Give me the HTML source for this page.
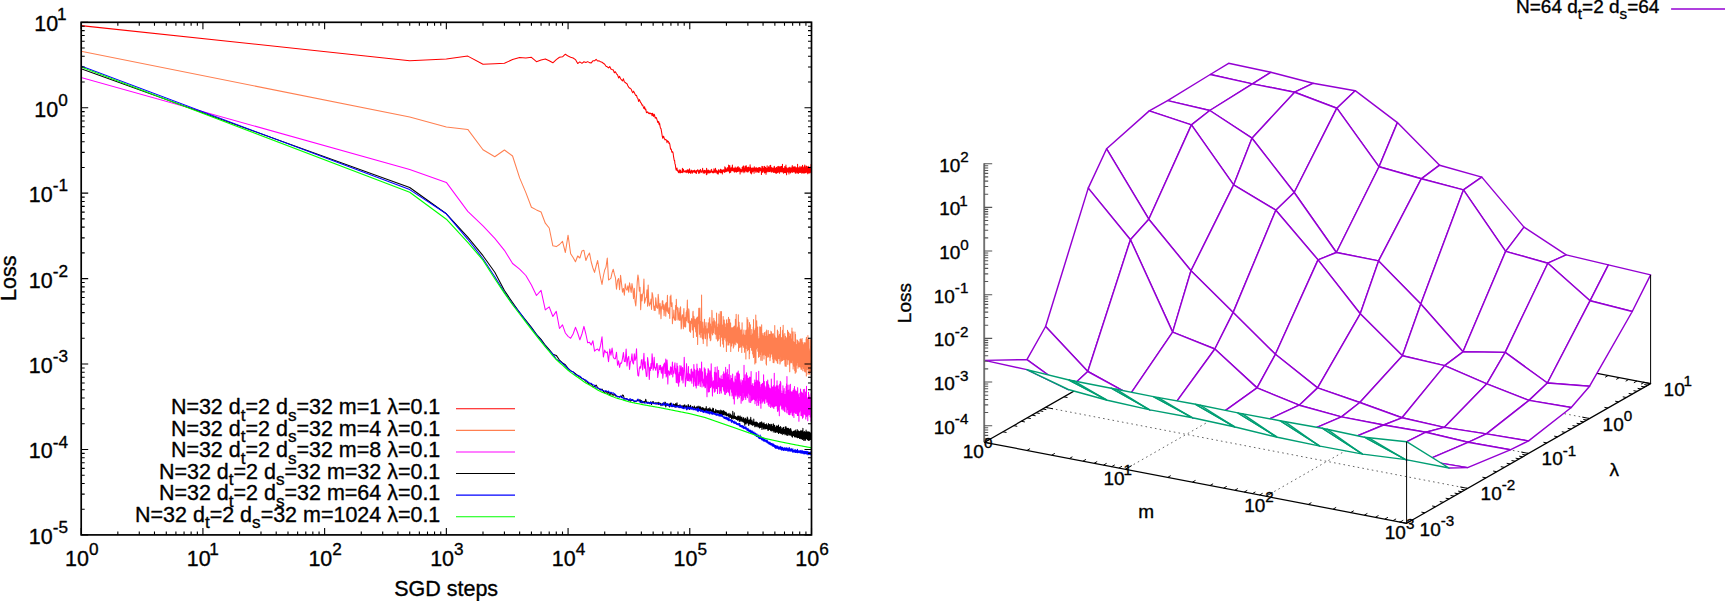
<!DOCTYPE html>
<html lang="en"><head><meta charset="utf-8"><title>Loss plots</title>
<style>html,body{margin:0;padding:0;background:#fff}body{width:1725px;height:601px;overflow:hidden}svg{display:block}svg text{stroke:#000;stroke-width:.35px;stroke-linejoin:round}</style></head>
<body>
<svg width="1725" height="601" viewBox="0 0 1725 601">
<rect width="1725" height="601" fill="#fff"/>
<g id="left" font-family='"Liberation Sans", "DejaVu Sans", sans-serif' fill="#000">
<clipPath id="lclip"><rect x="81.2" y="22.3" width="730.3" height="512.6"/></clipPath>
<g clip-path="url(#lclip)" fill="none" stroke-linejoin="round" stroke-linecap="butt">
<polyline stroke="#ff0000" stroke-width="1.05" points="81,25.6 409.71,60.7 446.35,59.1 467.78,56.1 482.99,64.2 494.79,63.8 504.42,63.3 512.57,59.6 519.63,57.5 525.86,58 531.43,57.3 536.46,61.7 541.06,60 545.3,58.9 549.21,60.7 552.86,62.8 556.27,59.6 559.48,57.3 562.5,56.8 565.36,54.2 568.07,56.1 570.65,57.3 573.1,58 575.45,59.6 577.7,63.5 579.86,61.9 581.94,63.32 583.93,61.73 585.85,62.47 587.71,61.61 589.5,62.62 591.23,62.92 592.91,60.81 594.54,60.85 596.12,59.29 597.65,61.01 599.14,60.89 600.59,61.83 602,62.22 603.37,63.28 604.71,64.2 606.01,66.24 607.29,66.84 608.53,67.93 609.75,66.59 610.93,68.99 612.09,69.66 613.23,69.84 614.34,72.76 615.43,71.76 616.5,73.79 617.55,74.87 618.58,77.91 619.58,76.41 620.57,78.77 621.54,79.83 622.49,80.89 623.43,78.84 624.35,81.91 625.25,82.47 626.14,83.34 627.01,83.71 627.87,85.81 628.72,87.11 629.55,88.12 630.37,88.27 631.18,89.28 631.97,91.19 632.76,92.75 633.53,91.13 634.29,92.57 635.04,94.21 635.78,95.4 636.51,95.34 637.23,97.77 637.94,98.6 638.64,101.48 639.33,99.59 640.01,100.94 640.68,102.84 641.35,103.11 642,105.15 642.65,104.95 643.29,106.89 643.93,108.47 644.55,106.67 645.17,109.67 645.78,109.15 646.39,112.41 646.98,112.64 647.57,111.81 648.16,112.45 648.74,113.57 649.31,113.76 649.87,112.73 650.43,113.73 650.99,113.63 651.53,113.43 652.08,115.76 652.61,113.16 653.14,115.49 653.67,116.36 654.19,114.2 654.71,115.71 655.22,118.27 655.72,117.54 656.22,117.41 656.72,118.8 657.21,120.31 657.7,122.33 658.18,122.58 658.66,121.37 659.13,124.69 659.6,123.28 660.07,126.28 660.53,128.33 660.99,128.52 661.44,131.1 661.89,133.91 662.34,136.6 662.78,138.27 663.22,136.52 663.65,136.32 664.09,137.83 664.51,138.83 664.94,139.86 665.36,139.36 665.78,139.63 666.19,140.01 666.6,140.03 667.01,142.64 667.42,140.67 667.82,141.49 668.22,141.23 668.61,141.91 669.01,143.56 669.4,143.03 669.78,144.07 670.17,146.56 670.55,149.15 670.93,148.97 671.31,149.22 671.68,151.24 672.05,152.35 672.42,151.71 672.78,151.96 673.15,153.47 673.51,156.29 673.87,158.46 674.22,160.48 674.58,160.35 674.93,163.66 675.28,164.42 675.62,167.1 675.97,169.4 676.31,170.18 676.65,168.99 676.99,167.99 677.32,170.21 677.66,170.99 677.99,171.18 678.32,172.21 678.64,172.65 678.97,170.2 679.29,169.79 679.61,172.02 679.93,172.87 680.25,172.89 680.57,169.94 680.88,172.58 681.19,171.79 681.5,171.94 681.81,172.38 682.12,172.6 682.42,168.3 682.72,171.75 683.03,172.33 683.33,169.16 683.62,170.36 683.92,170.82 684.21,171.67 684.51,171.42 684.8,171.22 685.09,172 685.38,171.03 685.66,170.95 685.95,170.51 686.23,172.69 686.51,170.99 686.79,171.58 687.07,171.84 687.35,169.66 687.63,170.64 687.9,172.49 688.17,170.07 688.45,173.17 688.72,170.09 688.98,171.7 689.25,172.58 689.52,168.85 689.78,172.44 690.05,171.58 690.31,172.95 690.57,171.38 690.83,173.55 691.09,169.99 691.35,171.98 691.6,171.39 691.86,170.42 692.11,172.13 692.36,173.11 692.61,172.98 692.86,170.74 693.11,171.39 693.36,171.9 693.61,170.53 693.85,171.56 694.1,172 694.34,171.05 694.58,170.16 694.82,172.53 695.06,170.77 695.3,172.45 695.54,172.53 695.77,172.97 696.01,172.75 696.24,170.59 696.48,173.46 696.71,170.8 696.94,171.84 697.17,170.95 697.4,170.89 697.63,169.72 697.86,170.27 698.08,170.7 698.31,170.43 698.53,172.42 698.76,173.49 698.98,173.17 699.2,171.6 699.42,171.37 699.64,170.19 699.86,172.8 700.08,171.66 700.29,170.91 700.51,169.4 700.73,171.2 700.94,171.32 701.15,171.46 701.37,172.42 701.58,171.34 701.79,170.88 702,171.02 702.21,170.39 702.42,171.32 702.63,168.28 702.83,170.98 703.04,173.01 703.24,172.66 703.45,170.67 703.65,171.26 703.86,172.28 704.06,171.2 704.26,173.34 704.46,170.26 704.66,172.61 704.86,172.88 705.06,170.53 705.25,171.72 705.45,171.55 705.65,172.09 705.84,172.08 706.04,172.34 706.23,170.12 706.42,174.8 706.62,168.38 706.81,170.22 707,174.33 707.19,171.63 707.38,170.4 707.57,171.91 707.76,171.22 707.95,172.71 708.13,171.96 708.32,169.92 708.51,171.65 708.69,172.96 708.87,172.56 709.06,170.89 709.24,170.48 709.42,171.87 709.61,171.83 709.79,172.92 709.97,171.83 710.15,172.32 710.33,172.66 710.51,171.66 710.69,171.43 710.86,170.52 711.04,169.97 711.22,171.62 711.39,171.94 711.57,169.32 711.74,170.48 711.92,170.75 712.09,171.75 712.26,171.82 712.44,172.72 712.61,172.02 712.78,171.93 712.95,171.52 713.12,171.26 713.29,173.01 713.46,171.02 713.63,172.53 713.8,172.15 713.96,168.71 714.13,171.68 714.3,169.75 714.46,170 714.63,172.14 714.79,170.91 714.96,172.82 715.12,172.41 715.28,171.63 715.45,168.33 715.61,171.24 715.77,171.55 715.93,171.98 716.09,171.98 716.25,170.12 716.41,170.73 716.57,172.45 716.73,170.69 716.89,171.72 717.05,173.56 717.21,171.06 717.36,172.96 717.52,172.35 717.68,171.24 717.83,173.37 717.99,174.13 718.14,171.72 718.3,173.91 718.45,169.67 718.6,170.28 718.76,172.73 718.91,172.12 719.06,171.6 719.21,172.07 719.37,170.79 719.52,171.18 719.67,171.79 719.82,171.03 719.97,172.01 720.11,171.24 720.26,169.21 720.41,172.84 720.56,171.35 720.71,172.49 720.85,169.36 721,172.53 721.15,172.32 721.29,170.84 721.44,171.17 721.58,170.24 721.73,170.9 721.87,172.79 722.02,170.11 722.16,172.25 722.3,174.07 722.45,172.77 722.59,170.31 722.73,171.11 722.87,169.99 723.01,170.71 723.15,171.79 723.29,171.58 723.43,170.85 723.57,169.67 723.71,170.22 723.85,171.25 723.99,170.47 724.13,171.06 724.27,170.52 724.4,172.55 724.54,171.08 724.68,172.01 724.81,166.8 724.95,171.91 725.09,170.39 725.22,172.07 725.36,168.25 725.49,167.77 725.62,169.29 725.76,168.89 725.89,169.27 726.03,169.89 726.16,171.15 726.29,171.61 726.42,171.48 726.56,169.1 726.69,169.37 726.82,168.81 726.95,170.58 727.08,170.33 727.21,168.58 727.34,167.49 727.47,169.08 727.6,171.17 727.73,168.59 727.86,170.43 727.99,170.73 728.11,169.7 728.24,169.33 728.37,171.04 728.5,170.43 728.62,165.12 728.75,168.06 728.88,169.7 729,170.23 729.13,171.55 729.25,170.26 729.38,168.73 729.5,172.5 729.63,172.94 729.75,165.56 729.88,167.65 730,169.54 730.12,170.31 730.25,168.36 730.37,168.8 730.49,172.03 730.61,171.16 730.74,172.35 730.86,168.09 730.98,169.32 731.1,167.94 731.22,169.17 731.34,170.81 731.46,170.33 731.58,168.18 731.7,170.07 731.82,170.4 731.94,166.95 732.06,169.6 732.18,170.07 732.3,170.77 732.41,165.01 732.53,169.52 732.65,170.64 732.77,170.56 732.88,170.19 733,168.48 733.12,169.87 733.23,168.79 733.35,167.94 733.47,170.41 733.58,169.52 733.7,170.35 733.81,170.74 733.93,171.68 734.04,168.75 734.16,171.34 734.27,169.4 734.38,169.17 734.5,168.39 734.61,170.51 734.72,169.54 734.84,172.26 734.95,170.04 735.06,169.7 735.17,167.1 735.28,170.11 735.4,168.45 735.51,169.69 735.62,168.65 735.73,168.91 735.84,168.87 735.95,171.45 736.06,168.23 736.17,170.8 736.28,168.29 736.39,167.93 736.5,170.39 736.61,172.28 736.72,170.46 736.83,170.48 736.94,171.65 737.04,170.79 737.15,170.79 737.26,168.52 737.37,167.62 737.47,167.3 737.58,170.81 737.69,170.24 737.79,168.98 737.9,171.48 738.01,170.53 738.11,166.61 738.22,169.37 738.32,170.59 738.43,168.89 738.54,169.67 738.64,170.47 738.75,170.81 738.85,171.15 738.95,168.09 739.06,170.58 739.16,169.69 739.27,168.99 739.37,168.18 739.47,169.05 739.58,167.91 739.68,167.81 739.78,170.32 739.88,171.29 739.99,171.27 740.09,174.08 740.19,169.42 740.29,171.05 740.39,168.96 740.5,171.45 740.6,170.13 740.7,170.06 740.8,169.4 740.9,170.07 741,171.63 741.1,170.29 741.2,170.15 741.3,171.19 741.4,169.9 741.5,170.83 741.6,170.04 741.7,169.82 741.8,169.29 741.89,171.21 741.99,172.15 742.09,169.42 742.19,167.31 742.29,167.61 742.39,168.26 742.48,169.83 742.58,169.89 742.68,170.09 742.77,169.38 742.87,170.86 742.97,168.99 743.06,166.58 743.16,169.23 743.26,165.92 743.35,171.34 743.45,170.72 743.54,166.47 743.64,169.11 743.74,170.93 743.83,166.13 743.93,172.84 744.02,168.72 744.12,166.86 744.21,170.06 744.3,171.01 744.4,170.05 744.49,170.58 744.59,170.39 744.68,169.67 744.77,170.1 744.87,170.73 744.96,171.08 745.05,171.88 745.15,168.32 745.24,171.06 745.33,167.8 745.42,170.76 745.52,166.1 745.61,167.49 745.7,170.29 745.79,169.97 745.88,169.91 745.97,167.06 746.06,169.85 746.16,170.88 746.25,168.59 746.34,165.83 746.43,169.89 746.52,171.19 746.61,169.04 746.7,168.08 746.79,171.15 746.88,171.82 746.97,168.55 747.06,171.55 747.15,168.64 747.24,167.47 747.33,169.75 747.41,168.21 747.5,169.61 747.59,170.83 747.68,169.82 747.77,170.65 747.86,172.3 747.94,171.08 748.03,168.07 748.12,169.7 748.21,170.1 748.3,167.09 748.38,171.4 748.47,170.6 748.56,169.08 748.64,168.83 748.73,171.07 748.82,171.01 748.9,167.43 748.99,168.37 749.08,168.61 749.16,167.87 749.25,168.41 749.33,169.3 749.42,169.46 749.5,169.98 749.59,169.03 749.68,169.98 749.76,168.78 749.85,169.63 749.93,170.78 750.01,169.09 750.1,164.78 750.18,168.79 750.27,169.76 750.35,168.72 750.44,172.88 750.52,169.04 750.6,166.95 750.69,170.13 750.77,168.57 750.85,169.4 750.94,172.23 751.02,171.4 751.1,169.06 751.19,170.99 751.27,170.4 751.35,169.1 751.43,169.6 751.52,168.87 751.6,173.86 751.68,168.29 751.76,169.48 751.84,168.43 751.93,170.29 752.01,168.96 752.09,172.26 752.17,167.69 752.25,170.41 752.33,169.22 752.41,169.67 752.49,171.41 752.57,170.33 752.65,169.49 752.73,169.68 752.81,171.51 752.9,169.89 752.98,169.47 753.06,168.59 753.13,169.66 753.21,168.3 753.29,168.06 753.37,170.3 753.45,170.57 753.53,170.24 753.61,171.23 753.69,169.73 753.77,168.63 753.85,169.59 753.93,169.84 754,168.38 754.08,173.28 754.16,168.97 754.24,170.38 754.32,166.87 754.4,170.67 754.47,168.52 754.55,169.04 754.63,170.81 754.71,168.99 754.78,169.06 754.86,168.59 754.94,170.43 755.01,170.78 755.09,170.6 755.17,169.51 755.24,171.08 755.32,170.61 755.4,168.45 755.47,169.32 755.55,171.21 755.63,170.7 755.7,168.49 755.78,169.72 755.85,170.08 755.93,167.6 756.01,172.39 756.08,172.11 756.16,167.4 756.23,170.74 756.31,171.1 756.38,169.07 756.46,168.81 756.53,170.6 756.61,171.07 756.68,169.99 756.76,169.33 756.83,169.11 756.9,169.94 756.98,169.88 757.05,169.82 757.13,168.1 757.2,171.15 757.27,171.14 757.35,170.55 757.42,168.68 757.49,170.38 757.57,171.93 757.64,169.53 757.71,170.64 757.79,171.11 757.86,170.44 757.93,170.9 758.01,170.15 758.08,169.11 758.15,168.24 758.22,169.28 758.3,169.64 758.37,172.11 758.44,169.13 758.51,167.82 758.58,171.93 758.66,172.3 758.73,170.06 758.8,169.98 758.87,167.44 758.94,169.77 759.01,172.49 759.09,171.77 759.16,168.77 759.23,169.69 759.3,170.6 759.37,168.44 759.44,168.95 759.51,169.12 759.58,170.09 759.65,170.85 759.72,170.93 759.79,167.57 759.86,169.2 759.93,170.44 760,167.45 760.07,170.1 760.14,169.64 760.21,170.75 760.28,168.98 760.35,170.24 760.42,168.41 760.49,168.4 760.56,170.12 760.63,169.68 760.7,170.67 760.77,168.86 760.84,170.37 760.91,170.08 760.97,169.68 761.04,170.71 761.11,170.71 761.18,170.64 761.25,169.04 761.32,168.9 761.39,170.67 761.45,174.46 761.52,169.4 761.59,171.32 761.66,169.8 761.73,168.09 761.79,169.25 761.86,170.49 761.93,166.27 762,172.31 762.06,168.92 762.13,169.01 762.2,169.8 762.27,171.36 762.33,167.91 762.4,168.88 762.47,168.71 762.53,168.93 762.6,172.15 762.67,168.99 762.73,172.31 762.8,166.84 762.87,167.67 762.93,168.61 763,166.49 763.06,170.94 763.13,168.99 763.2,171.21 763.26,168.27 763.33,168.81 763.39,170.63 763.46,170.02 763.52,170.88 763.59,170.32 763.66,170.72 763.72,169.69 763.79,168.61 763.85,170.69 763.92,168.2 763.98,168.95 764.05,170.77 764.11,168.3 764.18,170.08 764.24,171.71 764.3,168.62 764.37,171.39 764.43,172.86 764.5,172.47 764.56,166.23 764.63,171.35 764.69,168.4 764.75,167.6 764.82,171.67 764.88,170.57 764.95,170.25 765.01,171.85 765.07,169.3 765.14,169.71 765.2,167.84 765.26,167.79 765.33,169.53 765.39,172.52 765.45,171.7 765.52,167.38 765.58,170.08 765.64,168.37 765.71,170.07 765.77,168.14 765.83,170.08 765.89,171.83 765.96,172.5 766.02,174.18 766.08,170.29 766.14,170.22 766.21,170.96 766.27,172.57 766.33,170.58 766.39,170.3 766.45,170.39 766.52,170.97 766.58,169.92 766.64,169.72 766.7,171.64 766.76,169.11 766.83,168.07 766.89,168 766.95,171.87 767.01,171.96 767.07,168 767.13,165.74 767.19,167.93 767.25,168.16 767.32,171.48 767.38,170.2 767.44,169.87 767.5,170.72 767.56,170.77 767.62,169.64 767.68,169.24 767.74,169.45 767.8,169.42 767.86,170.54 767.92,169.17 767.98,170.1 768.04,171.24 768.1,168.63 768.16,168.21 768.22,171.22 768.28,169.04 768.34,171.17 768.4,167.95 768.46,170.58 768.52,166.84 768.58,170.64 768.64,171.3 768.7,170.07 768.76,171.79 768.82,170.94 768.88,169.37 768.94,170.54 769,167.63 769.05,170.6 769.11,169.55 769.17,171.06 769.23,169.3 769.29,171.4 769.35,170.9 769.41,168.71 769.47,169.2 769.52,170.59 769.58,171.06 769.64,167.77 769.7,169.67 769.76,171.13 769.82,169.7 769.87,165.72 769.93,170.67 769.99,168.91 770.05,171.69 770.11,168.38 770.16,169.28 770.22,169.04 770.28,165.28 770.34,169.01 770.39,168.76 770.45,168.86 770.51,168.01 770.57,170.06 770.62,167.1 770.68,165.57 770.74,168.79 770.8,169.73 770.85,170.19 770.91,170.64 770.97,170.15 771.02,170.7 771.08,170.04 771.14,168.39 771.19,169.01 771.25,169.98 771.31,168.37 771.36,171.63 771.42,169.41 771.48,167.56 771.53,168.13 771.59,171.36 771.65,170.23 771.7,168.15 771.76,170.33 771.81,170.23 771.87,172.11 771.93,169.27 771.98,169.89 772.04,171.63 772.09,172.04 772.15,168.93 772.2,169.44 772.26,170.76 772.31,168.4 772.37,168.08 772.43,170.6 772.48,170.91 772.54,169.2 772.59,170.98 772.65,168.79 772.7,171.35 772.76,169.3 772.81,168.23 772.87,169.3 772.92,169.91 772.98,169.32 773.03,170.99 773.09,169.92 773.14,168.41 773.2,168.51 773.25,168.56 773.3,170.35 773.36,170.62 773.41,167.97 773.47,171.64 773.52,170.01 773.58,169.03 773.63,169.37 773.68,172.4 773.74,168.62 773.79,170.29 773.85,170.55 773.9,170.59 773.95,168.82 774.01,170.33 774.06,170.4 774.11,171.24 774.17,171.24 774.22,166.37 774.27,169.53 774.33,167.45 774.38,169.96 774.44,166.52 774.49,170.36 774.54,172.12 774.59,169.08 774.65,170.67 774.7,169.75 774.75,169.34 774.81,169.71 774.86,170.68 774.91,170.25 774.97,168.1 775.02,170.55 775.07,171.48 775.12,169.05 775.18,167.9 775.23,171.13 775.28,171.46 775.33,172.78 775.39,171.82 775.44,168.27 775.49,169.01 775.54,168.23 775.59,169.3 775.65,168.8 775.7,171.4 775.75,168.73 775.8,171.39 775.85,170.84 775.91,170.39 775.96,170.99 776.01,170.99 776.06,170.54 776.11,171.59 776.16,168.31 776.22,173.45 776.27,171.4 776.32,171.04 776.37,169.98 776.42,169.06 776.47,167.18 776.52,171.21 776.58,170.46 776.63,169.81 776.68,172.48 776.73,169.87 776.78,169.04 776.83,168.11 776.88,168.21 776.93,167.92 776.98,171.02 777.03,170.3 777.09,171.17 777.14,168.95 777.19,168.88 777.24,170.36 777.29,168.91 777.34,170.24 777.39,168.79 777.44,169.43 777.49,170.65 777.54,171.38 777.59,171.15 777.64,171.69 777.69,172.61 777.74,166.56 777.79,168.84 777.84,169.91 777.89,168.35 777.94,168.32 777.99,170.64 778.04,169.66 778.09,166.21 778.14,170.38 778.19,170.53 778.24,170.72 778.29,170.37 778.34,169.71 778.39,170.44 778.44,168.06 778.49,169.72 778.53,168.38 778.58,171.94 778.63,170.94 778.68,170.25 778.73,170.99 778.78,170.1 778.83,170.64 778.88,170.05 778.93,168.09 778.98,170.4 779.03,171.17 779.07,167.97 779.12,166.65 779.17,171.05 779.22,168.27 779.27,169.88 779.32,171.51 779.37,171.31 779.42,173.27 779.46,170.52 779.51,166.95 779.56,170.19 779.61,171.86 779.66,170.33 779.71,169.52 779.75,170.11 779.8,169.3 779.85,171.3 779.9,167.39 779.95,169.86 779.99,171.31 780.04,170.32 780.09,169.8 780.14,166.83 780.19,170.16 780.23,168.3 780.28,169.95 780.33,167.8 780.38,170.21 780.42,166.85 780.47,170.5 780.52,168.77 780.57,169.63 780.61,171.74 780.66,170.09 780.71,169.01 780.76,170.99 780.8,169.04 780.85,170.68 780.9,169.57 780.94,171.37 780.99,167.73 781.04,171.96 781.09,171.35 781.13,168.26 781.18,169.97 781.23,169.37 781.27,170.52 781.32,166.55 781.37,170.9 781.41,168.55 781.46,168.17 781.51,168.55 781.55,168.33 781.6,168.47 781.65,170.6 781.69,170.59 781.74,166.4 781.79,170.39 781.83,169.73 781.88,168.74 781.92,168.78 781.97,169.99 782.02,171.77 782.06,170.04 782.11,169.52 782.16,168.46 782.2,170.87 782.25,171.16 782.29,170.61 782.34,171.9 782.39,169.61 782.43,168.75 782.48,164.27 782.52,170.5 782.57,169.85 782.61,169.83 782.66,171.07 782.71,172.09 782.75,170.14 782.8,168.8 782.84,170.02 782.89,171.1 782.93,171.03 782.98,170.67 783.02,168.79 783.07,171.6 783.11,169.16 783.16,169.16 783.2,170.66 783.25,169.46 783.29,170.7 783.34,170.36 783.38,169.21 783.43,170.84 783.47,170.55 783.52,168.16 783.56,168.77 783.61,173.18 783.65,170.1 783.7,168.29 783.74,170.15 783.79,171.17 783.83,171.26 783.88,172.07 783.92,169.91 783.97,170.69 784.01,169.93 784.05,168.8 784.1,172.27 784.14,171.58 784.19,170.21 784.23,171.7 784.28,170.06 784.32,171.39 784.36,170.2 784.41,168.72 784.45,172.25 784.5,171.12 784.54,172.36 784.59,169.86 784.63,170.96 784.67,168.89 784.72,166.58 784.76,169.61 784.8,171.95 784.85,170.48 784.89,170.56 784.94,166.96 784.98,170.48 785.02,170.95 785.07,172.29 785.11,168.36 785.15,168.35 785.2,169.85 785.24,172.51 785.28,168.04 785.33,170.85 785.37,170.36 785.41,169.91 785.46,169.88 785.5,167.87 785.54,171.35 785.59,170.3 785.63,171.41 785.67,171.82 785.72,167.02 785.76,171.49 785.8,172.69 785.85,172.52 785.89,170.49 785.93,165.1 785.97,171.67 786.02,170.53 786.06,169.53 786.1,168.19 786.15,169.72 786.19,169.97 786.23,168.02 786.27,170.8 786.32,170.03 786.36,168.39 786.4,172.05 786.44,169.2 786.49,172.19 786.53,172.64 786.57,174.65 786.61,171.38 786.66,170.15 786.7,170.66 786.74,170.5 786.78,167.67 786.82,169.96 786.87,172.12 786.91,170.78 786.95,169.89 786.99,169.79 787.03,170.5 787.08,170.7 787.12,171.55 787.16,172.18 787.2,171.19 787.24,170.98 787.29,171.89 787.33,169.84 787.37,169.7 787.41,171.37 787.45,169.07 787.49,169.1 787.54,171.45 787.58,169.41 787.62,170.28 787.66,168.94 787.7,171.4 787.74,169.28 787.78,170.89 787.83,171.42 787.87,169.73 787.91,170.96 787.95,168.16 787.99,169.96 788.03,171.68 788.07,171.46 788.11,169.78 788.16,169.86 788.2,171.54 788.24,170.83 788.28,167.75 788.32,170.92 788.36,171.47 788.4,169.97 788.44,171.87 788.48,170.28 788.52,170.46 788.57,170.33 788.61,168.02 788.65,169.16 788.69,170.26 788.73,172.38 788.77,171.46 788.81,172.01 788.85,171.36 788.89,171.12 788.93,170.71 788.97,174.02 789.01,171.31 789.05,171.2 789.09,167.93 789.13,171.73 789.17,170.9 789.21,172.23 789.25,172.24 789.29,169.65 789.33,171.54 789.38,171.83 789.42,169.75 789.46,168.8 789.5,170.59 789.54,170.87 789.58,167.9 789.62,171.02 789.66,169.36 789.7,168.7 789.74,170 789.78,171.26 789.82,167.22 789.85,169.89 789.89,169.52 789.93,170.31 789.97,171.29 790.01,167.32 790.05,169.72 790.09,170.84 790.13,172.23 790.17,169.88 790.21,168.46 790.25,169.45 790.29,171.85 790.33,170.06 790.37,169.12 790.41,168.82 790.45,170.52 790.49,168.57 790.53,172.87 790.57,171.53 790.61,168.26 790.65,169.45 790.68,170.94 790.72,170.33 790.76,170.66 790.8,169.16 790.84,171.66 790.88,168.81 790.92,169.84 790.96,169.88 791,168.7 791.04,169.68 791.07,169.11 791.11,170.91 791.15,168.64 791.19,171.04 791.23,169.06 791.27,170.27 791.31,169.97 791.35,170.33 791.38,169.48 791.42,171.41 791.46,170.34 791.5,171.67 791.54,171.63 791.58,171.4 791.62,169.43 791.65,171.89 791.69,170.56 791.73,170.21 791.77,167.37 791.81,171.06 791.85,171.02 791.89,169.01 791.92,172.01 791.96,171.56 792,169.81 792.04,166.69 792.08,170.43 792.11,170.18 792.15,165.99 792.19,171.25 792.23,167.29 792.27,165.49 792.3,167.95 792.34,170.68 792.38,170.77 792.42,172.36 792.46,169.2 792.49,169.44 792.53,168.68 792.57,169.91 792.61,168.56 792.65,171.54 792.68,171.16 792.72,170.13 792.76,169.67 792.8,168.29 792.83,170.72 792.87,170.46 792.91,167.33 792.95,169.88 792.98,170.13 793.02,170.16 793.06,169.9 793.1,168.91 793.13,170.59 793.17,169.37 793.21,168.19 793.25,168.29 793.28,169.72 793.32,170.31 793.36,167.73 793.4,169.11 793.43,170.48 793.47,170.51 793.51,170.72 793.54,170.93 793.58,167.28 793.62,171.2 793.66,171.93 793.69,170.75 793.73,170.26 793.77,166.68 793.8,170.37 793.84,170.65 793.88,169.49 793.91,169.49 793.95,168.57 793.99,171.2 794.02,170.68 794.06,167.12 794.1,168.77 794.13,169.05 794.17,171.84 794.21,170.37 794.24,170.72 794.28,166.69 794.32,169.91 794.35,169.87 794.39,170.04 794.43,169.91 794.46,170.48 794.5,170.01 794.54,169.56 794.57,169.81 794.61,169.45 794.65,169.07 794.68,168.61 794.72,170.67 794.76,170.22 794.79,170.39 794.83,170.11 794.86,171.6 794.9,169.04 794.94,171.86 794.97,168.61 795.01,169.91 795.04,170.51 795.08,170.3 795.12,172.65 795.15,169.67 795.19,168.82 795.22,166.89 795.26,167.38 795.3,171.49 795.33,168.63 795.37,172.8 795.4,171.62 795.44,172.21 795.48,173.13 795.51,170.96 795.55,170.59 795.58,171.06 795.62,171.09 795.65,169.68 795.69,168.67 795.73,170.41 795.76,168.78 795.8,169.69 795.83,171.04 795.87,169.6 795.9,170.31 795.94,168.02 795.97,170.42 796.01,170.11 796.05,168.48 796.08,168.77 796.12,170.87 796.15,171.16 796.19,167.87 796.22,168.69 796.26,168.02 796.29,170.05 796.33,170.85 796.36,170.53 796.4,172.05 796.43,168.64 796.47,170.06 796.5,171 796.54,171.87 796.57,168.15 796.61,168.53 796.64,168.5 796.68,169.55 796.71,169.66 796.75,171.42 796.78,170.7 796.82,173.08 796.85,168.74 796.89,171.85 796.92,169.98 796.96,171.16 796.99,170.48 797.03,168.15 797.06,169.53 797.1,170.02 797.13,167.48 797.17,170.47 797.2,172.75 797.24,170.42 797.27,171.67 797.31,170.17 797.34,169.83 797.37,170.33 797.41,170.67 797.44,171.02 797.48,172.16 797.51,171.7 797.55,172.23 797.58,164.35 797.62,171.04 797.65,170.24 797.68,170.34 797.72,170.82 797.75,172.06 797.79,169.6 797.82,170.72 797.86,169.56 797.89,168.06 797.92,169.79 797.96,170.06 797.99,171.22 798.03,171.45 798.06,170.09 798.09,170.66 798.13,170.75 798.16,171.21 798.2,171.14 798.23,170.21 798.26,170.71 798.3,173.49 798.33,171.28 798.37,171.45 798.4,170.72 798.43,170.26 798.47,171.56 798.5,170.55 798.54,171.83 798.57,168.88 798.6,167.71 798.64,171.19 798.67,169.18 798.7,170.9 798.74,170.78 798.77,172.09 798.8,171.85 798.84,168.73 798.87,170.61 798.91,171.43 798.94,169.53 798.97,171.9 799.01,167.85 799.04,169.47 799.07,171.45 799.11,170.6 799.14,169.67 799.17,170.78 799.21,168.87 799.24,172.18 799.27,172.52 799.31,170.29 799.34,171.31 799.37,171.24 799.41,170.17 799.44,169.1 799.47,167.79 799.51,170.76 799.54,169.42 799.57,168.81 799.61,172.12 799.64,170.51 799.67,169.97 799.7,168.86 799.74,170.58 799.77,170.98 799.8,170.67 799.84,170.93 799.87,170.57 799.9,167.58 799.94,166.2 799.97,167.75 800,170.97 800.03,169.95 800.07,172.33 800.1,171.75 800.13,169.36 800.16,172.51 800.2,171.37 800.23,170.06 800.26,169.97 800.3,170.89 800.33,168.75 800.36,170.8 800.39,167.61 800.43,170.34 800.46,170.43 800.49,169.91 800.52,170.71 800.56,172.04 800.59,171.45 800.62,169.85 800.65,168.65 800.69,169.68 800.72,169.82 800.75,170.46 800.78,170.42 800.82,170.95 800.85,169.72 800.88,169.19 800.91,167.94 800.95,170.16 800.98,169.58 801.01,167.51 801.04,172.11 801.07,170.97 801.11,169.42 801.14,170.09 801.17,171.8 801.2,171.39 801.23,169.08 801.27,171.18 801.3,168.53 801.33,171.21 801.36,169.39 801.4,166.89 801.43,171.29 801.46,170.65 801.49,169.57 801.52,171 801.55,167.36 801.59,170.07 801.62,167.81 801.65,169.86 801.68,169.08 801.71,170.86 801.75,168.71 801.78,170.04 801.81,171.39 801.84,173.12 801.87,172.4 801.9,169.31 801.94,170.43 801.97,170.86 802,168.74 802.03,169.4 802.06,167.08 802.09,169.13 802.13,169.97 802.16,168.36 802.19,171.03 802.22,170.31 802.25,167.77 802.28,169.91 802.31,170.19 802.35,171.79 802.38,167.35 802.41,171.19 802.44,168.78 802.47,169.11 802.5,169.96 802.53,165.17 802.57,170.05 802.6,171.76 802.63,169.71 802.66,171.86 802.69,170.94 802.72,172.78 802.75,170.44 802.78,170.7 802.82,172.39 802.85,171.84 802.88,171.18 802.91,167.84 802.94,169.53 802.97,169.97 803,170.63 803.03,169.48 803.06,170.66 803.1,170.35 803.13,171.96 803.16,170.26 803.19,170.51 803.22,168.37 803.25,172.01 803.28,170.95 803.31,172.51 803.34,170.75 803.37,170.46 803.4,167.74 803.44,168.35 803.47,171.42 803.5,169.97 803.53,171.1 803.56,168.97 803.59,173.03 803.62,172.22 803.65,169.85 803.68,171.26 803.71,171.55 803.74,171.85 803.77,170.51 803.8,170.11 803.83,170.72 803.86,172.97 803.89,170.27 803.93,167.57 803.96,167.04 803.99,167.88 804.02,172.61 804.05,169.95 804.08,170.63 804.11,168.46 804.14,170.9 804.17,170.99 804.2,169.8 804.23,166.36 804.26,168.71 804.29,172.61 804.32,168.07 804.35,169.24 804.38,169.86 804.41,170.26 804.44,166.54 804.47,172.97 804.5,171.47 804.53,172.2 804.56,167.26 804.59,168.98 804.62,171.3 804.65,170.16 804.68,170.21 804.71,170.61 804.74,170.25 804.77,169.29 804.8,165.08 804.83,171.47 804.86,170.63 804.89,172.26 804.92,168.27 804.95,169.39 804.98,168.39 805.01,171.48 805.04,167.56 805.07,171.04 805.1,168.2 805.13,170.22 805.16,168.53 805.19,171.25 805.22,168.27 805.25,170.59 805.28,168.63 805.31,170.51 805.34,168.99 805.37,170.32 805.4,171.28 805.43,169.63 805.46,170.89 805.49,168.91 805.52,172.57 805.55,169.07 805.58,169.76 805.61,167.98 805.64,169.37 805.67,171.11 805.7,170.6 805.72,168.44 805.75,170.96 805.78,167.53 805.81,172.67 805.84,171.95 805.87,168.6 805.9,168.47 805.93,170.28 805.96,171.21 805.99,171.01 806.02,170.88 806.05,170.88 806.08,165.92 806.11,170.94 806.14,171.35 806.16,171.36 806.19,171.17 806.22,167.05 806.25,170.6 806.28,170.12 806.31,170.96 806.34,167.24 806.37,168.14 806.4,170.5 806.43,170.45 806.46,168.18 806.49,172.07 806.51,166.76 806.54,170 806.57,170.73 806.6,171.04 806.63,171.55 806.66,168 806.69,171.51 806.72,170.62 806.75,171.8 806.78,168.19 806.8,166.28 806.83,170.41 806.86,170.85 806.89,170.7 806.92,171.88 806.95,171.66 806.98,170.33 807.01,168.21 807.03,171.58 807.06,169.7 807.09,169.52 807.12,170.4 807.15,170.08 807.18,170.76 807.21,171.43 807.24,172.8 807.26,168.1 807.29,166.94 807.32,170.87 807.35,170.56 807.38,169.22 807.41,169.9 807.44,170.79 807.46,169.92 807.49,172.16 807.52,169.54 807.55,170.9 807.58,170.55 807.61,170.65 807.64,167.46 807.66,170.42 807.69,170.56 807.72,171.17 807.75,173.65 807.78,169.87 807.81,168.7 807.83,168.35 807.86,169.13 807.89,167.71 807.92,167.86 807.95,173.45 807.98,167.48 808,169.21 808.03,170.79 808.06,169.73 808.09,172.2 808.12,170.92 808.14,171.03 808.17,171.96 808.2,172.36 808.23,170.71 808.26,166.34 808.29,171.48 808.31,172.69 808.34,168.92 808.37,172.64 808.4,170.72 808.43,170.01 808.45,169.13 808.48,170.56 808.51,167.79 808.54,170.9 808.57,170.72 808.59,168.24 808.62,168.63 808.65,170.94 808.68,168.82 808.71,169.75 808.73,169.37 808.76,172.48 808.79,170.89 808.82,170.27 808.84,171.1 808.87,169.97 808.9,169.99 808.93,170.02 808.96,169.43 808.98,172.11 809.01,169.77 809.04,169.37 809.07,171.63 809.09,171.99 809.12,172.83 809.15,169.17 809.18,170.5 809.2,169.97 809.23,169.47 809.26,170.81 809.29,169.32 809.31,171.64 809.34,170.42 809.37,168.24 809.4,170.82 809.42,168.3 809.45,170.61 809.48,167.21 809.51,172.37 809.53,167.16 809.56,171.18 809.59,169.88 809.62,170.44 809.64,169.74 809.67,170.44 809.7,171.55 809.73,169.02 809.75,172.73 809.78,168.4 809.81,171.22 809.84,171.75 809.86,169.03 809.89,168.78 809.92,171.37 809.94,172.87 809.97,169.22 810,171.83 810.03,171.54 810.05,171.42 810.08,170.8 810.11,167.52 810.13,172.62 810.16,171.96 810.19,170.66 810.22,169.48 810.24,169.89 810.27,170.26 810.3,169.87 810.32,171.63 810.35,171.91 810.38,171.35 810.41,171.22 810.43,169.92 810.46,167.92 810.49,171.76 810.51,171.62 810.54,171.49 810.57,169.25 810.59,168.9 810.62,166.8 810.65,168.23 810.67,170.54 810.7,168.34 810.73,170.25 810.75,170.14 810.78,171.91 810.81,171.62 810.84,171.76 810.86,168.45 810.89,169.18 810.92,168.67 810.94,170.78 810.97,171 811,169.74 811.02,170.69 811.05,171.3 811.08,164.29 811.1,168.8 811.13,172.32 811.16,169.76 811.18,171.39 811.21,169.12 811.24,171.98 811.26,170.87 811.29,171.47 811.31,171.2 811.34,170.72 811.37,168.48 811.39,171.43 811.42,171.75 811.45,170.3 811.47,168.77 811.5,170.74"/>
<polyline stroke="#ff7f50" stroke-width="1.05" points="81,51.2 409.71,117.1 446.35,127.1 467.78,129.4 482.99,149.7 494.79,156.7 504.42,150 512.57,156 519.63,177.9 525.86,192.6 531.43,207.2 536.46,209.9 541.06,212 545.3,223.2 549.21,228 552.86,245.8 556.27,246.6 559.48,244.5 562.5,241.3 565.36,252.5 568.07,235.2 570.65,253.8 573.1,257.5 575.45,261.8 577.7,256 579.86,258 581.94,251 583.93,250.3 585.85,260.5 587.71,256 589.5,253 591.23,262 592.91,268 594.54,272.4 596.12,266 597.65,260.5 599.14,270 600.59,278 602,284.4 603.37,276 604.71,270 606.01,267.1 607.29,257.96 608.53,279.98 609.75,279.13 610.93,278.14 612.09,272.7 613.23,269.19 614.34,274.21 615.43,277.54 616.5,289.26 617.55,280.48 618.58,278.48 619.58,289.68 620.57,275.32 621.54,283.88 622.49,292.12 623.43,288.42 624.35,295.23 625.25,283.76 626.14,288.94 627.01,290.27 627.87,285.74 628.72,292.21 629.55,282.89 630.37,287.55 631.18,292.47 631.97,283.55 632.76,288.49 633.53,298.81 634.29,288.37 635.04,301.5 635.78,306.04 636.51,296.13 637.23,282.13 637.94,274.91 638.64,279.37 639.33,291.19 640.01,287.3 640.68,309.62 641.35,294.38 642,301.07 642.65,294.1 643.29,292.73 643.93,278.94 644.55,303.2 645.17,300.87 645.78,297.86 646.39,297.62 646.98,289.85 647.57,306.3 648.16,285.07 648.74,301.68 649.31,305.96 649.87,302.95 650.43,303.97 650.99,299.01 651.53,309.54 652.08,292.56 652.61,294.49 653.14,298.71 653.67,306.56 654.19,310.44 654.71,305.99 655.22,310.51 655.72,297.76 656.22,302.65 656.72,307.7 657.21,306.03 657.7,308.45 658.18,294.39 658.66,299.23 659.13,314.1 659.6,307.89 660.07,303.35 660.53,308.06 660.99,318.75 661.44,306.67 661.89,308.73 662.34,300.85 662.78,300.84 663.22,309.57 663.65,304.65 664.09,315.83 664.51,309.3 664.94,305.73 665.36,303.8 665.78,316.21 666.19,302.55 666.6,303.15 667.01,311.03 667.42,295.31 667.82,311.98 668.22,312.32 668.61,313.52 669.01,307.8 669.4,311.82 669.78,318.53 670.17,296.44 670.55,303.67 670.93,295.06 671.31,306.47 671.68,304.23 672.05,302.81 672.42,323.63 672.78,317.96 673.15,318.25 673.51,316.55 673.87,310.01 674.22,317.22 674.58,319.99 674.93,319.74 675.28,320.57 675.62,305.47 675.97,319.83 676.31,299.37 676.65,309.31 676.99,309.17 677.32,307.28 677.66,313.08 677.99,319.89 678.32,316.36 678.64,318.44 678.97,308.05 679.29,320.3 679.61,312.87 679.93,320.13 680.25,314.54 680.57,306.83 680.88,318.22 681.19,328.93 681.5,326.71 681.81,319.17 682.12,315.8 682.42,314.71 682.72,315.46 683.03,318.06 683.33,328.66 683.62,312.48 683.92,308.55 684.21,326.77 684.51,318.87 684.8,322.12 685.09,317.59 685.38,327.04 685.66,326.71 685.95,316.36 686.23,312.01 686.51,320.73 686.79,310.18 687.07,311 687.35,300.08 687.63,315.79 687.9,321.97 688.17,321.43 688.45,322.84 688.72,308.7 688.98,310.67 689.25,316.68 689.52,331.2 689.78,326.08 690.05,320.96 690.31,329.44 690.57,332.35 690.83,321.21 691.09,323.72 691.35,320.56 691.6,318.51 691.86,321.28 692.11,321.48 692.36,329.99 692.61,325.61 692.86,312.85 693.11,311.17 693.36,337.4 693.61,323.34 693.85,316.18 694.1,318.93 694.34,319.82 694.58,326.8 694.82,320 695.06,319.42 695.3,328.59 695.54,327.94 695.77,331.87 696.01,324.45 696.24,318.65 696.48,336.38 696.71,317.99 696.94,333.81 697.17,317.23 697.4,317.12 697.63,344.4 697.86,324.14 698.08,324.03 698.31,316.7 698.53,319 698.76,308.38 698.98,310.98 699.2,325.35 699.42,334.15 699.64,328.68 699.86,307.93 700.08,319.11 700.29,337.2 700.51,322.12 700.73,332.59 700.94,321.38 701.15,328.86 701.37,331.45 701.58,294.97 701.79,337.34 702,326.84 702.21,328.89 702.42,338.7 702.63,338.98 702.83,322.02 703.04,327.8 703.24,343.55 703.45,328.63 703.65,338.68 703.86,338.17 704.06,332.19 704.26,330.66 704.46,319.35 704.66,326.03 704.86,333.21 705.06,325.98 705.25,333.76 705.45,338.72 705.65,330.81 705.84,330.17 706.04,322.5 706.23,330.56 706.42,329.03 706.62,332.31 706.81,334.98 707,345.94 707.19,328.8 707.38,339.17 707.57,336.66 707.76,330.09 707.95,332 708.13,322.81 708.32,324.09 708.51,326.29 708.69,322.92 708.87,332.91 709.06,332.58 709.24,319.1 709.42,329.11 709.61,338.04 709.79,317.56 709.97,335.15 710.15,326.38 710.33,340.81 710.51,323.97 710.69,336.47 710.86,339.98 711.04,326.8 711.22,333.46 711.39,326.59 711.57,327.98 711.74,326.78 711.92,310.38 712.09,313.74 712.26,326.89 712.44,334.23 712.61,334.94 712.78,334.14 712.95,322.57 713.12,321.76 713.29,326.02 713.46,332.76 713.63,328.7 713.8,318.26 713.96,325.31 714.13,327.07 714.3,320.15 714.46,327.14 714.63,322.15 714.79,325.1 714.96,333.67 715.12,321.84 715.28,325.8 715.45,334.28 715.61,325.77 715.77,327.25 715.93,328.04 716.09,327.65 716.25,338.86 716.41,330.14 716.57,313.07 716.73,327.15 716.89,330.33 717.05,330.76 717.21,332.23 717.36,331.55 717.52,340.87 717.68,333.96 717.83,326.94 717.99,338.39 718.14,324.08 718.3,340.25 718.45,335.47 718.6,335.4 718.76,330.11 718.91,314 719.06,338.68 719.21,325.02 719.37,330.65 719.52,327.92 719.67,334.49 719.82,329.7 719.97,325.59 720.11,329.56 720.26,311.55 720.41,346.21 720.56,332.02 720.71,334.27 720.85,332.04 721,327.09 721.15,331.01 721.29,336.06 721.44,311.49 721.58,337.17 721.73,326.97 721.87,331.33 722.02,330.69 722.16,324.91 722.3,340.27 722.45,336.79 722.59,327.94 722.73,343.94 722.87,335.19 723.01,333.23 723.15,316.51 723.29,337.33 723.43,320.14 723.57,347.11 723.71,331.72 723.85,333.7 723.99,324.64 724.13,339.6 724.27,320.01 724.4,329.97 724.54,331.32 724.68,323.06 724.81,336.58 724.95,327.35 725.09,337.71 725.22,324.31 725.36,335.25 725.49,327.37 725.62,331.2 725.76,337.5 725.89,341.08 726.03,337.19 726.16,338.96 726.29,338.43 726.42,351.38 726.56,319.74 726.69,334.86 726.82,336.67 726.95,331.82 727.08,323.25 727.21,334.85 727.34,340.98 727.47,331.23 727.6,340.12 727.73,333.19 727.86,345.1 727.99,336.28 728.11,328.93 728.24,318.99 728.37,328.49 728.5,317.17 728.62,325.18 728.75,327.37 728.88,344.95 729,323.25 729.13,332.95 729.25,334.58 729.38,339.83 729.5,333.17 729.63,319.26 729.75,326.77 729.88,342.6 730,327.6 730.12,330.86 730.25,343.03 730.37,323.09 730.49,336.05 730.61,323.08 730.74,351.53 730.86,336.39 730.98,339.28 731.1,337.38 731.22,327.92 731.34,335.29 731.46,341.96 731.58,327.74 731.7,345.86 731.82,330.7 731.94,340.54 732.06,342.42 732.18,327.75 732.3,343.31 732.41,341.75 732.53,330.75 732.65,330.56 732.77,333.3 732.88,340.15 733,329.78 733.12,334.87 733.23,327.25 733.35,348.07 733.47,330.05 733.58,327.12 733.7,342.25 733.81,341.83 733.93,346.3 734.04,334.08 734.16,343.06 734.27,325.96 734.38,340.01 734.5,344.02 734.61,338.04 734.72,332.25 734.84,327.98 734.95,327.81 735.06,328.58 735.17,337.64 735.28,330.89 735.4,319.27 735.51,330.42 735.62,341.75 735.73,344.67 735.84,337.23 735.95,330.38 736.06,333.89 736.17,314.22 736.28,329.74 736.39,336.98 736.5,330.05 736.61,341.79 736.72,342.17 736.83,332.51 736.94,331.67 737.04,330.94 737.15,334.97 737.26,334.87 737.37,327.67 737.47,343.1 737.58,340.47 737.69,327.14 737.79,335 737.9,338.35 738.01,337.2 738.11,339.41 738.22,341.34 738.32,314.85 738.43,330.69 738.54,351.14 738.64,343.28 738.75,343.39 738.85,333.5 738.95,342.57 739.06,322.35 739.16,331.82 739.27,325.15 739.37,338.86 739.47,347.6 739.58,336.74 739.68,327.89 739.78,341.25 739.88,337.92 739.99,342.54 740.09,334.01 740.19,332.48 740.29,330.45 740.39,342.99 740.5,339.04 740.6,347.1 740.7,340.32 740.8,338.3 740.9,339.8 741,329.8 741.1,346.61 741.2,334.82 741.3,332.91 741.4,336.66 741.5,337.71 741.6,334.4 741.7,339.4 741.8,352.57 741.89,332.51 741.99,336.45 742.09,322.82 742.19,341.62 742.29,341.61 742.39,342.8 742.48,345.24 742.58,340.72 742.68,341.64 742.77,335.32 742.87,339.9 742.97,340.12 743.06,334.71 743.16,344.31 743.26,344.97 743.35,347.23 743.45,341.83 743.54,333.84 743.64,343.74 743.74,338.29 743.83,333.11 743.93,330.11 744.02,343.96 744.12,345.25 744.21,338.92 744.3,343.44 744.4,340.6 744.49,343.59 744.59,352.26 744.68,343.29 744.77,335.15 744.87,341.66 744.96,345.41 745.05,345.36 745.15,343.21 745.24,344.04 745.33,346.91 745.42,339.52 745.52,348.19 745.61,343.16 745.7,334.39 745.79,330.61 745.88,358.99 745.97,336.5 746.06,345.44 746.16,330.04 746.25,342.11 746.34,348.58 746.43,335.38 746.52,335.31 746.61,339.64 746.7,344.17 746.79,331 746.88,331.97 746.97,335 747.06,317.51 747.15,327.29 747.24,338.78 747.33,338.34 747.41,344.43 747.5,331.98 747.59,350.66 747.68,340.45 747.77,338.43 747.86,348.8 747.94,319.82 748.03,349.18 748.12,344.54 748.21,349.39 748.3,338.9 748.38,335.53 748.47,349.59 748.56,331.6 748.64,341.26 748.73,329.87 748.82,347.94 748.9,340.4 748.99,334.69 749.08,338.6 749.16,327.53 749.25,358.79 749.33,337.02 749.42,351.57 749.5,322.58 749.59,353.41 749.68,344.5 749.76,336.4 749.85,337.56 749.93,343.15 750.01,332.8 750.1,344.72 750.18,332.28 750.27,332.53 750.35,324.86 750.44,345.47 750.52,341.39 750.6,344.97 750.69,336.46 750.77,347.41 750.85,346.78 750.94,335.59 751.02,343.7 751.1,337.15 751.19,339.33 751.27,337.99 751.35,343.47 751.43,338.49 751.52,338.31 751.6,350.33 751.68,339.41 751.76,329.41 751.84,343.57 751.93,342.97 752.01,336.72 752.09,336.74 752.17,336.56 752.25,334.74 752.33,342.84 752.41,334.12 752.49,346.65 752.57,344.15 752.65,353.75 752.73,350.2 752.81,349.77 752.9,350.54 752.98,341.32 753.06,339.31 753.13,340.87 753.21,355.27 753.29,327.09 753.37,348.37 753.45,357.54 753.53,319.47 753.61,344.93 753.69,352.3 753.77,356.92 753.85,346.81 753.93,332.95 754,342.07 754.08,342.91 754.16,330.38 754.24,351.69 754.32,349.71 754.4,338.3 754.47,340.79 754.55,335.92 754.63,344.83 754.71,343.42 754.78,341.06 754.86,364.01 754.94,350.56 755.01,338.82 755.09,341.88 755.17,343.59 755.24,328.52 755.32,353.21 755.4,342.24 755.47,337.58 755.55,339.38 755.63,342.39 755.7,345.13 755.78,315.04 755.85,354.01 755.93,362.67 756.01,351.83 756.08,345.92 756.16,335.44 756.23,324.11 756.31,340.43 756.38,325.77 756.46,348.89 756.53,332.69 756.61,345.23 756.68,320.71 756.76,325.26 756.83,347.55 756.9,341.46 756.98,336.11 757.05,347.52 757.13,345.84 757.2,344.6 757.27,329.69 757.35,341.86 757.42,342.12 757.49,346.04 757.57,335.93 757.64,342.5 757.71,327.14 757.79,351.16 757.86,333.2 757.93,341.99 758.01,340.69 758.08,336.31 758.15,346.86 758.22,339.75 758.3,345.07 758.37,350.22 758.44,343.45 758.51,357.32 758.58,343.93 758.66,343.42 758.73,345.6 758.8,354.58 758.87,344.96 758.94,343.82 759.01,338.85 759.09,356.04 759.16,344.15 759.23,344.89 759.3,356.5 759.37,351.7 759.44,342.33 759.51,340.17 759.58,348.29 759.65,348.7 759.72,326.68 759.79,350.67 759.86,344.75 759.93,349.51 760,348.17 760.07,351.86 760.14,345 760.21,341.88 760.28,352.72 760.35,343.7 760.42,345.28 760.49,354.58 760.56,327.06 760.63,336.74 760.7,343.76 760.77,351.35 760.84,360.17 760.91,339.55 760.97,345.41 761.04,334.52 761.11,341.08 761.18,336.82 761.25,337.84 761.32,340.12 761.39,334.62 761.45,344.23 761.52,344.36 761.59,351.82 761.66,324.67 761.73,337.93 761.79,345.46 761.86,349.36 761.93,352.12 762,345.21 762.06,335.13 762.13,357.69 762.2,360.38 762.27,348.33 762.33,347.14 762.4,355.59 762.47,347.9 762.53,342.67 762.6,337.04 762.67,349.14 762.73,339.4 762.8,342.75 762.87,345.94 762.93,344.17 763,333.31 763.06,334.23 763.13,346.17 763.2,339.58 763.26,339 763.33,339.03 763.39,340.3 763.46,354.86 763.52,343.27 763.59,335.78 763.66,354.63 763.72,339.4 763.79,344.99 763.85,354.69 763.92,341.92 763.98,358.98 764.05,346.29 764.11,344.81 764.18,338.73 764.24,337.59 764.3,349.74 764.37,336.56 764.43,343.48 764.5,354.31 764.56,332.62 764.63,351.47 764.69,341.63 764.75,342.87 764.82,340.01 764.88,349.7 764.95,344.98 765.01,345.29 765.07,346.18 765.14,336.61 765.2,340.25 765.26,348.74 765.33,354.41 765.39,355.38 765.45,352.04 765.52,354.42 765.58,339.43 765.64,342.8 765.71,351.67 765.77,346.33 765.83,350.93 765.89,347.41 765.96,331.67 766.02,344.76 766.08,363.76 766.14,355.13 766.21,340.5 766.27,338.22 766.33,342.61 766.39,337.58 766.45,365 766.52,334.75 766.58,342.65 766.64,346.46 766.7,330.02 766.76,350.95 766.83,342.79 766.89,342.42 766.95,354.41 767.01,344.66 767.07,336.34 767.13,346.09 767.19,340.01 767.25,343.84 767.32,352.61 767.38,354.61 767.44,351.08 767.5,341.43 767.56,346.34 767.62,356.15 767.68,350.38 767.74,357.28 767.8,352.72 767.86,353.9 767.92,344.1 767.98,334.87 768.04,348.34 768.1,344.98 768.16,345.93 768.22,330.6 768.28,342.64 768.34,346.52 768.4,339.87 768.46,356.75 768.52,349.38 768.58,340.59 768.64,346.88 768.7,339.5 768.76,345.05 768.82,350.11 768.88,343.93 768.94,350.33 769,347.14 769.05,345.53 769.11,353.31 769.17,345.53 769.23,334.51 769.29,346.39 769.35,347.87 769.41,338.42 769.47,342.58 769.52,346.3 769.58,352.51 769.64,341.11 769.7,352.84 769.76,357.47 769.82,351.01 769.87,339.3 769.93,334.38 769.99,360.63 770.05,359.58 770.11,344.51 770.16,357.34 770.22,350.7 770.28,343.09 770.34,350.59 770.39,345.77 770.45,350.28 770.51,357.33 770.57,347.62 770.62,341.72 770.68,351.71 770.74,356.52 770.8,349.38 770.85,347.63 770.91,331.15 770.97,335.21 771.02,346.5 771.08,339.03 771.14,350.82 771.19,353.06 771.25,345.89 771.31,347.04 771.36,353.75 771.42,331.7 771.48,336.27 771.53,349.57 771.59,351.49 771.65,354.09 771.7,346.94 771.76,350.14 771.81,337.09 771.87,351.37 771.93,350.7 771.98,346.6 772.04,346.34 772.09,340.78 772.15,351.16 772.2,337.95 772.26,345.21 772.31,333.74 772.37,343.61 772.43,338.74 772.48,346.09 772.54,356.4 772.59,335.65 772.65,359.02 772.7,349.68 772.76,335.67 772.81,357.62 772.87,358.14 772.92,350.19 772.98,335.19 773.03,352.18 773.09,354.08 773.14,362.58 773.2,346.38 773.25,353.08 773.3,357.38 773.36,333.88 773.41,356.5 773.47,344.35 773.52,347.92 773.58,349.34 773.63,351.95 773.68,344.17 773.74,344.4 773.79,343.2 773.85,350 773.9,340.51 773.95,362.81 774.01,345.02 774.06,346.2 774.11,361.39 774.17,359.56 774.22,349.36 774.27,352.1 774.33,337.96 774.38,343.28 774.44,357.96 774.49,343.21 774.54,335.49 774.59,339.51 774.65,350.38 774.7,351.06 774.75,325.5 774.81,349.4 774.86,350.8 774.91,350.67 774.97,335.83 775.02,342.48 775.07,356.02 775.12,349.61 775.18,341.78 775.23,359.1 775.28,341.75 775.33,349.04 775.39,347.7 775.44,346.37 775.49,345.19 775.54,343.02 775.59,343.4 775.65,355.43 775.7,353.69 775.75,345.64 775.8,345.56 775.85,345.6 775.91,343.54 775.96,337.82 776.01,342.15 776.06,348.04 776.11,360.83 776.16,347.76 776.22,338.99 776.27,345.12 776.32,344.12 776.37,351.9 776.42,338.28 776.47,348.16 776.52,347.23 776.58,352.31 776.63,345.35 776.68,345.56 776.73,345.74 776.78,352.56 776.83,339.57 776.88,347.01 776.93,348.54 776.98,352.72 777.03,360.63 777.09,351.93 777.14,342.96 777.19,354.32 777.24,340.67 777.29,362.51 777.34,354.63 777.39,330.14 777.44,343.45 777.49,335.18 777.54,354.02 777.59,359.19 777.64,352.61 777.69,344.56 777.74,348.11 777.79,363.58 777.84,350.8 777.89,346.45 777.94,331.32 777.99,338.65 778.04,352.96 778.09,346.4 778.14,343.05 778.19,346.96 778.24,351.99 778.29,358.67 778.34,342.71 778.39,343.95 778.44,358.08 778.49,349.3 778.53,350.62 778.58,351.41 778.63,347.65 778.68,349.01 778.73,349.8 778.78,355.32 778.83,336.12 778.88,341.57 778.93,358.46 778.98,346.17 779.03,346.18 779.07,353.38 779.12,347.99 779.17,339.49 779.22,346.64 779.27,355.94 779.32,350.97 779.37,342.52 779.42,334.39 779.46,354.84 779.51,340.9 779.56,350.14 779.61,348.53 779.66,357.62 779.71,352.28 779.75,360.58 779.8,360.65 779.85,360.05 779.9,352.61 779.95,364.09 779.99,353.11 780.04,344.03 780.09,346.23 780.14,362.92 780.19,362.98 780.23,351.41 780.28,337.08 780.33,331.92 780.38,354.76 780.42,336.66 780.47,327.18 780.52,350.61 780.57,330.73 780.61,356.5 780.66,354.7 780.71,354.77 780.76,356.5 780.8,344.3 780.85,355.1 780.9,356.63 780.94,355.35 780.99,355.97 781.04,354.22 781.09,355.83 781.13,338.03 781.18,348.15 781.23,343.18 781.27,349.09 781.32,361.26 781.37,359.64 781.41,350.67 781.46,337.63 781.51,350.34 781.55,351.96 781.6,355.66 781.65,349.57 781.69,355.43 781.74,349.38 781.79,360.15 781.83,350.26 781.88,359.72 781.92,348.51 781.97,344.92 782.02,351.89 782.06,345.87 782.11,346.75 782.16,344.91 782.2,353.63 782.25,342.02 782.29,355.27 782.34,348.97 782.39,348.91 782.43,353.19 782.48,354.9 782.52,341.16 782.57,330.36 782.61,360.38 782.66,353.01 782.71,356.48 782.75,353.44 782.8,346.96 782.84,353.67 782.89,344.35 782.93,344.7 782.98,350.11 783.02,349.28 783.07,338.48 783.11,351.74 783.16,325.36 783.2,335.53 783.25,353.76 783.29,341.36 783.34,334.54 783.38,338.3 783.43,334.49 783.47,354.52 783.52,357.32 783.56,344.18 783.61,340.92 783.65,354.77 783.7,359.74 783.74,350.92 783.79,358.02 783.83,351.12 783.88,355.43 783.92,347.41 783.97,352.96 784.01,354.66 784.05,349.29 784.1,349.74 784.14,340.01 784.19,346.69 784.23,356.59 784.28,353.92 784.32,358.47 784.36,359.2 784.41,352.67 784.45,346.77 784.5,359.45 784.54,350.06 784.59,339.48 784.63,354.93 784.67,349.96 784.72,335.8 784.76,350.28 784.8,333.56 784.85,364.03 784.89,345.68 784.94,349.74 784.98,355.92 785.02,352.03 785.07,365.94 785.11,351.17 785.15,364.48 785.2,349.87 785.24,359.83 785.28,352.9 785.33,351.9 785.37,342 785.41,351.15 785.46,346.27 785.5,352.72 785.54,336.32 785.59,348.19 785.63,346.01 785.67,347.76 785.72,352.68 785.76,348.92 785.8,358.93 785.85,349.35 785.89,346.75 785.93,366.11 785.97,357.3 786.02,362.61 786.06,366.52 786.1,349.91 786.15,350.82 786.19,346.23 786.23,365.75 786.27,352.36 786.32,345.07 786.36,348.49 786.4,353.21 786.44,340.16 786.49,346.35 786.53,356.68 786.57,345.3 786.61,340.62 786.66,337.66 786.7,358.5 786.74,357.17 786.78,354.81 786.82,348.5 786.87,359.08 786.91,353.62 786.95,349.32 786.99,353.69 787.03,345.74 787.08,354.88 787.12,352.29 787.16,358.96 787.2,353.52 787.24,356.77 787.29,358.72 787.33,348.69 787.37,337.75 787.41,354.45 787.45,349.12 787.49,346.26 787.54,330.37 787.58,359.9 787.62,359.17 787.66,357.31 787.7,355.67 787.74,361.86 787.78,364.36 787.83,349.95 787.87,354.51 787.91,353.01 787.95,347.75 787.99,352.1 788.03,341.95 788.07,338.23 788.11,334.58 788.16,342.67 788.2,344.2 788.24,352.49 788.28,355.42 788.32,337.02 788.36,352.55 788.4,350.17 788.44,358.9 788.48,354.94 788.52,350.55 788.57,353.27 788.61,332.06 788.65,359.84 788.69,353.48 788.73,351.11 788.77,354.84 788.81,342.25 788.85,358.36 788.89,349.31 788.93,353.12 788.97,350.15 789.01,352.51 789.05,345.21 789.09,359.97 789.13,342.56 789.17,336.44 789.21,349.76 789.25,351.12 789.29,352.76 789.33,357.66 789.38,337.42 789.42,358.22 789.46,364.89 789.5,352.69 789.54,349.64 789.58,360.42 789.62,362.44 789.66,355.74 789.7,344.65 789.74,371.81 789.78,355.63 789.82,354.73 789.85,357.84 789.89,359.03 789.93,333.56 789.97,360.15 790.01,363.52 790.05,351.53 790.09,352.91 790.13,361.13 790.17,352.89 790.21,359.34 790.25,362.53 790.29,358.29 790.33,343.8 790.37,354.51 790.41,348.12 790.45,352.74 790.49,334.56 790.53,347.98 790.57,354.04 790.61,350.67 790.65,361.81 790.68,341.32 790.72,344.63 790.76,349.27 790.8,351.01 790.84,345.03 790.88,354.4 790.92,341.23 790.96,357.08 791,354.73 791.04,362.31 791.07,356.49 791.11,342.28 791.15,351.96 791.19,360.59 791.23,354.75 791.27,352.94 791.31,338.84 791.35,348.3 791.38,357.23 791.42,356.71 791.46,346.6 791.5,357.19 791.54,356.79 791.58,361.22 791.62,348.16 791.65,346.61 791.69,362.84 791.73,355.3 791.77,345.45 791.81,331.07 791.85,354.04 791.89,353.07 791.92,344.52 791.96,328.11 792,354.49 792.04,334.47 792.08,344.77 792.11,353.94 792.15,347.51 792.19,357.9 792.23,353.67 792.27,345.04 792.3,359.62 792.34,350.1 792.38,351.53 792.42,354.72 792.46,349.3 792.49,349.07 792.53,354.68 792.57,344.52 792.61,360.34 792.65,341.15 792.68,349.52 792.72,358.99 792.76,359.59 792.8,359.5 792.83,348.57 792.87,364.23 792.91,349.24 792.95,360.65 792.98,353.15 793.02,351.03 793.06,331.71 793.1,355.89 793.13,368.93 793.17,355.04 793.21,344.38 793.25,362.07 793.28,344.46 793.32,346.04 793.36,356.14 793.4,350.88 793.43,347.11 793.47,361.97 793.51,351.14 793.54,349.57 793.58,348.85 793.62,347.08 793.66,341.76 793.69,357.48 793.73,347.4 793.77,342.5 793.8,359.52 793.84,358.9 793.88,348.94 793.91,353.11 793.95,356.68 793.99,359.29 794.02,352.1 794.06,347.98 794.1,352.28 794.13,357.37 794.17,359.63 794.21,366.23 794.24,345.95 794.28,358.32 794.32,353.27 794.35,342.87 794.39,363.05 794.43,354.54 794.46,352.28 794.5,349.83 794.54,351.14 794.57,354.48 794.61,349.89 794.65,347.27 794.68,370.44 794.72,347.95 794.76,349.68 794.79,345.55 794.83,345.82 794.86,356.46 794.9,361.53 794.94,351.38 794.97,332.05 795.01,344.47 795.04,360.12 795.08,352.56 795.12,353.16 795.15,358.6 795.19,359.49 795.22,373.18 795.26,354.37 795.3,359.45 795.33,364.11 795.37,361.57 795.4,352.18 795.44,342.58 795.48,359.97 795.51,334.47 795.55,355.05 795.58,372.12 795.62,355.47 795.65,365 795.69,358.65 795.73,355.61 795.76,359.85 795.8,369.93 795.83,347.71 795.87,352.43 795.9,350.4 795.94,347.65 795.97,357.12 796.01,358.1 796.05,355.45 796.08,349.35 796.12,344.56 796.15,344.83 796.19,359.37 796.22,372.02 796.26,353.01 796.29,353.21 796.33,359.15 796.36,346.91 796.4,364.53 796.43,357.08 796.47,365.35 796.5,364.06 796.54,346.87 796.57,359.9 796.61,355.68 796.64,362.71 796.68,358.21 796.71,365.32 796.75,360.13 796.78,352.92 796.82,354.18 796.85,362.77 796.89,358.33 796.92,356.05 796.96,352.02 796.99,339.81 797.03,349.8 797.06,358.08 797.1,352.99 797.13,355.85 797.17,350.87 797.2,356.85 797.24,356.15 797.27,358.17 797.31,353.16 797.34,359.37 797.37,360.53 797.41,353.5 797.44,355.57 797.48,351.64 797.51,359.59 797.55,362.03 797.58,350.72 797.62,340.45 797.65,350.6 797.68,357 797.72,362.31 797.75,356.53 797.79,355.87 797.82,352.69 797.86,361.95 797.89,349.21 797.92,350.72 797.96,368.26 797.99,346.21 798.03,349.67 798.06,355.46 798.09,357.56 798.13,363.21 798.16,344.72 798.2,353.81 798.23,349.83 798.26,341.42 798.3,361.27 798.33,364.78 798.37,359.81 798.4,359.33 798.43,349.21 798.47,359.14 798.5,354.65 798.54,355.43 798.57,361.33 798.6,343 798.64,354.04 798.67,355.76 798.7,356.34 798.74,366.59 798.77,357.68 798.8,359.36 798.84,354.92 798.87,363.04 798.91,347.13 798.94,362.47 798.97,351.16 799.01,357.74 799.04,357.57 799.07,357.55 799.11,358.47 799.14,366.45 799.17,356.15 799.21,366.9 799.24,360.01 799.27,363.41 799.31,363.43 799.34,349.28 799.37,356.88 799.41,354.43 799.44,342.73 799.47,358.23 799.51,363.56 799.54,357.68 799.57,366.04 799.61,358.89 799.64,357.98 799.67,351.64 799.7,344.91 799.74,359.15 799.77,350.47 799.8,343.91 799.84,341.82 799.87,353.65 799.9,350.96 799.94,343.85 799.97,366.56 800,354.36 800.03,361.88 800.07,339.15 800.1,340.66 800.13,364.94 800.16,346.26 800.2,362.3 800.23,356.53 800.26,339.35 800.3,355.1 800.33,348.99 800.36,366.28 800.39,366.14 800.43,356.62 800.46,346.25 800.49,349.11 800.52,348.91 800.56,363.97 800.59,347.16 800.62,364.27 800.65,351.76 800.69,348.54 800.72,367.85 800.75,350.13 800.78,338.9 800.82,360.58 800.85,350.58 800.88,364.36 800.91,339.35 800.95,346.14 800.98,360.4 801.01,357.17 801.04,339.81 801.07,369.37 801.11,361.37 801.14,353.07 801.17,348.25 801.2,342.41 801.23,353.96 801.27,346.3 801.3,348.97 801.33,353.47 801.36,355.1 801.4,357.06 801.43,349.43 801.46,364.53 801.49,358.66 801.52,359.82 801.55,369.1 801.59,350.28 801.62,355.31 801.65,343.75 801.68,351.26 801.71,353.76 801.75,366.51 801.78,361.91 801.81,345.65 801.84,354.61 801.87,361.8 801.9,359.44 801.94,355.24 801.97,352.9 802,351.25 802.03,355.58 802.06,360.39 802.09,338.59 802.13,349.17 802.16,340.79 802.19,356.14 802.22,361.07 802.25,365.93 802.28,360.11 802.31,360.1 802.35,358.22 802.38,356.25 802.41,357.21 802.44,342.27 802.47,364.52 802.5,358.32 802.53,358.12 802.57,343.21 802.6,361.34 802.63,366.98 802.66,349.58 802.69,357.53 802.72,350.04 802.75,353.44 802.78,363.96 802.82,370.82 802.85,349.99 802.88,351.89 802.91,349.66 802.94,351.02 802.97,347.88 803,356.64 803.03,344.48 803.06,350.05 803.1,366.33 803.13,350.27 803.16,357.37 803.19,362.71 803.22,359.72 803.25,359.26 803.28,356.78 803.31,346.53 803.34,365.07 803.37,359.63 803.4,360.25 803.44,365 803.47,368.57 803.5,357.52 803.53,354.31 803.56,358.53 803.59,350.44 803.62,351 803.65,360.19 803.68,351.85 803.71,361.7 803.74,349.05 803.77,348.77 803.8,361.52 803.83,351.9 803.86,349.06 803.89,360.46 803.93,350.15 803.96,360.95 803.99,357 804.02,342.52 804.05,357.78 804.08,363.38 804.11,355.6 804.14,365.18 804.17,345.91 804.2,350.51 804.23,357.5 804.26,346.94 804.29,346.41 804.32,343.02 804.35,371.12 804.38,364.9 804.41,369.81 804.44,356.35 804.47,366.87 804.5,355.17 804.53,356.01 804.56,347.9 804.59,362.14 804.62,356.41 804.65,360.46 804.68,353.37 804.71,351.05 804.74,358.89 804.77,359.91 804.8,358.56 804.83,361.85 804.86,352.61 804.89,361.97 804.92,345.88 804.95,360.81 804.98,359.71 805.01,361.03 805.04,342.83 805.07,362.84 805.1,364.09 805.13,359.05 805.16,356.29 805.19,371.99 805.22,362.8 805.25,355.44 805.28,355.45 805.31,369.44 805.34,351.1 805.37,365.03 805.4,354.65 805.43,347.39 805.46,362.03 805.49,362.13 805.52,345.78 805.55,357.66 805.58,357.28 805.61,361.58 805.64,348.79 805.67,366.59 805.7,344.45 805.72,351.73 805.75,349.54 805.78,348.84 805.81,371.61 805.84,356.23 805.87,353.51 805.9,347.54 805.93,366.79 805.96,360.4 805.99,365.99 806.02,348.49 806.05,360.85 806.08,361.95 806.11,339.01 806.14,361.22 806.16,361.71 806.19,350.28 806.22,350.62 806.25,347.87 806.28,358.62 806.31,358.97 806.34,376.02 806.37,357.01 806.4,351.64 806.43,337.17 806.46,365.36 806.49,355.42 806.51,355.88 806.54,349.54 806.57,352.45 806.6,365.42 806.63,368.78 806.66,361.28 806.69,361.26 806.72,359.88 806.75,358.93 806.78,361.69 806.8,363.9 806.83,351.82 806.86,351.46 806.89,350.02 806.92,364.74 806.95,369.45 806.98,363.62 807.01,358.03 807.03,358.54 807.06,351.07 807.09,357.83 807.12,364.73 807.15,355.55 807.18,341.38 807.21,357.09 807.24,342.06 807.26,367.08 807.29,339.4 807.32,353.05 807.35,358.96 807.38,363.89 807.41,354.51 807.44,343.26 807.46,366.9 807.49,362.5 807.52,352.94 807.55,349.34 807.58,359.87 807.61,362.14 807.64,353.17 807.66,342.65 807.69,359.28 807.72,342.18 807.75,352.15 807.78,357.94 807.81,339.37 807.83,354.6 807.86,343.23 807.89,353.87 807.92,335.43 807.95,354.55 807.98,355.83 808,355.34 808.03,360.14 808.06,371.17 808.09,349.86 808.12,374.19 808.14,361.72 808.17,361.25 808.2,352.61 808.23,366.46 808.26,355.35 808.29,362.79 808.31,355.37 808.34,355.99 808.37,359.2 808.4,369.61 808.43,369.48 808.45,350.39 808.48,353.43 808.51,357.42 808.54,355.78 808.57,359.29 808.59,351.14 808.62,367.88 808.65,347.93 808.68,349.16 808.71,365.71 808.73,354.51 808.76,360.47 808.79,368.87 808.82,339.27 808.84,347.85 808.87,363.59 808.9,342.23 808.93,360.81 808.96,359.82 808.98,357.21 809.01,361.59 809.04,351.36 809.07,351.37 809.09,360.39 809.12,357.16 809.15,358.73 809.18,361.72 809.2,352.74 809.23,350.79 809.26,361.43 809.29,363.32 809.31,364.88 809.34,355.26 809.37,373.4 809.4,352.87 809.42,367.91 809.45,361.55 809.48,351.31 809.51,359.68 809.53,355.18 809.56,357.73 809.59,368.39 809.62,358.28 809.64,352.42 809.67,364.82 809.7,368.73 809.73,370.36 809.75,360.51 809.78,357.78 809.81,355.63 809.84,351.17 809.86,374.13 809.89,367.05 809.92,354.68 809.94,358.78 809.97,360.75 810,372.23 810.03,359.65 810.05,352.58 810.08,348.86 810.11,366.69 810.13,363.29 810.16,366.15 810.19,359.6 810.22,372.56 810.24,349.09 810.27,356.81 810.3,357.58 810.32,349.78 810.35,365.33 810.38,339.6 810.41,350.58 810.43,349.37 810.46,363.03 810.49,353.63 810.51,360.83 810.54,368.57 810.57,371.75 810.59,349.57 810.62,369.46 810.65,356.83 810.67,364.95 810.7,361.5 810.73,360 810.75,361.67 810.78,351.71 810.81,358.75 810.84,358.91 810.86,362.3 810.89,360.62 810.92,357.3 810.94,350.75 810.97,369.58 811,360.72 811.02,371.58 811.05,366.92 811.08,359.47 811.1,350.21 811.13,346.87 811.16,364.47 811.18,364.13 811.21,354.49 811.24,356.55 811.26,367.87 811.29,351.57 811.31,358.19 811.34,361.32 811.37,359.14 811.39,357.53 811.42,347.89 811.45,360.78 811.47,359.58 811.5,362.97"/>
<polyline stroke="#ff00ff" stroke-width="1.05" points="81,77.5 409.71,169.5 446.35,182.4 467.78,211.4 482.99,225.8 494.79,238.4 504.42,250.3 512.57,263.5 519.63,269.2 525.86,275.5 531.43,285 536.46,295.5 541.06,290.4 545.3,309.9 549.21,306.9 552.86,316.5 556.27,311.4 559.48,328.5 562.5,324.9 565.36,333 568.07,336.3 570.65,338.3 573.1,334 575.45,327.3 577.7,333 579.86,339.8 581.94,334 583.93,326.4 585.85,334 587.71,342.8 589.5,342.35 591.23,344.97 592.91,340.78 594.54,351.11 596.12,349.65 597.65,349.05 599.14,350.93 600.59,345.41 602,336.76 603.37,357.08 604.71,350.14 606.01,352.77 607.29,351.83 608.53,361.74 609.75,348.97 610.93,355.11 612.09,348.11 613.23,356.98 614.34,358.83 615.43,358.75 616.5,352.17 617.55,365.32 618.58,360.82 619.58,367.47 620.57,362.91 621.54,363.24 622.49,358.57 623.43,352.45 624.35,361.53 625.25,361.61 626.14,348.93 627.01,365.93 627.87,358.22 628.72,356.39 629.55,369.54 630.37,361.59 631.18,360.78 631.97,353.84 632.76,362.72 633.53,363.94 634.29,353.77 635.04,360.39 635.78,358.41 636.51,348.68 637.23,367.55 637.94,375.35 638.64,376.02 639.33,368.5 640.01,366.58 640.68,368.21 641.35,360.21 642,359.52 642.65,370 643.29,363.68 643.93,353.2 644.55,368.22 645.17,361.7 645.78,371.13 646.39,376.56 646.98,376.02 647.57,357.6 648.16,361.87 648.74,368.15 649.31,379.53 649.87,367.24 650.43,370.43 650.99,363.63 651.53,368.46 652.08,353.77 652.61,360.43 653.14,370.12 653.67,367.41 654.19,357.38 654.71,367.86 655.22,367.62 655.72,370.31 656.22,367.66 656.72,363.63 657.21,363.63 657.7,377.4 658.18,373.97 658.66,371.74 659.13,365.29 659.6,369.51 660.07,369.05 660.53,365.39 660.99,370.89 661.44,373.29 661.89,367.53 662.34,366.79 662.78,378.17 663.22,373.88 663.65,364.86 664.09,363.93 664.51,362.97 664.94,373.5 665.36,372.32 665.78,359.09 666.19,376.93 666.6,374.91 667.01,360.03 667.42,366.3 667.82,384.06 668.22,370.57 668.61,372.97 669.01,371.43 669.4,374.33 669.78,375.22 670.17,371.25 670.55,366.73 670.93,372.39 671.31,374.38 671.68,367.3 672.05,369.93 672.42,361.92 672.78,376.97 673.15,371.06 673.51,373.4 673.87,372.3 674.22,366.17 674.58,365.67 674.93,362.87 675.28,373.85 675.62,368.47 675.97,374.05 676.31,382.52 676.65,372.83 676.99,363.23 677.32,383.02 677.66,366.29 677.99,373.93 678.32,374.81 678.64,386.27 678.97,377.06 679.29,372.37 679.61,381.98 679.93,365.64 680.25,373.17 680.57,369.74 680.88,375.49 681.19,366.12 681.5,374.69 681.81,380.26 682.12,372.22 682.42,367.43 682.72,367.97 683.03,382.94 683.33,377.97 683.62,370.55 683.92,371.11 684.21,357.38 684.51,366.64 684.8,373.31 685.09,378.28 685.38,386.4 685.66,383.13 685.95,380.21 686.23,377.55 686.51,363.65 686.79,368.99 687.07,374.85 687.35,380.27 687.63,380.55 687.9,373.64 688.17,380.52 688.45,366.48 688.72,377.69 688.98,373.77 689.25,381.32 689.52,374.01 689.78,374.81 690.05,374.91 690.31,377.93 690.57,379.97 690.83,381.08 691.09,369.23 691.35,377.14 691.6,368.91 691.86,383.15 692.11,371.05 692.36,374.26 692.61,375.08 692.86,377.14 693.11,372.16 693.36,375.51 693.61,386.3 693.85,364.51 694.1,373.17 694.34,376.12 694.58,369.33 694.82,381.55 695.06,381.9 695.3,385.81 695.54,379.6 695.77,380.05 696.01,370.29 696.24,388.01 696.48,381.47 696.71,385.3 696.94,364.07 697.17,374.93 697.4,368.22 697.63,369.81 697.86,370.3 698.08,385.52 698.31,385.01 698.53,371.87 698.76,383.6 698.98,371.29 699.2,378.71 699.42,381.73 699.64,368.21 699.86,369.66 700.08,384.78 700.29,386.45 700.51,377.76 700.73,381.2 700.94,371.34 701.15,368.39 701.37,380.31 701.58,362.1 701.79,380.15 702,386.9 702.21,375.76 702.42,371.86 702.63,378.88 702.83,381.18 703.04,383.01 703.24,380.28 703.45,383.1 703.65,386.3 703.86,378.85 704.06,385.87 704.26,367.68 704.46,385.02 704.66,385.15 704.86,377.81 705.06,387.8 705.25,368.96 705.45,387.44 705.65,372.82 705.84,379.42 706.04,382.47 706.23,377.26 706.42,375.9 706.62,384.36 706.81,387.62 707,396.66 707.19,383.4 707.38,378.03 707.57,373.62 707.76,379.45 707.95,376.56 708.13,368.55 708.32,391.68 708.51,374.48 708.69,369.74 708.87,392.1 709.06,373.22 709.24,386.26 709.42,391.45 709.61,381.08 709.79,375.4 709.97,370.82 710.15,373.91 710.33,375.64 710.51,387.68 710.69,384.96 710.86,372.26 711.04,378.98 711.22,363.82 711.39,375.94 711.57,375.57 711.74,386.64 711.92,377.44 712.09,381.62 712.26,386.13 712.44,396 712.61,383.7 712.78,387.81 712.95,381.44 713.12,383.71 713.29,388.1 713.46,380.75 713.63,383.1 713.8,383.15 713.96,382.3 714.13,384.72 714.3,392.15 714.46,372.2 714.63,374.83 714.79,383.15 714.96,385.98 715.12,367.37 715.28,391.26 715.45,373.16 715.61,376.63 715.77,380.56 715.93,384.94 716.09,372.71 716.25,373.69 716.41,388.38 716.57,388.38 716.73,376.62 716.89,376.92 717.05,378.34 717.21,366.72 717.36,379.76 717.52,393.42 717.68,389.25 717.83,385.65 717.99,382.69 718.14,386.86 718.3,385.71 718.45,386.45 718.6,370.16 718.76,383.86 718.91,377.3 719.06,380.86 719.21,386.37 719.37,385.06 719.52,378.25 719.67,393.44 719.82,387.5 719.97,384.35 720.11,389.76 720.26,379.01 720.41,390.66 720.56,384.49 720.71,378.82 720.85,379.15 721,380.75 721.15,375.78 721.29,392.92 721.44,386.53 721.58,382.19 721.73,384.55 721.87,380.59 722.02,379.57 722.16,385.91 722.3,386.84 722.45,382.52 722.59,384.89 722.73,381.26 722.87,380.14 723.01,374.17 723.15,385.91 723.29,385.45 723.43,390.08 723.57,388.26 723.71,371.76 723.85,386.73 723.99,391.17 724.13,376.32 724.27,380.1 724.4,384.16 724.54,379.71 724.68,394.12 724.81,373.78 724.95,388.93 725.09,373.69 725.22,375.87 725.36,394.37 725.49,384.88 725.62,367.39 725.76,382.41 725.89,380.51 726.03,376.05 726.16,372.42 726.29,386.29 726.42,385.32 726.56,392.75 726.69,392.51 726.82,379.17 726.95,388.3 727.08,385.62 727.21,388.33 727.34,369.5 727.47,380.14 727.6,377.27 727.73,380.97 727.86,391.5 727.99,382.92 728.11,389.02 728.24,383.7 728.37,379.62 728.5,392.15 728.62,374.65 728.75,386.11 728.88,382.95 729,388.32 729.13,387.14 729.25,364.56 729.38,394.27 729.5,381.84 729.63,389.86 729.75,395.82 729.88,380.28 730,389.06 730.12,389.84 730.25,388.86 730.37,388.88 730.49,380.28 730.61,379.83 730.74,379.56 730.86,375.42 730.98,386.69 731.1,386.67 731.22,387.97 731.34,383.71 731.46,389.38 731.58,392.13 731.7,378.8 731.82,378.44 731.94,378.96 732.06,396.03 732.18,394.46 732.3,383.51 732.41,390.68 732.53,384.51 732.65,374.07 732.77,388.33 732.88,384.63 733,382.79 733.12,381.05 733.23,390.27 733.35,398.69 733.47,391.3 733.58,382.52 733.7,385.1 733.81,391.8 733.93,393.88 734.04,390.83 734.16,387.83 734.27,403.93 734.38,395.03 734.5,382.57 734.61,392.26 734.72,393.02 734.84,382.52 734.95,377.63 735.06,394.82 735.17,375.95 735.28,390.35 735.4,386.48 735.51,378.95 735.62,379.94 735.73,395.51 735.84,389.86 735.95,396.33 736.06,389.07 736.17,386.65 736.28,382.73 736.39,389.33 736.5,386.04 736.61,391.75 736.72,373.02 736.83,391.02 736.94,389.99 737.04,385.84 737.15,395.04 737.26,385.41 737.37,372.83 737.47,375.42 737.58,388.37 737.69,398.72 737.79,380.69 737.9,383.59 738.01,396.67 738.11,390.13 738.22,371.04 738.32,393.42 738.43,395.26 738.54,392.59 738.64,387.29 738.75,388.87 738.85,374.61 738.95,373.83 739.06,393.21 739.16,392.88 739.27,397.14 739.37,374.15 739.47,383.81 739.58,391.41 739.68,381.04 739.78,389.77 739.88,383.67 739.99,382.82 740.09,384.97 740.19,392.22 740.29,392.76 740.39,395.41 740.5,386.84 740.6,385.68 740.7,389.92 740.8,390.31 740.9,390.78 741,379.67 741.1,403.18 741.2,397.45 741.3,398.93 741.4,388.96 741.5,390.94 741.6,385.41 741.7,390.99 741.8,396.08 741.89,388.76 741.99,393.15 742.09,389.86 742.19,382.61 742.29,396.5 742.39,400.82 742.48,380.76 742.58,387.06 742.68,382.17 742.77,387.54 742.87,391.05 742.97,380.23 743.06,387.77 743.16,391.63 743.26,381.91 743.35,381.29 743.45,392.46 743.54,378.36 743.64,399.7 743.74,394.03 743.83,386.38 743.93,393.54 744.02,365.27 744.12,395.99 744.21,386.04 744.3,387.19 744.4,388.31 744.49,383.87 744.59,390.71 744.68,382.7 744.77,381.9 744.87,386.08 744.96,386.97 745.05,397.62 745.15,382.78 745.24,374.76 745.33,391.48 745.42,392.08 745.52,381.28 745.61,389.7 745.7,393.43 745.79,399.52 745.88,383.55 745.97,380.97 746.06,390.79 746.16,391.07 746.25,384.44 746.34,389.36 746.43,390.39 746.52,372.86 746.61,391.11 746.7,391.29 746.79,386.97 746.88,395.92 746.97,383.46 747.06,388.05 747.15,380.23 747.24,388.72 747.33,375.8 747.41,397.61 747.5,386.33 747.59,379.84 747.68,378.34 747.77,393.73 747.86,384.13 747.94,384.22 748.03,389.67 748.12,388.11 748.21,392.03 748.3,390.17 748.38,389.27 748.47,389.06 748.56,386.26 748.64,378.44 748.73,388.06 748.82,387.96 748.9,393.79 748.99,401.09 749.08,392 749.16,382.16 749.25,402.24 749.33,377.14 749.42,395.03 749.5,390.97 749.59,394.01 749.68,394.56 749.76,389.22 749.85,393.77 749.93,390.04 750.01,388.87 750.1,389.81 750.18,377.26 750.27,385.48 750.35,387.32 750.44,391.76 750.52,395.18 750.6,388.08 750.69,402.48 750.77,393.18 750.85,381.97 750.94,400.71 751.02,390.99 751.1,371.44 751.19,393.17 751.27,397.36 751.35,389.33 751.43,400.82 751.52,395.17 751.6,392.08 751.68,393.68 751.76,386.08 751.84,389.66 751.93,397.84 752.01,396.86 752.09,388.81 752.17,385.73 752.25,393.12 752.33,385.15 752.41,399.12 752.49,399.77 752.57,400.03 752.65,393.73 752.73,387.18 752.81,383.51 752.9,393 752.98,386.9 753.06,391.88 753.13,394.03 753.21,390.25 753.29,397.4 753.37,391.19 753.45,398.91 753.53,397.69 753.61,397.6 753.69,386.56 753.77,390.51 753.85,397.31 753.93,395.62 754,396.35 754.08,393.87 754.16,389.37 754.24,399.52 754.32,398.77 754.4,382.89 754.47,383.96 754.55,397.62 754.63,384.29 754.71,386.47 754.78,380.01 754.86,381.29 754.94,397.25 755.01,403.75 755.09,388.2 755.17,385.41 755.24,395.55 755.32,392.68 755.4,384.17 755.47,394.91 755.55,394.17 755.63,400.65 755.7,382.18 755.78,392.79 755.85,399.7 755.93,393.58 756.01,389.02 756.08,398.82 756.16,387.62 756.23,372.43 756.31,393.51 756.38,392.16 756.46,394.73 756.53,392.79 756.61,391.09 756.68,387.92 756.76,391.2 756.83,405.59 756.9,390.65 756.98,386.49 757.05,397.33 757.13,380.24 757.2,402.46 757.27,387.95 757.35,394.53 757.42,382.12 757.49,390.39 757.57,397.97 757.64,393.04 757.71,387.51 757.79,392 757.86,395.38 757.93,385.43 758.01,390.97 758.08,395.57 758.15,386.98 758.22,381.1 758.3,384.15 758.37,396.9 758.44,405.21 758.51,399.63 758.58,380.41 758.66,405.31 758.73,371.29 758.8,393.44 758.87,397.26 758.94,395.4 759.01,387.93 759.09,389.34 759.16,388.33 759.23,394.54 759.3,387.64 759.37,386.34 759.44,389.42 759.51,395.13 759.58,397.09 759.65,382.12 759.72,387.47 759.79,400.46 759.86,386.91 759.93,387.42 760,391.58 760.07,390.88 760.14,389.34 760.21,391.09 760.28,403.22 760.35,399.96 760.42,395.38 760.49,390.67 760.56,402.02 760.63,394.21 760.7,393.87 760.77,396.82 760.84,390.01 760.91,408.16 760.97,399.99 761.04,384.82 761.11,396.55 761.18,396.59 761.25,386.54 761.32,394.36 761.39,384.36 761.45,397.8 761.52,397.72 761.59,390.58 761.66,394.8 761.73,393.41 761.79,398.63 761.86,393.46 761.93,387.32 762,389.16 762.06,391.16 762.13,400.02 762.2,402.97 762.27,395.13 762.33,397.02 762.4,393.55 762.47,383.21 762.53,388.22 762.6,394.81 762.67,389.62 762.73,388.8 762.8,389.75 762.87,395.07 762.93,393.88 763,400.1 763.06,394.26 763.13,401.34 763.2,397.96 763.26,400.84 763.33,396.32 763.39,389.71 763.46,396.3 763.52,389.07 763.59,374.67 763.66,399.56 763.72,399.64 763.79,390.83 763.85,388.04 763.92,386.89 763.98,388.94 764.05,395.66 764.11,398.44 764.18,386 764.24,394.32 764.3,381.48 764.37,403.13 764.43,393.29 764.5,390.62 764.56,392.72 764.63,386.77 764.69,400.87 764.75,395.15 764.82,403.18 764.88,392.19 764.95,385.99 765.01,388.33 765.07,396.66 765.14,390.11 765.2,399.9 765.26,391.54 765.33,393.15 765.39,397.83 765.45,397.57 765.52,396.95 765.58,396.7 765.64,395.7 765.71,396.25 765.77,390.49 765.83,394.92 765.89,396.53 765.96,392.63 766.02,398.59 766.08,396.08 766.14,387.6 766.21,390.85 766.27,389.97 766.33,389.23 766.39,386.99 766.45,389.25 766.52,388.03 766.58,399.66 766.64,381.46 766.7,397.57 766.76,402.31 766.83,382.72 766.89,389.67 766.95,398.38 767.01,400.52 767.07,396.58 767.13,389.32 767.19,401.02 767.25,399.34 767.32,393.07 767.38,394.25 767.44,394.73 767.5,389.24 767.56,389.59 767.62,391.56 767.68,393.05 767.74,380.02 767.8,400.37 767.86,402.12 767.92,394.67 767.98,386.13 768.04,392.4 768.1,404.45 768.16,392.41 768.22,387.26 768.28,396.09 768.34,384.22 768.4,404.88 768.46,396.58 768.52,398.19 768.58,399.65 768.64,385.4 768.7,400.37 768.76,388.35 768.82,385.57 768.88,399.69 768.94,393.54 769,398.18 769.05,392.31 769.11,406.53 769.17,403.62 769.23,397.45 769.29,389.8 769.35,398.03 769.41,389.55 769.47,396.44 769.52,401.99 769.58,397.81 769.64,398.17 769.7,388.07 769.76,397.33 769.82,396.74 769.87,394.73 769.93,393.13 769.99,393.88 770.05,403.22 770.11,390.87 770.16,388.53 770.22,399.8 770.28,391.28 770.34,398.37 770.39,393.92 770.45,399.06 770.51,397.88 770.57,395.38 770.62,407.38 770.68,396.81 770.74,390.4 770.8,394.28 770.85,392.22 770.91,393.74 770.97,393.45 771.02,396.91 771.08,392.88 771.14,389.02 771.19,400 771.25,391.71 771.31,379.03 771.36,392.49 771.42,404.21 771.48,396.96 771.53,385.72 771.59,396.13 771.65,402.46 771.7,405.57 771.76,395.05 771.81,394.99 771.87,391.17 771.93,406.74 771.98,389.09 772.04,395.55 772.09,400.38 772.15,400.27 772.2,387.48 772.26,404.97 772.31,397.69 772.37,400.38 772.43,392.22 772.48,394.89 772.54,388.37 772.59,393.11 772.65,398.58 772.7,405.15 772.76,394.79 772.81,393.84 772.87,386.75 772.92,397.94 772.98,389.57 773.03,407.18 773.09,398.01 773.14,394.66 773.2,397.98 773.25,399.21 773.3,393.14 773.36,393.84 773.41,393.61 773.47,394.93 773.52,397.75 773.58,392.98 773.63,403.92 773.68,395.65 773.74,385.16 773.79,395.59 773.85,408.52 773.9,396.02 773.95,401.79 774.01,394.8 774.06,399.97 774.11,395.72 774.17,399.99 774.22,405.03 774.27,373.37 774.33,398.4 774.38,401 774.44,400.2 774.49,399.78 774.54,405.89 774.59,388.51 774.65,398.16 774.7,393.86 774.75,394.9 774.81,393.73 774.86,387.59 774.91,406.55 774.97,396.74 775.02,397.92 775.07,392.56 775.12,387.02 775.18,401.6 775.23,396.51 775.28,397.68 775.33,397.44 775.39,401.59 775.44,393.42 775.49,399.3 775.54,403.84 775.59,398.14 775.65,395.31 775.7,392.68 775.75,401.15 775.8,395.44 775.85,405.6 775.91,403.4 775.96,395.92 776.01,393.68 776.06,393.53 776.11,399.02 776.16,404.38 776.22,385.84 776.27,398.07 776.32,404.13 776.37,399.7 776.42,389.61 776.47,395.33 776.52,396.13 776.58,399.88 776.63,401.17 776.68,403.26 776.73,402.28 776.78,399.32 776.83,405.91 776.88,402.49 776.93,397.69 776.98,402.53 777.03,380.65 777.09,401.87 777.14,402.62 777.19,385.42 777.24,402.2 777.29,408.79 777.34,404.26 777.39,396.45 777.44,402.54 777.49,399.51 777.54,411.21 777.59,393.22 777.64,401.03 777.69,409.23 777.74,394.7 777.79,393.84 777.84,411.37 777.89,396.67 777.94,404.77 777.99,404.85 778.04,393.3 778.09,399.77 778.14,405.22 778.19,385.67 778.24,402.97 778.29,393.79 778.34,399.94 778.39,402.34 778.44,404.28 778.49,388.93 778.53,399.04 778.58,392.4 778.63,391.4 778.68,403.21 778.73,400.01 778.78,409.99 778.83,400.99 778.88,400.73 778.93,401.85 778.98,399.85 779.03,404.01 779.07,399.57 779.12,405.07 779.17,402.61 779.22,401.96 779.27,390.67 779.32,415.75 779.37,390.57 779.42,393.55 779.46,401.45 779.51,397.78 779.56,397.94 779.61,384.25 779.66,406.38 779.71,406.61 779.75,401.06 779.8,399.48 779.85,397.1 779.9,400.84 779.95,403.14 779.99,401 780.04,403.01 780.09,398.24 780.14,405.69 780.19,399.22 780.23,401.75 780.28,397.88 780.33,381.33 780.38,386.31 780.42,395.98 780.47,396.53 780.52,400.42 780.57,395.66 780.61,399.89 780.66,396.9 780.71,400.47 780.76,382.57 780.8,402.79 780.85,392.66 780.9,404.24 780.94,397.99 780.99,402.77 781.04,404.64 781.09,392.19 781.13,390.81 781.18,398.71 781.23,393.91 781.27,399.97 781.32,401.7 781.37,398.43 781.41,396.2 781.46,400.96 781.51,399.49 781.55,406.29 781.6,397.26 781.65,398.74 781.69,408.93 781.74,396.59 781.79,401.97 781.83,404.46 781.88,404.07 781.92,393.51 781.97,400.06 782.02,401.12 782.06,394.18 782.11,395.69 782.16,401.39 782.2,395.59 782.25,399.18 782.29,397.38 782.34,400.22 782.39,394.25 782.43,402.34 782.48,400.53 782.52,407.33 782.57,396.53 782.61,393.93 782.66,393.91 782.71,394.57 782.75,391.19 782.8,409.25 782.84,399.97 782.89,402.83 782.93,385.65 782.98,392.33 783.02,397.73 783.07,397.19 783.11,398.96 783.16,404.11 783.2,410.31 783.25,396.99 783.29,404.05 783.34,409.15 783.38,393.75 783.43,396.94 783.47,399.08 783.52,391.21 783.56,402.63 783.61,402.11 783.65,407.59 783.7,396.05 783.74,403.55 783.79,400.91 783.83,402.24 783.88,393.65 783.92,396.62 783.97,405.89 784.01,400.83 784.05,396.17 784.1,403.48 784.14,405.41 784.19,388.6 784.23,403.12 784.28,395.44 784.32,396.99 784.36,401.29 784.41,402.38 784.45,406.85 784.5,411.13 784.54,401.44 784.59,404.71 784.63,400.86 784.67,407.13 784.72,407.39 784.76,398.31 784.8,406.95 784.85,394.43 784.89,396.39 784.94,404.38 784.98,402.6 785.02,411.83 785.07,405.65 785.11,399.41 785.15,394.43 785.2,404.76 785.24,401.04 785.28,394.27 785.33,402.76 785.37,401.07 785.41,394.82 785.46,399.74 785.5,394.28 785.54,405.68 785.59,401.64 785.63,396.64 785.67,401.56 785.72,406.31 785.76,391.72 785.8,391.37 785.85,400.85 785.89,396.5 785.93,398.73 785.97,399.88 786.02,398.04 786.06,397.06 786.1,386.82 786.15,396.53 786.19,386.17 786.23,395.3 786.27,406.41 786.32,402.09 786.36,405.12 786.4,393.23 786.44,407.17 786.49,397.12 786.53,406.14 786.57,383.7 786.61,399.98 786.66,397.53 786.7,404.96 786.74,412.24 786.78,401.64 786.82,396.73 786.87,399.82 786.91,401.95 786.95,376.54 786.99,399.29 787.03,404.46 787.08,395.06 787.12,412.94 787.16,405.34 787.2,410.99 787.24,409.35 787.29,403.05 787.33,384.98 787.37,408.68 787.41,397.44 787.45,393.21 787.49,398.36 787.54,406.58 787.58,394.57 787.62,403.22 787.66,409.58 787.7,404.38 787.74,391.8 787.78,404.69 787.83,396.79 787.87,406.96 787.91,397.93 787.95,392.66 787.99,399.13 788.03,400.37 788.07,392.86 788.11,390.58 788.16,394.99 788.2,400.16 788.24,396.06 788.28,408.97 788.32,404.34 788.36,401.44 788.4,404.53 788.44,407.62 788.48,390.09 788.52,395.56 788.57,411.79 788.61,414.36 788.65,404.59 788.69,397.76 788.73,398.03 788.77,402.59 788.81,403.65 788.85,411.5 788.89,394.56 788.93,386.68 788.97,385.14 789.01,388.03 789.05,388.77 789.09,400.55 789.13,405.09 789.17,396.12 789.21,405.19 789.25,401.21 789.29,402.34 789.33,398.53 789.38,414.63 789.42,406.62 789.46,404.58 789.5,402 789.54,397.37 789.58,396.79 789.62,406.91 789.66,411.8 789.7,400.59 789.74,392.43 789.78,406.65 789.82,406.67 789.85,399.84 789.89,413.87 789.93,406.1 789.97,401.39 790.01,414.58 790.05,400.2 790.09,405.13 790.13,412.4 790.17,389.63 790.21,390.8 790.25,408.28 790.29,409.04 790.33,399.95 790.37,384.37 790.41,406.67 790.45,398.04 790.49,391.67 790.53,405.1 790.57,396.65 790.61,403.3 790.65,408.29 790.68,402.82 790.72,400.54 790.76,409.03 790.8,397.84 790.84,410.34 790.88,412.64 790.92,396.69 790.96,393.52 791,411.82 791.04,406.43 791.07,391.46 791.11,401.04 791.15,400.86 791.19,397.61 791.23,409.74 791.27,410.06 791.31,398.31 791.35,397.75 791.38,407.24 791.42,397.73 791.46,405.15 791.5,393.43 791.54,406.16 791.58,400.56 791.62,400.86 791.65,410.97 791.69,400.64 791.73,399.19 791.77,408.87 791.81,398.76 791.85,405.95 791.89,404.94 791.92,392.25 791.96,400.25 792,398.02 792.04,401.86 792.08,394.75 792.11,392.6 792.15,414.85 792.19,395.86 792.23,413.53 792.27,402.11 792.3,399.9 792.34,403.38 792.38,400.13 792.42,395.27 792.46,401.99 792.49,406.85 792.53,415.01 792.57,405.8 792.61,402.1 792.65,415.65 792.68,391.41 792.72,392.95 792.76,399.23 792.8,404.44 792.83,404.34 792.87,395.97 792.91,391.22 792.95,407.63 792.98,403.67 793.02,405.03 793.06,390.17 793.1,412.45 793.13,400.68 793.17,407.83 793.21,411 793.25,399.74 793.28,409.76 793.32,398.67 793.36,404.6 793.4,398.49 793.43,403 793.47,403.74 793.51,400.51 793.54,412.75 793.58,402.97 793.62,404.41 793.66,395.41 793.69,394.68 793.73,397.02 793.77,401.46 793.8,402.36 793.84,389.8 793.88,396.5 793.91,417.57 793.95,390.81 793.99,404.11 794.02,407.49 794.06,400.34 794.1,388.29 794.13,397.71 794.17,406.91 794.21,407.38 794.24,394.81 794.28,406.04 794.32,403.95 794.35,412.19 794.39,401.65 794.43,407.91 794.46,395.99 794.5,386.61 794.54,408.31 794.57,404.7 794.61,400.33 794.65,406.97 794.68,400.91 794.72,404.91 794.76,406.41 794.79,393.02 794.83,403.55 794.86,404.69 794.9,399.96 794.94,397.13 794.97,389.43 795.01,404.99 795.04,400.76 795.08,406.51 795.12,396.12 795.15,410.02 795.19,402.51 795.22,404.3 795.26,398.72 795.3,412.41 795.33,390.75 795.37,404.33 795.4,401.3 795.44,397.22 795.48,407.3 795.51,400.83 795.55,397.56 795.58,411.57 795.62,409.83 795.65,411.97 795.69,413.53 795.73,411.9 795.76,402.85 795.8,397.23 795.83,395.4 795.87,399.5 795.9,406.01 795.94,391.19 795.97,399.75 796.01,404.52 796.05,401.95 796.08,396.68 796.12,404.02 796.15,401.87 796.19,395.69 796.22,407.5 796.26,408.24 796.29,400.82 796.33,410.76 796.36,408.39 796.4,392.56 796.43,395 796.47,398.8 796.5,410.42 796.54,399.07 796.57,407.62 796.61,406.75 796.64,402.44 796.68,405.69 796.71,403.92 796.75,395.72 796.78,404.05 796.82,413.68 796.85,407.7 796.89,411.76 796.92,409.51 796.96,406.55 796.99,409.36 797.03,391.11 797.06,399.01 797.1,403.54 797.13,409.16 797.17,390.83 797.2,404.71 797.24,404.07 797.27,401.36 797.31,404.33 797.34,413.53 797.37,407.42 797.41,411.69 797.44,415.38 797.48,409.3 797.51,402.41 797.55,392.24 797.58,404.32 797.62,395.38 797.65,387.65 797.68,390.33 797.72,408.39 797.75,414.43 797.79,408.58 797.82,413.13 797.86,403.8 797.89,394.92 797.92,410.62 797.96,400.21 797.99,397.74 798.03,415.48 798.06,406.83 798.09,410.68 798.13,399.69 798.16,409.2 798.2,407.78 798.23,413.59 798.26,407.9 798.3,409.86 798.33,394.79 798.37,412.23 798.4,407.16 798.43,402.6 798.47,406.96 798.5,396.81 798.54,412.15 798.57,404.95 798.6,405.9 798.64,403.44 798.67,404.33 798.7,397.94 798.74,402.55 798.77,409.36 798.8,409.39 798.84,396.61 798.87,407.31 798.91,421.27 798.94,403.85 798.97,398.81 799.01,403.47 799.04,402.62 799.07,399.52 799.11,406.04 799.14,402.24 799.17,393.38 799.21,406.77 799.24,406.6 799.27,411.15 799.31,397.19 799.34,404.68 799.37,398.46 799.41,409.84 799.44,405.92 799.47,404.09 799.51,397.3 799.54,409.94 799.57,405.31 799.61,404.34 799.64,411.9 799.67,405.27 799.7,405.79 799.74,399.89 799.77,398.41 799.8,406.58 799.84,407.83 799.87,402.63 799.9,404.04 799.94,397.95 799.97,404.29 800,404.33 800.03,404.54 800.07,401.61 800.1,403.71 800.13,403.95 800.16,407.36 800.2,405.53 800.23,407.7 800.26,403.36 800.3,403.38 800.33,405.83 800.36,405.54 800.39,404.9 800.43,409.44 800.46,392.2 800.49,402.81 800.52,393.48 800.56,388.93 800.59,407.4 800.62,400.31 800.65,408.57 800.69,407.21 800.72,410.74 800.75,400.91 800.78,401.49 800.82,402.3 800.85,405.7 800.88,397.26 800.91,396.11 800.95,415.52 800.98,411.18 801.01,411.33 801.04,406.69 801.07,395.55 801.11,394.68 801.14,410.53 801.17,409.26 801.2,404.12 801.23,394.69 801.27,398.46 801.3,395.01 801.33,401.31 801.36,403.43 801.4,392.03 801.43,405.88 801.46,397.67 801.49,404.24 801.52,412.6 801.55,402.43 801.59,408.66 801.62,399.95 801.65,404.91 801.68,401.44 801.71,408.55 801.75,412.67 801.78,398.41 801.81,406.32 801.84,399.29 801.87,408.7 801.9,415.63 801.94,407.2 801.97,407.67 802,401.29 802.03,404.69 802.06,402.13 802.09,407.39 802.13,404.31 802.16,403.2 802.19,416.23 802.22,401.04 802.25,405.85 802.28,406.72 802.31,397.31 802.35,398.64 802.38,413.76 802.41,404.5 802.44,392.98 802.47,397.65 802.5,403.34 802.53,418.2 802.57,410.82 802.6,399.6 802.63,402.08 802.66,406.47 802.69,410.47 802.72,408.6 802.75,407.67 802.78,396.35 802.82,402.47 802.85,412.76 802.88,404.77 802.91,411.85 802.94,409.71 802.97,413.1 803,407.88 803.03,409.11 803.06,406.67 803.1,404.02 803.13,409.34 803.16,416.96 803.19,408.72 803.22,417.21 803.25,414.27 803.28,407.76 803.31,396.81 803.34,401.6 803.37,389.52 803.4,406.6 803.44,398.78 803.47,393.64 803.5,397.23 803.53,405.85 803.56,408.53 803.59,405.04 803.62,413.29 803.65,406.29 803.68,407.21 803.71,413.81 803.74,411.24 803.77,404.52 803.8,406.43 803.83,410.34 803.86,399.6 803.89,411.58 803.93,413.99 803.96,410.65 803.99,401.66 804.02,405.74 804.05,411.18 804.08,401.26 804.11,413.35 804.14,407.86 804.17,410.23 804.2,406.57 804.23,412.42 804.26,413.59 804.29,395.85 804.32,398.1 804.35,407.18 804.38,408.4 804.41,411.01 804.44,398.74 804.47,408.29 804.5,409.18 804.53,400.39 804.56,409.35 804.59,410.94 804.62,389.16 804.65,411.39 804.68,396.72 804.71,404.17 804.74,401.83 804.77,398.81 804.8,394.87 804.83,410.14 804.86,409.33 804.89,406.61 804.92,408.29 804.95,414.68 804.98,404.11 805.01,408.72 805.04,394.41 805.07,405.48 805.1,395.83 805.13,406.41 805.16,405.48 805.19,393.29 805.22,401.43 805.25,405.07 805.28,410.5 805.31,399.95 805.34,405.58 805.37,392 805.4,398.13 805.43,413.09 805.46,399.44 805.49,410.67 805.52,406.65 805.55,399.93 805.58,414.14 805.61,412.58 805.64,401.2 805.67,402.52 805.7,414.55 805.72,410.2 805.75,394.69 805.78,419.08 805.81,404.79 805.84,406.56 805.87,411.46 805.9,404.33 805.93,409.8 805.96,405.58 805.99,407.71 806.02,408.5 806.05,416.27 806.08,402.91 806.11,407.7 806.14,405.07 806.16,403.08 806.19,409.56 806.22,406.14 806.25,402.24 806.28,416.74 806.31,411.49 806.34,416.46 806.37,402.83 806.4,395.99 806.43,404.77 806.46,397.11 806.49,386.23 806.51,399.06 806.54,402.88 806.57,410.29 806.6,401.47 806.63,410.31 806.66,410.05 806.69,412.07 806.72,402.53 806.75,415.91 806.78,412.18 806.8,400.21 806.83,409.61 806.86,398.97 806.89,407.57 806.92,414.03 806.95,399.59 806.98,412.64 807.01,410.98 807.03,401.3 807.06,410.31 807.09,410.42 807.12,406.02 807.15,411.28 807.18,408.19 807.21,407.6 807.24,412.02 807.26,408.46 807.29,405.67 807.32,399.14 807.35,402.02 807.38,410.88 807.41,411.97 807.44,403.24 807.46,410.09 807.49,407.05 807.52,409.19 807.55,405.81 807.58,398.22 807.61,403.79 807.64,397.83 807.66,409.19 807.69,415.67 807.72,401.36 807.75,414.5 807.78,420.66 807.81,411.78 807.83,410.66 807.86,409.6 807.89,412.98 807.92,403.82 807.95,409.74 807.98,412.89 808,403.02 808.03,412.57 808.06,409.82 808.09,405.29 808.12,410.04 808.14,397.04 808.17,411.6 808.2,398.15 808.23,397.17 808.26,405.3 808.29,415.21 808.31,406.29 808.34,405.89 808.37,410.45 808.4,409.21 808.43,407.1 808.45,411.77 808.48,411.46 808.51,401.58 808.54,392.27 808.57,407.57 808.59,396.1 808.62,407.72 808.65,395.2 808.68,411.99 808.71,401.39 808.73,408.69 808.76,396.91 808.79,404.95 808.82,406.71 808.84,402.57 808.87,394.45 808.9,396.25 808.93,397.85 808.96,404 808.98,409.81 809.01,395.06 809.04,401.95 809.07,410.72 809.09,406.56 809.12,404.43 809.15,412.99 809.18,407.67 809.2,403.1 809.23,414.19 809.26,412.65 809.29,409.39 809.31,411.78 809.34,406.11 809.37,405.35 809.4,400.76 809.42,410.75 809.45,401 809.48,414.53 809.51,403.99 809.53,402.58 809.56,410.57 809.59,409.02 809.62,400.72 809.64,405.81 809.67,413.96 809.7,397.13 809.73,405.91 809.75,406.06 809.78,402.02 809.81,407.19 809.84,408.49 809.86,404.37 809.89,410.99 809.92,400.74 809.94,408.85 809.97,406.64 810,413.94 810.03,403.5 810.05,401.75 810.08,410.14 810.11,416.63 810.13,407.06 810.16,406.79 810.19,414.27 810.22,404.79 810.24,415.18 810.27,407.57 810.3,405.84 810.32,399.76 810.35,397.97 810.38,407.69 810.41,417.02 810.43,413.12 810.46,416.72 810.49,406.83 810.51,412.92 810.54,404.1 810.57,410.06 810.59,400.68 810.62,401.44 810.65,414.21 810.67,407.17 810.7,406.37 810.73,412.31 810.75,403.84 810.78,408.47 810.81,399.61 810.84,412.04 810.86,412.89 810.89,400.63 810.92,415.47 810.94,406.26 810.97,410.85 811,417.18 811.02,420.91 811.05,411.56 811.08,404.28 811.1,412.65 811.13,406.94 811.16,393.64 811.18,409.85 811.21,401.74 811.24,404.13 811.26,411.29 811.29,409.48 811.31,407.42 811.34,409.04 811.37,406.04 811.39,409.69 811.42,414.27 811.45,416.62 811.47,413.4 811.5,406.81"/>
<polyline stroke="#000000" stroke-width="1.05" points="81,68.7 409.71,187.5 446.35,213.8 467.78,237.2 482.99,255.7 494.79,272.2 504.42,290.56 512.57,302.56 519.63,312.51 525.86,320.42 531.43,327.4 536.46,334.41 541.06,339.39 545.3,345.19 549.21,349.52 552.86,354.14 556.27,355.4 559.48,360.06 562.5,362.97 565.36,364.75 568.07,368.37 570.65,370.65 573.1,371.88 575.45,373.78 577.7,375.65 579.86,377.1 581.94,378.41 583.93,379.26 585.85,381.35 587.71,382.63 589.5,384.24 591.23,383.79 592.91,386.66 594.54,386.53 596.12,385.03 597.65,387.74 599.14,388.9 600.59,390 602,389.1 603.37,391.48 604.71,392.63 606.01,390.86 607.29,393.51 608.53,392.18 609.75,395.31 610.93,392.96 612.09,394.48 613.23,395.28 614.34,394.26 615.43,395.86 616.5,395.87 617.55,396.49 618.58,396.57 619.58,396.98 620.57,396.5 621.54,396.55 622.49,395.01 623.43,395.48 624.35,399.05 625.25,398.71 626.14,398.54 627.01,399.09 627.87,399.82 628.72,400.19 629.55,399.86 630.37,401.29 631.18,400.6 631.97,400.53 632.76,399.48 633.53,400.75 634.29,401.69 635.04,401.63 635.78,401.34 636.51,401.22 637.23,400.87 637.94,399.86 638.64,400.71 639.33,400.23 640.01,399.61 640.68,402.13 641.35,400.44 642,403.09 642.65,401.56 643.29,402.69 643.93,401.57 644.55,402.63 645.17,401.33 645.78,399.25 646.39,402.39 646.98,402.19 647.57,402.91 648.16,402.09 648.74,402.97 649.31,403.6 649.87,402.46 650.43,402.14 650.99,402.14 651.53,404.51 652.08,402.09 652.61,402.32 653.14,401.44 653.67,403.08 654.19,403 654.71,403.54 655.22,402.8 655.72,403.7 656.22,402.82 656.72,404.03 657.21,403.06 657.7,403.98 658.18,402.33 658.66,404.52 659.13,402.77 659.6,403.82 660.07,404.02 660.53,403.22 660.99,405.67 661.44,404.23 661.89,404.37 662.34,405.02 662.78,403.37 663.22,404.49 663.65,404.74 664.09,404.29 664.51,404.27 664.94,402.15 665.36,402.34 665.78,406.88 666.19,404.79 666.6,404.94 667.01,403.53 667.42,405.03 667.82,404.81 668.22,404.93 668.61,405.15 669.01,404.31 669.4,407.05 669.78,405.88 670.17,403.16 670.55,405.17 670.93,402.98 671.31,403.92 671.68,405.78 672.05,406.78 672.42,405.21 672.78,405.45 673.15,406.28 673.51,403.92 673.87,405.71 674.22,405.73 674.58,404.57 674.93,406.43 675.28,407.21 675.62,403.56 675.97,406.8 676.31,405.85 676.65,404.42 676.99,402.75 677.32,406.25 677.66,405.85 677.99,405.69 678.32,406.31 678.64,405.51 678.97,407.72 679.29,405.43 679.61,405.38 679.93,404.87 680.25,405.47 680.57,406.49 680.88,406.61 681.19,405.69 681.5,406.52 681.81,406.4 682.12,407.05 682.42,406.47 682.72,405.68 683.03,407.32 683.33,406.03 683.62,407.87 683.92,405.34 684.21,407.45 684.51,406.4 684.8,404.71 685.09,407.39 685.38,407.1 685.66,406.39 685.95,406.83 686.23,405.87 686.51,405.8 686.79,407.72 687.07,408.92 687.35,408.31 687.63,407.04 687.9,406.6 688.17,404.47 688.45,405.05 688.72,408.83 688.98,406.03 689.25,407.81 689.52,409.39 689.78,409.11 690.05,406.48 690.31,406.73 690.57,405.34 690.83,406.91 691.09,408.45 691.35,408.71 691.6,407.94 691.86,408.22 692.11,408.7 692.36,407.68 692.61,406.43 692.86,407.63 693.11,407.59 693.36,408.13 693.61,409.18 693.85,408.42 694.1,407.27 694.34,405.96 694.58,407.46 694.82,407.46 695.06,408.17 695.3,408.49 695.54,409.73 695.77,409.33 696.01,407.44 696.24,407.16 696.48,407.09 696.71,407.7 696.94,406.73 697.17,408.48 697.4,409.19 697.63,407.67 697.86,408.69 698.08,405.96 698.31,409.44 698.53,409.89 698.76,406.95 698.98,409.56 699.2,408.52 699.42,410.29 699.64,408.68 699.86,406.3 700.08,408.18 700.29,409.21 700.51,406.99 700.73,411.14 700.94,408.4 701.15,408.65 701.37,407.97 701.58,410.46 701.79,409.33 702,409.51 702.21,407.48 702.42,409.93 702.63,410.1 702.83,407.72 703.04,409.15 703.24,410.27 703.45,407.99 703.65,409.26 703.86,411.36 704.06,408.47 704.26,408.72 704.46,409.66 704.66,411.09 704.86,409.31 705.06,409.81 705.25,408.86 705.45,409.93 705.65,410.56 705.84,408.39 706.04,411.73 706.23,406.44 706.42,409.24 706.62,411.82 706.81,409.73 707,411.15 707.19,409.77 707.38,410.86 707.57,408.92 707.76,410.95 707.95,410.6 708.13,408.86 708.32,408.48 708.51,411.17 708.69,410.79 708.87,410.85 709.06,410.96 709.24,411.77 709.42,409.04 709.61,409.41 709.79,407.76 709.97,409.07 710.15,409.81 710.33,410.95 710.51,409.36 710.69,409.65 710.86,410.14 711.04,410.01 711.22,411.38 711.39,411.02 711.57,411.29 711.74,412.26 711.92,410.93 712.09,409.62 712.26,411.58 712.44,412.98 712.61,411.03 712.78,408.14 712.95,410.72 713.12,409.69 713.29,411.51 713.46,408.47 713.63,412.84 713.8,410.83 713.96,411.57 714.13,412.38 714.3,411.31 714.46,411.49 714.63,411.78 714.79,412.62 714.96,413.47 715.12,412.48 715.28,412.35 715.45,411.98 715.61,410.38 715.77,409.34 715.93,411.8 716.09,413.3 716.25,410.47 716.41,411.95 716.57,411.61 716.73,410.9 716.89,411.52 717.05,411.54 717.21,410.52 717.36,412.48 717.52,412.86 717.68,411.28 717.83,410.92 717.99,411.81 718.14,411.58 718.3,410.65 718.45,411.77 718.6,412.67 718.76,411.08 718.91,414.12 719.06,411.72 719.21,410.63 719.37,412.1 719.52,412.41 719.67,412.31 719.82,414.09 719.97,413.76 720.11,412.15 720.26,414.65 720.41,413.52 720.56,412.78 720.71,409.94 720.85,413.11 721,415.65 721.15,412.3 721.29,413.04 721.44,414.36 721.58,414.14 721.73,410.73 721.87,410.88 722.02,413.06 722.16,411.89 722.3,415.12 722.45,413.94 722.59,411.24 722.73,411.76 722.87,413.78 723.01,411.76 723.15,414.65 723.29,413.21 723.43,410.55 723.57,414.77 723.71,413.75 723.85,414.64 723.99,413.79 724.13,412.35 724.27,411.17 724.4,412.68 724.54,412.21 724.68,413.33 724.81,412.3 724.95,413.77 725.09,415.58 725.22,413.37 725.36,414.8 725.49,413.71 725.62,413.01 725.76,414.55 725.89,411.93 726.03,414.51 726.16,414.2 726.29,414.81 726.42,412.81 726.56,415.85 726.69,415.53 726.82,413.89 726.95,413.71 727.08,415.68 727.21,414.97 727.34,414.48 727.47,414.16 727.6,414.76 727.73,414.8 727.86,414.64 727.99,414.23 728.11,415.37 728.24,414.54 728.37,416.59 728.5,416 728.62,416.01 728.75,415.08 728.88,413.47 729,413.26 729.13,416.02 729.25,415.5 729.38,415.14 729.5,415.87 729.63,416.05 729.75,417.73 729.88,415.07 730,416.98 730.12,415.74 730.25,415.51 730.37,413.99 730.49,417.24 730.61,415.96 730.74,416.71 730.86,416.24 730.98,417.44 731.1,415.82 731.22,417.31 731.34,415 731.46,415.78 731.58,418.89 731.7,417.08 731.82,417.03 731.94,417.99 732.06,416.71 732.18,416.16 732.3,416.61 732.41,417.03 732.53,417.36 732.65,418.15 732.77,411.33 732.88,417.56 733,416.09 733.12,418.9 733.23,415.71 733.35,417.72 733.47,417.97 733.58,417.04 733.7,416.64 733.81,416.47 733.93,415.81 734.04,417.17 734.16,418.23 734.27,412.68 734.38,417.61 734.5,417.85 734.61,416.28 734.72,418.43 734.84,417.68 734.95,417.03 735.06,418.4 735.17,416.63 735.28,417.28 735.4,416.24 735.51,418.13 735.62,419.01 735.73,417.25 735.84,417.48 735.95,417.39 736.06,417.28 736.17,417.39 736.28,418.64 736.39,418.54 736.5,419.47 736.61,419.45 736.72,419.1 736.83,417.04 736.94,417.58 737.04,419.47 737.15,419.3 737.26,418.35 737.37,416.68 737.47,420.28 737.58,418.89 737.69,418.01 737.79,419.3 737.9,417.78 738.01,415.84 738.11,419.9 738.22,418.86 738.32,420.06 738.43,418.76 738.54,418.63 738.64,417.35 738.75,419.42 738.85,419.81 738.95,416.17 739.06,417.89 739.16,418.54 739.27,419.01 739.37,421.39 739.47,419.25 739.58,419.45 739.68,419.87 739.78,419.83 739.88,419.81 739.99,417.95 740.09,418.33 740.19,415.9 740.29,419.71 740.39,419.97 740.5,417.2 740.6,420.16 740.7,420.97 740.8,420.6 740.9,417.57 741,421.43 741.1,418.44 741.2,417.49 741.3,420.33 741.4,417.86 741.5,419.76 741.6,419.21 741.7,417.96 741.8,419.22 741.89,417.08 741.99,419.2 742.09,419.31 742.19,420.43 742.29,421.12 742.39,420.9 742.48,420.9 742.58,420.28 742.68,419.12 742.77,420.75 742.87,420.05 742.97,420.54 743.06,422.01 743.16,420.02 743.26,418.6 743.35,421.21 743.45,421.2 743.54,419.97 743.64,417.61 743.74,421.44 743.83,420.65 743.93,419.23 744.02,419.49 744.12,422.3 744.21,422.77 744.3,421.05 744.4,421.44 744.49,419.1 744.59,420.22 744.68,421.88 744.77,425.12 744.87,419.53 744.96,421.45 745.05,419.72 745.15,420.11 745.24,420.12 745.33,418.44 745.42,418.25 745.52,421.41 745.61,423.75 745.7,422.3 745.79,420.45 745.88,420.97 745.97,421.71 746.06,422.72 746.16,421.25 746.25,423.92 746.34,421.05 746.43,419.55 746.52,419.58 746.61,421.76 746.7,420.26 746.79,421.38 746.88,420.61 746.97,422.39 747.06,418.32 747.15,420.89 747.24,416.93 747.33,419.68 747.41,420.05 747.5,422.09 747.59,421.31 747.68,420.52 747.77,417.94 747.86,423.13 747.94,422.99 748.03,422.54 748.12,421.2 748.21,421.19 748.3,423.92 748.38,421.58 748.47,422.75 748.56,421.1 748.64,422.09 748.73,425.44 748.82,420.08 748.9,420.55 748.99,422.55 749.08,423.29 749.16,422.84 749.25,421.6 749.33,420.58 749.42,421.26 749.5,422.59 749.59,421.86 749.68,422.4 749.76,422.85 749.85,424 749.93,421.27 750.01,419.18 750.1,420.9 750.18,422.41 750.27,423.83 750.35,423.86 750.44,423.67 750.52,420.86 750.6,420.02 750.69,423.91 750.77,417.31 750.85,421.47 750.94,423.34 751.02,420.75 751.1,423.2 751.19,422.98 751.27,424.27 751.35,424.36 751.43,422.99 751.52,422.2 751.6,423.36 751.68,422.85 751.76,422.11 751.84,421.49 751.93,421.12 752.01,419.95 752.09,423.04 752.17,422.14 752.25,424.19 752.33,425.54 752.41,423.21 752.49,423.53 752.57,423.18 752.65,423.93 752.73,424.39 752.81,422.47 752.9,423.59 752.98,421.88 753.06,424.19 753.13,423.5 753.21,422.49 753.29,423.75 753.37,422.23 753.45,422.76 753.53,424.99 753.61,424.41 753.69,422.42 753.77,418.93 753.85,420.8 753.93,424.12 754,423.19 754.08,422.92 754.16,424.73 754.24,424.18 754.32,422.8 754.4,422.98 754.47,423.91 754.55,424.7 754.63,422.31 754.71,423.6 754.78,426.69 754.86,423.51 754.94,422.6 755.01,424.46 755.09,424.88 755.17,425.58 755.24,422.59 755.32,425.82 755.4,424.78 755.47,425.28 755.55,424.97 755.63,423.36 755.7,423.99 755.78,422.01 755.85,423.37 755.93,425.64 756.01,424.67 756.08,421.73 756.16,426.72 756.23,425.6 756.31,422.78 756.38,424.16 756.46,422.35 756.53,423.67 756.61,423.93 756.68,424.67 756.76,423.48 756.83,425.67 756.9,424.22 756.98,422.41 757.05,423.84 757.13,424.75 757.2,424.39 757.27,424.66 757.35,426.1 757.42,424.17 757.49,422.77 757.57,424.45 757.64,424.26 757.71,425.66 757.79,423.67 757.86,423.86 757.93,423.61 758.01,425.05 758.08,425.61 758.15,427.17 758.22,425.95 758.3,425.78 758.37,425.1 758.44,423.71 758.51,426.68 758.58,425.43 758.66,425.56 758.73,424.84 758.8,424.07 758.87,424.93 758.94,423.93 759.01,424.85 759.09,426.41 759.16,425.28 759.23,424.2 759.3,425.48 759.37,425.52 759.44,425.67 759.51,427.98 759.58,422.93 759.65,425.09 759.72,425.67 759.79,427.48 759.86,427.24 759.93,425.02 760,422.27 760.07,424.9 760.14,426.37 760.21,426.99 760.28,424.58 760.35,425.83 760.42,427.54 760.49,424.8 760.56,423.15 760.63,426.55 760.7,425.42 760.77,425.3 760.84,423.79 760.91,424.92 760.97,424.23 761.04,424.44 761.11,424.51 761.18,422.44 761.25,427.1 761.32,425.62 761.39,425.65 761.45,424.52 761.52,427.32 761.59,425.82 761.66,421.73 761.73,425.84 761.79,427.18 761.86,425.78 761.93,429.57 762,426.88 762.06,427.62 762.13,426.13 762.2,427.23 762.27,425.84 762.33,426.46 762.4,424.43 762.47,425.39 762.53,426.34 762.6,425.51 762.67,425.84 762.73,425.26 762.8,426.88 762.87,422.99 762.93,425.87 763,423.94 763.06,424.98 763.13,423.6 763.2,426.27 763.26,425.24 763.33,428.87 763.39,426.94 763.46,427.49 763.52,423.89 763.59,424.76 763.66,427.36 763.72,428.03 763.79,425.21 763.85,426.88 763.92,427.61 763.98,427.33 764.05,422.74 764.11,427.47 764.18,427.33 764.24,427.7 764.3,426.22 764.37,428.26 764.43,427.17 764.5,426.22 764.56,426.32 764.63,425.08 764.69,427.32 764.75,427.26 764.82,426.94 764.88,426.98 764.95,424.64 765.01,429.24 765.07,428.09 765.14,427.55 765.2,424.46 765.26,424.48 765.33,424.93 765.39,426.23 765.45,426.31 765.52,425 765.58,425.77 765.64,426.53 765.71,426.19 765.77,428.51 765.83,427.7 765.89,426.66 765.96,426.27 766.02,425.5 766.08,427.91 766.14,425.6 766.21,425.55 766.27,427.95 766.33,425.17 766.39,426.71 766.45,423.82 766.52,425.03 766.58,428.4 766.64,427.67 766.7,427.51 766.76,427.49 766.83,428.27 766.89,424.68 766.95,426.07 767.01,425.36 767.07,427.47 767.13,427.04 767.19,426.99 767.25,428.93 767.32,428.18 767.38,425.73 767.44,426.66 767.5,427.93 767.56,427.91 767.62,428.36 767.68,426.77 767.74,428.17 767.8,427.66 767.86,425.41 767.92,426.13 767.98,430.39 768.04,426.63 768.1,430.05 768.16,427.75 768.22,426.73 768.28,427.82 768.34,426.55 768.4,423.49 768.46,427.05 768.52,426.15 768.58,429.98 768.64,426.27 768.7,426.45 768.76,427.1 768.82,427.75 768.88,426.01 768.94,427.67 769,427.04 769.05,428.26 769.11,427.68 769.17,425.33 769.23,429.03 769.29,427.73 769.35,424.49 769.41,428.4 769.47,427.97 769.52,425.98 769.58,429.5 769.64,428.07 769.7,427.76 769.76,428.32 769.82,425.72 769.87,427.31 769.93,427.07 769.99,426.19 770.05,428.97 770.11,428.43 770.16,427.53 770.22,424.2 770.28,425.48 770.34,427.56 770.39,429.32 770.45,427.54 770.51,428.43 770.57,428.17 770.62,430.57 770.68,430.35 770.74,429.23 770.8,427.66 770.85,428.58 770.91,426.32 770.97,427.72 771.02,428.69 771.08,425.89 771.14,429.55 771.19,427.69 771.25,431.09 771.31,425.47 771.36,427.07 771.42,427.55 771.48,424.54 771.53,428.13 771.59,426.11 771.65,427.78 771.7,426.01 771.76,429.83 771.81,424.26 771.87,428 771.93,429.01 771.98,426.88 772.04,426.28 772.09,428.7 772.15,429.67 772.2,430.48 772.26,429.94 772.31,426.78 772.37,426.73 772.43,427.14 772.48,426.86 772.54,428.53 772.59,428.31 772.65,429.95 772.7,429.48 772.76,426.9 772.81,428.77 772.87,429.14 772.92,426.32 772.98,428.99 773.03,427.14 773.09,428.93 773.14,428.86 773.2,428.93 773.25,431.93 773.3,429.2 773.36,423.85 773.41,430.31 773.47,425.43 773.52,430.25 773.58,429.1 773.63,424.82 773.68,430.39 773.74,426.88 773.79,429.88 773.85,428.75 773.9,428.39 773.95,428.1 774.01,429.7 774.06,430.25 774.11,430.59 774.17,429.74 774.22,430.4 774.27,427.53 774.33,429.44 774.38,429.88 774.44,427.52 774.49,428.52 774.54,430.87 774.59,425.38 774.65,429.49 774.7,431.96 774.75,429.52 774.81,429.94 774.86,427.01 774.91,428.47 774.97,429.91 775.02,430.05 775.07,430.2 775.12,430.23 775.18,429.86 775.23,432.38 775.28,427.31 775.33,428.49 775.39,429.36 775.44,430.44 775.49,428.7 775.54,428.41 775.59,429.49 775.65,428.62 775.7,429.33 775.75,430.53 775.8,430.01 775.85,429.92 775.91,429.34 775.96,429.6 776.01,427.68 776.06,429.47 776.11,431.95 776.16,428.27 776.22,430.16 776.27,429.42 776.32,429.48 776.37,425.76 776.42,428.75 776.47,431.91 776.52,428.85 776.58,430.17 776.63,428.67 776.68,431.62 776.73,428.59 776.78,426.82 776.83,430.08 776.88,429.8 776.93,427.98 776.98,426.68 777.03,428.39 777.09,428.46 777.14,431.44 777.19,430.29 777.24,430.91 777.29,431.57 777.34,429.87 777.39,429.84 777.44,429.88 777.49,432.19 777.54,428.18 777.59,426.87 777.64,426.13 777.69,426.75 777.74,430.4 777.79,431.26 777.84,428.99 777.89,427.54 777.94,431.69 777.99,429.75 778.04,432.02 778.09,429.81 778.14,430.72 778.19,427.67 778.24,432.31 778.29,427.97 778.34,429.49 778.39,429.65 778.44,431.87 778.49,425.14 778.53,433.51 778.58,427.79 778.63,428.84 778.68,430.07 778.73,428.5 778.78,430.68 778.83,430.45 778.88,429.74 778.93,429.97 778.98,428.07 779.03,429.06 779.07,429.9 779.12,429.42 779.17,430.81 779.22,430.86 779.27,430.39 779.32,432.71 779.37,431.53 779.42,432.23 779.46,428.88 779.51,427.24 779.56,429.6 779.61,430.15 779.66,429.91 779.71,428.83 779.75,431.36 779.8,430.09 779.85,429.63 779.9,430.2 779.95,430.12 779.99,428.86 780.04,429.23 780.09,427.76 780.14,430.5 780.19,431.87 780.23,430.9 780.28,431.57 780.33,430.89 780.38,433.35 780.42,426.53 780.47,427.84 780.52,431.29 780.57,431.21 780.61,428.78 780.66,428.96 780.71,431.65 780.76,427.42 780.8,427.45 780.85,432.7 780.9,431.59 780.94,431.32 780.99,429.41 781.04,427.32 781.09,430.42 781.13,431.28 781.18,429.79 781.23,432.25 781.27,431.39 781.32,432.27 781.37,428.78 781.41,430.67 781.46,430.88 781.51,432.59 781.55,432.32 781.6,433.61 781.65,428.92 781.69,429.64 781.74,430.8 781.79,431.32 781.83,429.55 781.88,429.41 781.92,429.81 781.97,431.87 782.02,432.46 782.06,432.66 782.11,430.83 782.16,431.06 782.2,432.11 782.25,429.17 782.29,430.29 782.34,429.88 782.39,433.02 782.43,432.16 782.48,432.32 782.52,429.73 782.57,431.94 782.61,428.37 782.66,427.95 782.71,431.84 782.75,434.6 782.8,433.08 782.84,432.2 782.89,432.44 782.93,429.69 782.98,431.45 783.02,431.82 783.07,432.04 783.11,427.99 783.16,432.84 783.2,431.57 783.25,431.92 783.29,430.83 783.34,433.15 783.38,429.39 783.43,429.97 783.47,427.27 783.52,432.27 783.56,429.89 783.61,433.56 783.65,429.93 783.7,430.5 783.74,433.52 783.79,429.81 783.83,429.19 783.88,431.76 783.92,432.91 783.97,431.54 784.01,432.18 784.05,431.99 784.1,430.42 784.14,432.81 784.19,431.44 784.23,432.13 784.28,429.62 784.32,430.56 784.36,431.06 784.41,433.14 784.45,432.28 784.5,430.26 784.54,430.49 784.59,432.55 784.63,432.27 784.67,432.29 784.72,429.91 784.76,431.89 784.8,432.95 784.85,430.9 784.89,432.4 784.94,433.22 784.98,434.76 785.02,431.16 785.07,433.42 785.11,426.95 785.15,433.38 785.2,429.79 785.24,431.21 785.28,431.41 785.33,429.88 785.37,433.53 785.41,432.14 785.46,432.17 785.5,432.96 785.54,430.55 785.59,433.59 785.63,433.4 785.67,431.5 785.72,433.94 785.76,432.57 785.8,430.53 785.85,432.9 785.89,432.5 785.93,426.64 785.97,431.88 786.02,430.59 786.06,432.76 786.1,431.69 786.15,431.4 786.19,433.69 786.23,430.4 786.27,431.94 786.32,430.61 786.36,434.12 786.4,431.77 786.44,433.19 786.49,428.52 786.53,427.98 786.57,431.82 786.61,434.44 786.66,430.94 786.7,434.06 786.74,430.13 786.78,433.75 786.82,431.13 786.87,435.33 786.91,432.92 786.95,432.44 786.99,431.87 787.03,431.01 787.08,432.71 787.12,432.82 787.16,431.01 787.2,432.42 787.24,431.17 787.29,432.72 787.33,435.38 787.37,433.32 787.41,431.36 787.45,429.61 787.49,428.41 787.54,431.21 787.58,431.25 787.62,430.47 787.66,428.3 787.7,433.25 787.74,433.46 787.78,432.4 787.83,430.97 787.87,433.13 787.91,432.87 787.95,431.59 787.99,433.38 788.03,429.56 788.07,430.58 788.11,431.68 788.16,433.63 788.2,433.86 788.24,431.44 788.28,431.14 788.32,433.79 788.36,434.23 788.4,428.25 788.44,431.11 788.48,432.45 788.52,432.95 788.57,433.85 788.61,430.54 788.65,432.58 788.69,430.2 788.73,431.43 788.77,433.02 788.81,430.86 788.85,433.3 788.89,434.74 788.93,431.1 788.97,435.24 789.01,434.31 789.05,432.14 789.09,432.62 789.13,432.69 789.17,432.9 789.21,431.84 789.25,428.99 789.29,432.85 789.33,434.82 789.38,433.69 789.42,430.13 789.46,433.33 789.5,431.89 789.54,434.54 789.58,432.28 789.62,429.5 789.66,431.34 789.7,434.14 789.74,432.24 789.78,432.85 789.82,433.19 789.85,433.15 789.89,434.11 789.93,431.24 789.97,434.44 790.01,434.32 790.05,433.17 790.09,433.85 790.13,433.63 790.17,434.91 790.21,433.35 790.25,433.98 790.29,433.09 790.33,433.13 790.37,433.5 790.41,431.43 790.45,432.7 790.49,431.76 790.53,428.69 790.57,434.82 790.61,433.06 790.65,434.14 790.68,428.61 790.72,430.54 790.76,431.51 790.8,433.4 790.84,435.16 790.88,431.6 790.92,429.48 790.96,432.04 791,433.89 791.04,429.72 791.07,430.46 791.11,430.87 791.15,434.65 791.19,432.28 791.23,434.69 791.27,434.57 791.31,430.79 791.35,433.43 791.38,434.02 791.42,434.08 791.46,431.08 791.5,433.02 791.54,433.63 791.58,433.61 791.62,434.41 791.65,435.48 791.69,431.92 791.73,436.19 791.77,433.44 791.81,433.71 791.85,433.92 791.89,432.49 791.92,432.45 791.96,432.72 792,434.19 792.04,435.06 792.08,433.01 792.11,434.71 792.15,432.32 792.19,433.09 792.23,432.91 792.27,433.97 792.3,434.08 792.34,435.29 792.38,437.11 792.42,432.4 792.46,436.95 792.49,433.56 792.53,433.09 792.57,434.14 792.61,433.48 792.65,435.53 792.68,431.95 792.72,433.14 792.76,433.05 792.8,435.07 792.83,433.37 792.87,433.34 792.91,432.66 792.95,434.25 792.98,431.78 793.02,434.47 793.06,431.21 793.1,435.09 793.13,432.87 793.17,434.54 793.21,434.59 793.25,434.29 793.28,434.2 793.32,432.24 793.36,435.32 793.4,435.8 793.43,432.45 793.47,432.81 793.51,433.91 793.54,435.5 793.58,434.02 793.62,433.16 793.66,433.42 793.69,434.76 793.73,433.68 793.77,432.29 793.8,433.3 793.84,435.52 793.88,432 793.91,433.45 793.95,435.24 793.99,432.55 794.02,431.75 794.06,431.07 794.1,433.64 794.13,434.07 794.17,432.71 794.21,433.7 794.24,431.43 794.28,434.82 794.32,433.73 794.35,434.49 794.39,433.29 794.43,433.34 794.46,436.86 794.5,432.75 794.54,433.84 794.57,433.42 794.61,435.49 794.65,435.13 794.68,434.79 794.72,433.3 794.76,432.42 794.79,432.06 794.83,433.01 794.86,433.97 794.9,433.93 794.94,436.22 794.97,430.89 795.01,435.14 795.04,434.47 795.08,431.86 795.12,432.64 795.15,431.96 795.19,434.7 795.22,432.79 795.26,433.18 795.3,433.27 795.33,435.05 795.37,429.97 795.4,431.39 795.44,431.79 795.48,436.61 795.51,432.23 795.55,431.53 795.58,435.86 795.62,433.86 795.65,433.22 795.69,434.85 795.73,435.93 795.76,433.1 795.8,433.95 795.83,434.13 795.87,433.31 795.9,431.86 795.94,433.82 795.97,436.23 796.01,437.12 796.05,435.37 796.08,434.22 796.12,433.52 796.15,433.5 796.19,434.76 796.22,433.07 796.26,431.83 796.29,435.23 796.33,433.33 796.36,433.74 796.4,434.68 796.43,433.29 796.47,435.48 796.5,434.88 796.54,433.09 796.57,435.4 796.61,433.17 796.64,435.58 796.68,434 796.71,432.16 796.75,435.61 796.78,434.99 796.82,432.88 796.85,431.94 796.89,435.21 796.92,437.1 796.96,434.4 796.99,434.88 797.03,433.24 797.06,429.67 797.1,434.44 797.13,435.77 797.17,434.61 797.2,429.44 797.24,435.88 797.27,433.91 797.31,435.64 797.34,436.08 797.37,433.74 797.41,436.88 797.44,432.62 797.48,437.68 797.51,433.46 797.55,436.06 797.58,433.19 797.62,434.55 797.65,434.74 797.68,434.95 797.72,435.67 797.75,434.84 797.79,434.75 797.82,431.22 797.86,434.5 797.89,436.58 797.92,436.96 797.96,435.44 797.99,431.98 798.03,434.82 798.06,435.2 798.09,431.77 798.13,433.44 798.16,432.84 798.2,435.41 798.23,432.37 798.26,431.13 798.3,435.01 798.33,437.07 798.37,436.18 798.4,433.65 798.43,434.58 798.47,437.58 798.5,433.13 798.54,435.71 798.57,431 798.6,434.53 798.64,435.6 798.67,434.84 798.7,433.75 798.74,432.14 798.77,432.87 798.8,434.23 798.84,435.42 798.87,436.43 798.91,433.35 798.94,437.54 798.97,431.83 799.01,433.28 799.04,433.51 799.07,432.89 799.11,432.31 799.14,434.51 799.17,435.6 799.21,436.41 799.24,432.55 799.27,433.22 799.31,436.1 799.34,431.6 799.37,434.94 799.41,435.36 799.44,435.89 799.47,435.81 799.51,438.12 799.54,436.59 799.57,434.2 799.61,431.81 799.64,433.69 799.67,438.46 799.7,433.9 799.74,436.25 799.77,435.23 799.8,434.97 799.84,433.43 799.87,435.59 799.9,434.17 799.94,433.92 799.97,434.89 800,431.81 800.03,433.17 800.07,433.44 800.1,435.29 800.13,436.4 800.16,435.3 800.2,434.84 800.23,432.6 800.26,433.27 800.3,434.77 800.33,433.62 800.36,432.77 800.39,438 800.43,435.45 800.46,432.97 800.49,435.82 800.52,435.06 800.56,430.98 800.59,434.74 800.62,433.42 800.65,434.93 800.69,432.4 800.72,433.32 800.75,433.46 800.78,437.34 800.82,435.73 800.85,432.15 800.88,438.72 800.91,434.9 800.95,435.37 800.98,430.4 801.01,435.46 801.04,430.88 801.07,436.28 801.11,434.02 801.14,431.65 801.17,435.38 801.2,434.16 801.23,438.68 801.27,437.22 801.3,437.26 801.33,435.36 801.36,438.47 801.4,433.54 801.43,434.49 801.46,434.41 801.49,435.66 801.52,437.4 801.55,434.64 801.59,434.01 801.62,433.76 801.65,436.59 801.68,435.03 801.71,435.29 801.75,438 801.78,433.78 801.81,436.87 801.84,436.83 801.87,433.92 801.9,433.89 801.94,434.55 801.97,433.32 802,431.55 802.03,434.14 802.06,435.75 802.09,430.86 802.13,435.49 802.16,435.74 802.19,433.96 802.22,436.04 802.25,434.51 802.28,434.44 802.31,436.52 802.35,439.54 802.38,436.18 802.41,435.92 802.44,436.59 802.47,434.05 802.5,433.58 802.53,435.34 802.57,435.67 802.6,431.21 802.63,434.35 802.66,433.23 802.69,435.26 802.72,433.58 802.75,434.76 802.78,436.88 802.82,433.8 802.85,435.52 802.88,434.18 802.91,428.27 802.94,433.87 802.97,436.8 803,435.74 803.03,435.54 803.06,435.76 803.1,435.51 803.13,436.86 803.16,435.64 803.19,435.82 803.22,434.46 803.25,434.26 803.28,438.93 803.31,434.78 803.34,433.95 803.37,436.78 803.4,434.67 803.44,437.79 803.47,436.74 803.5,434.65 803.53,433.27 803.56,434.91 803.59,436.07 803.62,432.99 803.65,436.75 803.68,431.92 803.71,434.5 803.74,435.38 803.77,436.79 803.8,437.31 803.83,440.43 803.86,437.2 803.89,435.24 803.93,436.38 803.96,436.94 803.99,438.03 804.02,434.91 804.05,435.34 804.08,433.17 804.11,433.31 804.14,435.59 804.17,434.04 804.2,436.5 804.23,434.41 804.26,436.04 804.29,436.39 804.32,440.13 804.35,435.47 804.38,439.27 804.41,434.29 804.44,434.52 804.47,434.61 804.5,434.29 804.53,436.22 804.56,431.51 804.59,434.97 804.62,433.85 804.65,435.53 804.68,438.8 804.71,433.56 804.74,435.41 804.77,435.31 804.8,433.75 804.83,434.67 804.86,435.73 804.89,435.26 804.92,435.44 804.95,432.21 804.98,435.8 805.01,437.67 805.04,435.65 805.07,435.7 805.1,437.06 805.13,438.6 805.16,436.45 805.19,435.9 805.22,436.92 805.25,434.28 805.28,435.02 805.31,437.6 805.34,436.46 805.37,436.96 805.4,436.21 805.43,436.7 805.46,432.32 805.49,436.59 805.52,438.85 805.55,436.1 805.58,440.13 805.61,432.28 805.64,433.37 805.67,435.78 805.7,437.61 805.72,434.63 805.75,436.18 805.78,434.56 805.81,434.2 805.84,438.1 805.87,435.21 805.9,437.42 805.93,436.29 805.96,435.57 805.99,434.55 806.02,435.8 806.05,433.86 806.08,430.06 806.11,437.68 806.14,435.43 806.16,433.69 806.19,435.75 806.22,436.17 806.25,436.35 806.28,438.05 806.31,433.14 806.34,434.73 806.37,437.58 806.4,435.37 806.43,437.79 806.46,435.1 806.49,438.52 806.51,437.01 806.54,436.93 806.57,433.99 806.6,433.16 806.63,437.49 806.66,436.31 806.69,436.28 806.72,436.99 806.75,434 806.78,432.87 806.8,436.13 806.83,433.68 806.86,437.73 806.89,437.59 806.92,436.94 806.95,435.99 806.98,431.79 807.01,433.71 807.03,435.18 807.06,434.73 807.09,435.26 807.12,437.69 807.15,435.02 807.18,438.98 807.21,436.34 807.24,434.03 807.26,437.81 807.29,436.28 807.32,434.66 807.35,436.73 807.38,439.48 807.41,438.31 807.44,438.31 807.46,433.69 807.49,432.83 807.52,437.86 807.55,435.39 807.58,434.94 807.61,436.39 807.64,434.96 807.66,435.27 807.69,433.62 807.72,435.77 807.75,436.35 807.78,435.83 807.81,433.77 807.83,437.59 807.86,436.07 807.89,433.53 807.92,433.99 807.95,431.7 807.98,437.54 808,436.73 808.03,434.67 808.06,434.59 808.09,435.49 808.12,436.91 808.14,436.7 808.17,431.73 808.2,435.42 808.23,440.36 808.26,438.6 808.29,436.51 808.31,436.98 808.34,436.99 808.37,436.36 808.4,433.72 808.43,436.15 808.45,435.59 808.48,436.94 808.51,435.9 808.54,434.06 808.57,434.96 808.59,434.59 808.62,432.65 808.65,434.26 808.68,437.09 808.71,435.33 808.73,437.51 808.76,434.94 808.79,435.56 808.82,435.53 808.84,437.12 808.87,435.3 808.9,436.43 808.93,435.4 808.96,438.1 808.98,440.32 809.01,435.64 809.04,431.94 809.07,436.69 809.09,433.06 809.12,440.19 809.15,435.26 809.18,438.22 809.2,438.6 809.23,435.61 809.26,437.14 809.29,435.01 809.31,437.7 809.34,436.04 809.37,433.72 809.4,435.18 809.42,437.36 809.45,436.34 809.48,432.25 809.51,439.71 809.53,436.64 809.56,439.96 809.59,436.38 809.62,437.4 809.64,434.89 809.67,434.85 809.7,433.87 809.73,436.97 809.75,437.22 809.78,437.59 809.81,434.48 809.84,433.56 809.86,436.94 809.89,432.64 809.92,438.31 809.94,433.12 809.97,437.5 810,438.63 810.03,438.83 810.05,436.11 810.08,436.02 810.11,435.58 810.13,439.38 810.16,435.4 810.19,437.94 810.22,435.73 810.24,434.54 810.27,438.01 810.3,438.37 810.32,435.63 810.35,439.09 810.38,435.68 810.41,437.05 810.43,433.01 810.46,437.11 810.49,434.99 810.51,437.69 810.54,437.88 810.57,437.34 810.59,437.14 810.62,437.93 810.65,436.16 810.67,437.16 810.7,439.16 810.73,435.82 810.75,435.56 810.78,437.92 810.81,436.34 810.84,438.16 810.86,434.58 810.89,437.85 810.92,438.6 810.94,439.05 810.97,439.19 811,438.81 811.02,435.46 811.05,436.57 811.08,435.81 811.1,439.44 811.13,438.53 811.16,438.39 811.18,436.01 811.21,437.36 811.24,435.32 811.26,437.29 811.29,438.84 811.31,438.38 811.34,436.23 811.37,437.72 811.39,435.38 811.42,435.49 811.45,436.35 811.47,438.34 811.5,433.13"/>
<polyline stroke="#0000ff" stroke-width="1.05" points="81,66 409.71,189.6 446.35,213.8 467.78,239.3 482.99,258.7 494.79,276.7 504.42,292.18 512.57,304.11 519.63,312.24 525.86,321.15 531.43,328.04 536.46,334.76 541.06,340.5 545.3,345.99 549.21,350.65 552.86,354.09 556.27,359.11 559.48,361.04 562.5,363.33 565.36,366.03 568.07,368.6 570.65,370.97 573.1,371.9 575.45,374.82 577.7,375.25 579.86,376.13 581.94,378.17 583.93,379.53 585.85,380.07 587.71,381.75 589.5,383.04 591.23,383.36 592.91,384.85 594.54,385.17 596.12,387.92 597.65,387.85 599.14,388.69 600.59,388.94 602,390.39 603.37,390.51 604.71,391.14 606.01,390.87 607.29,391.64 608.53,391.1 609.75,393.07 610.93,392.19 612.09,393.36 613.23,392.83 614.34,393.73 615.43,394.53 616.5,395.95 617.55,396.95 618.58,396.6 619.58,397.21 620.57,395.92 621.54,397.77 622.49,396.88 623.43,399.23 624.35,398.83 625.25,398.53 626.14,399.41 627.01,398.49 627.87,399.8 628.72,400.18 629.55,399.06 630.37,398.85 631.18,400.21 631.97,399.42 632.76,400.4 633.53,400.44 634.29,401.31 635.04,400.7 635.78,401.1 636.51,401.49 637.23,399.84 637.94,399 638.64,400.36 639.33,401.37 640.01,402.23 640.68,402.42 641.35,400.98 642,400.99 642.65,402.22 643.29,402.29 643.93,402.63 644.55,403.1 645.17,402.74 645.78,402.89 646.39,403.09 646.98,402.25 647.57,403.4 648.16,402.5 648.74,403.08 649.31,402.76 649.87,403.34 650.43,402.05 650.99,403.8 651.53,402.44 652.08,402.88 652.61,403.25 653.14,403.68 653.67,402.86 654.19,403.58 654.71,403.72 655.22,403.98 655.72,403.22 656.22,403.73 656.72,403.31 657.21,403.19 657.7,403.61 658.18,403.85 658.66,404.19 659.13,403.58 659.6,403.41 660.07,404.54 660.53,404.99 660.99,404.51 661.44,404.12 661.89,404.76 662.34,404.86 662.78,405.28 663.22,403.03 663.65,402.67 664.09,405.01 664.51,405.18 664.94,404.21 665.36,404.36 665.78,403.76 666.19,403.42 666.6,405.33 667.01,404.95 667.42,405.54 667.82,403.62 668.22,404.88 668.61,404.33 669.01,406.23 669.4,405.24 669.78,405.34 670.17,405.98 670.55,406.1 670.93,405.69 671.31,406.57 671.68,403.24 672.05,404.34 672.42,406.02 672.78,406.4 673.15,405.22 673.51,406.43 673.87,405.55 674.22,406.88 674.58,406.84 674.93,405.9 675.28,406.69 675.62,406.39 675.97,406.13 676.31,407.1 676.65,406.95 676.99,406.93 677.32,405.96 677.66,406.16 677.99,407.15 678.32,406.91 678.64,406.27 678.97,407.14 679.29,407.13 679.61,407.58 679.93,406.49 680.25,405.21 680.57,407.71 680.88,407.58 681.19,406.78 681.5,406.81 681.81,408.05 682.12,406.29 682.42,408.28 682.72,407.55 683.03,408.46 683.33,407.69 683.62,408.67 683.92,408.61 684.21,408.74 684.51,407.53 684.8,407 685.09,406.76 685.38,407.89 685.66,407.97 685.95,408.18 686.23,408.8 686.51,409.74 686.79,408.29 687.07,409.69 687.35,406.74 687.63,406.96 687.9,407.04 688.17,407.67 688.45,407.83 688.72,408.96 688.98,408.38 689.25,408.97 689.52,407.19 689.78,408.34 690.05,408.25 690.31,407.76 690.57,408.87 690.83,408.6 691.09,407.53 691.35,409.22 691.6,407.5 691.86,407.08 692.11,408.81 692.36,408.36 692.61,409.09 692.86,409.28 693.11,409.89 693.36,409.52 693.61,408.21 693.85,408.96 694.1,409.33 694.34,409.11 694.58,409.82 694.82,409.58 695.06,409.52 695.3,409.59 695.54,409.09 695.77,410.04 696.01,409.36 696.24,409.9 696.48,409.62 696.71,409.44 696.94,408.37 697.17,410.95 697.4,409.87 697.63,409.07 697.86,410.64 698.08,411.62 698.31,409.47 698.53,408.13 698.76,409.29 698.98,410.68 699.2,409.84 699.42,409.45 699.64,410.42 699.86,410.59 700.08,410.5 700.29,410.96 700.51,410.9 700.73,409.47 700.94,410.43 701.15,411.23 701.37,410.84 701.58,410.86 701.79,411.25 702,410.91 702.21,411.56 702.42,411.85 702.63,410.27 702.83,411.1 703.04,410.46 703.24,410.93 703.45,411.67 703.65,412.56 703.86,412.31 704.06,411.46 704.26,411.55 704.46,411.61 704.66,412.05 704.86,411.32 705.06,411.38 705.25,411.26 705.45,412.13 705.65,411.1 705.84,411.78 706.04,412.86 706.23,411.2 706.42,410.74 706.62,410.94 706.81,412.49 707,412.74 707.19,412.07 707.38,412.25 707.57,411.96 707.76,413.28 707.95,411 708.13,412.6 708.32,411.77 708.51,411.71 708.69,413.39 708.87,412.41 709.06,411.92 709.24,412.86 709.42,412.73 709.61,412.29 709.79,414.16 709.97,412.33 710.15,411.8 710.33,411.96 710.51,412.26 710.69,412.27 710.86,413.21 711.04,412.9 711.22,411.73 711.39,413.83 711.57,412.74 711.74,413.23 711.92,412.09 712.09,414.34 712.26,412.3 712.44,412.55 712.61,414.19 712.78,413.22 712.95,414.2 713.12,413.64 713.29,412.77 713.46,414.07 713.63,413.02 713.8,413.26 713.96,413.33 714.13,414.25 714.3,413.45 714.46,413.31 714.63,414.33 714.79,413.83 714.96,414.43 715.12,413.5 715.28,414.75 715.45,414.51 715.61,414.75 715.77,414.6 715.93,415 716.09,413.94 716.25,414.07 716.41,414.26 716.57,414.46 716.73,415.52 716.89,415.32 717.05,413.23 717.21,415.34 717.36,414.41 717.52,414.79 717.68,414.82 717.83,414.3 717.99,414.21 718.14,414.58 718.3,415.33 718.45,414.87 718.6,415.33 718.76,414.93 718.91,414.4 719.06,416.27 719.21,415.9 719.37,415.66 719.52,415.09 719.67,415.64 719.82,415.55 719.97,414.29 720.11,414.51 720.26,415.75 720.41,415.84 720.56,415.9 720.71,416.26 720.85,415.12 721,416.28 721.15,414.27 721.29,416.11 721.44,416.26 721.58,415.92 721.73,415.29 721.87,414.91 722.02,415.23 722.16,416.53 722.3,415.42 722.45,416.27 722.59,416.96 722.73,416.24 722.87,416.59 723.01,416.41 723.15,416.83 723.29,416.76 723.43,416.71 723.57,417.48 723.71,418.01 723.85,417.29 723.99,417.99 724.13,417.92 724.27,416.87 724.4,417.06 724.54,418.42 724.68,418.49 724.81,417.41 724.95,417.94 725.09,416.96 725.22,418.18 725.36,418.22 725.49,418.4 725.62,418.87 725.76,417.4 725.89,418.34 726.03,417.75 726.16,418.38 726.29,417.28 726.42,417.41 726.56,419.28 726.69,418.46 726.82,419.47 726.95,419.39 727.08,417.79 727.21,417.38 727.34,419.49 727.47,418.38 727.6,419.98 727.73,419.07 727.86,418.72 727.99,419.94 728.11,418.74 728.24,419.65 728.37,419.53 728.5,420.48 728.62,419.97 728.75,420.17 728.88,417.2 729,420.85 729.13,418.46 729.25,420.51 729.38,419.92 729.5,419.73 729.63,419.88 729.75,420.15 729.88,420.18 730,420.18 730.12,420.27 730.25,420.84 730.37,419.82 730.49,420.36 730.61,419.61 730.74,420.97 730.86,420.33 730.98,421.05 731.1,420.54 731.22,421.2 731.34,421.17 731.46,422.5 731.58,420.07 731.7,420.98 731.82,420.07 731.94,421.31 732.06,420.7 732.18,420.52 732.3,421.84 732.41,421.78 732.53,421.81 732.65,420.61 732.77,422.04 732.88,421.71 733,421.91 733.12,422.09 733.23,422.56 733.35,422.37 733.47,421.63 733.58,422.13 733.7,422.19 733.81,423.3 733.93,421.44 734.04,422.37 734.16,421.99 734.27,421.03 734.38,422.79 734.5,422.69 734.61,422.45 734.72,423.41 734.84,422.46 734.95,423.22 735.06,422.71 735.17,422.85 735.28,423.1 735.4,423.16 735.51,422.28 735.62,423.5 735.73,421.81 735.84,422.08 735.95,422.99 736.06,423.85 736.17,423.13 736.28,424.27 736.39,423.36 736.5,422.66 736.61,423.31 736.72,423.94 736.83,423.15 736.94,424 737.04,424.53 737.15,423.41 737.26,423.7 737.37,424.25 737.47,423.51 737.58,424.47 737.69,423.73 737.79,424.77 737.9,424.62 738.01,424.57 738.11,424.96 738.22,425.04 738.32,424.25 738.43,423.76 738.54,423.8 738.64,424.99 738.75,424.09 738.85,423.22 738.95,424.31 739.06,423.69 739.16,425.17 739.27,423.82 739.37,425.45 739.47,425.44 739.58,425.5 739.68,426.13 739.78,423.34 739.88,425.49 739.99,425.73 740.09,424.42 740.19,426.64 740.29,425.65 740.39,426.51 740.5,426.18 740.6,426.41 740.7,425.31 740.8,426.18 740.9,425.63 741,425.65 741.1,425.55 741.2,426.27 741.3,426.48 741.4,426.58 741.5,425.63 741.6,426.5 741.7,427.13 741.8,427.16 741.89,426.9 741.99,427.14 742.09,427.3 742.19,426.64 742.29,426.23 742.39,425.44 742.48,426.72 742.58,427.05 742.68,427.32 742.77,427.46 742.87,427.17 742.97,427.96 743.06,427.23 743.16,425.97 743.26,426.43 743.35,428.33 743.45,426.76 743.54,427.52 743.64,426.31 743.74,428.22 743.83,427.8 743.93,427.48 744.02,428.6 744.12,427.9 744.21,427.36 744.3,428.25 744.4,427.14 744.49,427.09 744.59,428.24 744.68,428.28 744.77,428.18 744.87,428.07 744.96,428.3 745.05,427.77 745.15,428.25 745.24,426.82 745.33,428.63 745.42,428.02 745.52,428.85 745.61,427.95 745.7,427.37 745.79,427.87 745.88,428.23 745.97,428.36 746.06,429.19 746.16,426.97 746.25,428.94 746.34,428.72 746.43,428.53 746.52,428.93 746.61,428.57 746.7,428.82 746.79,428.76 746.88,429.35 746.97,429.36 747.06,428.78 747.15,430.6 747.24,429.37 747.33,429.19 747.41,429.67 747.5,430.23 747.59,428.9 747.68,428.92 747.77,430.02 747.86,429.19 747.94,428.36 748.03,429.91 748.12,430.4 748.21,429.13 748.3,428.95 748.38,429.68 748.47,429.71 748.56,430.65 748.64,429.87 748.73,430.61 748.82,430.24 748.9,431.94 748.99,429.92 749.08,430.11 749.16,431.44 749.25,430.72 749.33,431.52 749.42,430.04 749.5,430.93 749.59,430.64 749.68,431.14 749.76,430.39 749.85,431.05 749.93,430.72 750.01,430.14 750.1,430.48 750.18,431.76 750.27,431.03 750.35,431.38 750.44,431.59 750.52,430.36 750.6,432.37 750.69,430.81 750.77,431 750.85,430.61 750.94,432.87 751.02,432.55 751.1,432.41 751.19,431.74 751.27,432.13 751.35,431 751.43,433.08 751.52,431.59 751.6,432.18 751.68,431.47 751.76,433.05 751.84,431.69 751.93,432.78 752.01,431.72 752.09,430.75 752.17,431.48 752.25,432.7 752.33,431.85 752.41,432.39 752.49,431.77 752.57,433.02 752.65,433.24 752.73,433.34 752.81,431.82 752.9,433.14 752.98,432.29 753.06,433.8 753.13,433.37 753.21,433.09 753.29,433.47 753.37,432.12 753.45,434.02 753.53,434.08 753.61,433.89 753.69,433.49 753.77,432.75 753.85,433.55 753.93,434.28 754,433.72 754.08,432.08 754.16,433.28 754.24,434.14 754.32,434.67 754.4,433.9 754.47,433.96 754.55,434.12 754.63,434.32 754.71,435.08 754.78,434.58 754.86,433.39 754.94,434.24 755.01,433.41 755.09,434.03 755.17,434.46 755.24,433.64 755.32,434.89 755.4,434.19 755.47,432.97 755.55,433.88 755.63,434.1 755.7,435.18 755.78,435.62 755.85,435.33 755.93,435.12 756.01,435.3 756.08,433.79 756.16,435.81 756.23,435.32 756.31,434.4 756.38,436.42 756.46,433.97 756.53,436.28 756.61,436.46 756.68,435.61 756.76,436.08 756.83,435.4 756.9,435.71 756.98,434.97 757.05,433.94 757.13,436 757.2,435.6 757.27,435.76 757.35,435.3 757.42,436.25 757.49,436.3 757.57,436.64 757.64,436.69 757.71,435.88 757.79,436.41 757.86,436.94 757.93,435.3 758.01,435.92 758.08,436.63 758.15,435.7 758.22,435.64 758.3,436.56 758.37,437.63 758.44,436.01 758.51,435.09 758.58,437.72 758.66,436.53 758.73,436.47 758.8,436.15 758.87,435.96 758.94,436.57 759.01,436.39 759.09,437.43 759.16,438.61 759.23,438.02 759.3,436.3 759.37,436.43 759.44,436.63 759.51,436.76 759.58,436.92 759.65,436.29 759.72,436.54 759.79,437.52 759.86,438.45 759.93,437.37 760,436.7 760.07,437.99 760.14,438.04 760.21,434.96 760.28,438.42 760.35,438.61 760.42,438.21 760.49,437.35 760.56,437.49 760.63,438.45 760.7,438.04 760.77,436.48 760.84,438.62 760.91,438.25 760.97,437.5 761.04,438.29 761.11,438.73 761.18,438.53 761.25,437.97 761.32,438.55 761.39,438.9 761.45,436.95 761.52,439.5 761.59,438.68 761.66,438.24 761.73,438.72 761.79,439.9 761.86,439.45 761.93,438.56 762,439.43 762.06,439.52 762.13,440 762.2,438.06 762.27,437.72 762.33,438.65 762.4,438.19 762.47,439.2 762.53,438.79 762.6,439.16 762.67,438.84 762.73,439.52 762.8,439.38 762.87,437.45 762.93,439.5 763,440.43 763.06,438.34 763.13,440.47 763.2,440.17 763.26,439.96 763.33,438.91 763.39,441.03 763.46,438.42 763.52,440.05 763.59,440.82 763.66,439.55 763.72,439.66 763.79,439.25 763.85,440.7 763.92,440.05 763.98,439.57 764.05,439.62 764.11,440.42 764.18,440.66 764.24,440.75 764.3,441.27 764.37,441.01 764.43,441.23 764.5,440.2 764.56,440.13 764.63,440.97 764.69,441.27 764.75,441.07 764.82,440.32 764.88,438.81 764.95,440.65 765.01,441.25 765.07,439.34 765.14,439.89 765.2,441.09 765.26,441.18 765.33,439.97 765.39,440.52 765.45,440.29 765.52,440.93 765.58,441.06 765.64,440.87 765.71,441.57 765.77,441.27 765.83,441.34 765.89,441.05 765.96,441.96 766.02,440.41 766.08,440.69 766.14,441.86 766.21,441.82 766.27,441.67 766.33,441.51 766.39,441.51 766.45,441.74 766.52,442.15 766.58,439.92 766.64,440.75 766.7,441.8 766.76,441.3 766.83,441.38 766.89,441.14 766.95,441.73 767.01,442.45 767.07,441.12 767.13,441.44 767.19,439.9 767.25,442.64 767.32,440.57 767.38,442.47 767.44,441.58 767.5,441.43 767.56,441.03 767.62,442.47 767.68,441.91 767.74,441.83 767.8,442.75 767.86,442.27 767.92,442.71 767.98,441.71 768.04,443.33 768.1,442.57 768.16,443.07 768.22,442.31 768.28,442.48 768.34,443.22 768.4,442.94 768.46,441.89 768.52,442.18 768.58,442.4 768.64,442.76 768.7,443.01 768.76,444.09 768.82,443.18 768.88,443.15 768.94,443.42 769,443.71 769.05,442.54 769.11,442.97 769.17,442.94 769.23,443.15 769.29,443.09 769.35,443.48 769.41,443.14 769.47,442.53 769.52,442.95 769.58,442.54 769.64,442.92 769.7,442.97 769.76,442.16 769.82,444.51 769.87,442.36 769.93,443.01 769.99,442.39 770.05,443.17 770.11,443.87 770.16,444.17 770.22,443.07 770.28,443.94 770.34,444.9 770.39,443.35 770.45,443.67 770.51,444.16 770.57,443.09 770.62,443.44 770.68,443.7 770.74,443.71 770.8,443.83 770.85,444.26 770.91,444.26 770.97,444.58 771.02,444.34 771.08,443.75 771.14,444.1 771.19,444.41 771.25,444.45 771.31,443.57 771.36,444.81 771.42,443.67 771.48,444.42 771.53,444.98 771.59,443.76 771.65,444.42 771.7,444.08 771.76,443.82 771.81,444.74 771.87,443.72 771.93,445.41 771.98,443.3 772.04,444.77 772.09,444.49 772.15,444.64 772.2,445.54 772.26,445.8 772.31,445.85 772.37,444.77 772.43,445.14 772.48,445.35 772.54,444.95 772.59,445.23 772.65,445.16 772.7,445.59 772.76,444.81 772.81,444.12 772.87,445.08 772.92,445.72 772.98,444.57 773.03,445.45 773.09,444.55 773.14,446.13 773.2,443.89 773.25,446.01 773.3,445.59 773.36,445.58 773.41,445.75 773.47,445.91 773.52,445.68 773.58,445.79 773.63,444.22 773.68,444.71 773.74,445.57 773.79,445.35 773.85,444.86 773.9,446.4 773.95,444.99 774.01,445.19 774.06,446.08 774.11,445.91 774.17,446.46 774.22,446.17 774.27,445.07 774.33,445.48 774.38,445.98 774.44,445.37 774.49,445.2 774.54,447.27 774.59,445.8 774.65,446.95 774.7,445.11 774.75,446.33 774.81,445.72 774.86,446.73 774.91,447.5 774.97,447.49 775.02,447.14 775.07,446.1 775.12,446.7 775.18,446.58 775.23,445.88 775.28,448.11 775.33,446 775.39,446.65 775.44,446.39 775.49,447.63 775.54,446.72 775.59,448.05 775.65,446.57 775.7,446.64 775.75,445.44 775.8,446.83 775.85,447.45 775.91,448.28 775.96,447.24 776.01,446 776.06,445.47 776.11,447.07 776.16,447.54 776.22,447.17 776.27,447.58 776.32,447.82 776.37,448.15 776.42,446.86 776.47,446.72 776.52,447.26 776.58,446.88 776.63,448.04 776.68,448.24 776.73,447.4 776.78,446.88 776.83,447.19 776.88,447.52 776.93,448.07 776.98,447.14 777.03,448.2 777.09,448.29 777.14,445.93 777.19,447.83 777.24,447.19 777.29,447.32 777.34,447.11 777.39,447.21 777.44,447.85 777.49,447.63 777.54,445.98 777.59,447.08 777.64,447.08 777.69,447.33 777.74,447.57 777.79,447.37 777.84,448.3 777.89,447.68 777.94,446.78 777.99,447.13 778.04,447.07 778.09,448.4 778.14,446.32 778.19,447.57 778.24,447.59 778.29,447.23 778.34,448.38 778.39,447.05 778.44,447.58 778.49,447.96 778.53,448.13 778.58,447.44 778.63,447.47 778.68,447.62 778.73,447.82 778.78,448.68 778.83,448.39 778.88,449.35 778.93,448.32 778.98,447.49 779.03,448.42 779.07,448.15 779.12,448.6 779.17,447.57 779.22,447.17 779.27,447.59 779.32,449.03 779.37,447.03 779.42,447.65 779.46,448.55 779.51,448.26 779.56,447.12 779.61,447.63 779.66,448 779.71,446.76 779.75,449.06 779.8,447.18 779.85,448.88 779.9,447.56 779.95,448.85 779.99,447.48 780.04,448.46 780.09,448.47 780.14,448.62 780.19,447.18 780.23,448.71 780.28,447.08 780.33,448.78 780.38,448.61 780.42,448.36 780.47,447.47 780.52,449.28 780.57,447.77 780.61,448.64 780.66,447.44 780.71,448.79 780.76,447.89 780.8,446.29 780.85,448.46 780.9,448.08 780.94,448.72 780.99,447.59 781.04,448.32 781.09,447.25 781.13,448.4 781.18,448.66 781.23,449.81 781.27,449.44 781.32,447.84 781.37,448.99 781.41,449 781.46,448.36 781.51,447.58 781.55,447.98 781.6,448.96 781.65,448.17 781.69,448.73 781.74,450.15 781.79,448.34 781.83,447.96 781.88,447.88 781.92,448.21 781.97,447.45 782.02,448.09 782.06,449.29 782.11,447.35 782.16,449.03 782.2,447.86 782.25,448.49 782.29,447.96 782.34,448.8 782.39,448.53 782.43,448.85 782.48,449.41 782.52,449.16 782.57,448.05 782.61,448.81 782.66,448.21 782.71,447.63 782.75,449.64 782.8,448.23 782.84,447.4 782.89,449.18 782.93,448.75 782.98,449.12 783.02,449.68 783.07,447.76 783.11,449.64 783.16,448.91 783.2,448.84 783.25,450.11 783.29,448.32 783.34,450.41 783.38,448.69 783.43,450.28 783.47,449.15 783.52,448.33 783.56,449.85 783.61,448.53 783.65,449.59 783.7,448.81 783.74,449.05 783.79,449.22 783.83,448.74 783.88,448.96 783.92,448.16 783.97,449.37 784.01,449.33 784.05,448.75 784.1,448.97 784.14,449.98 784.19,449.73 784.23,450.21 784.28,449.52 784.32,449.83 784.36,448.97 784.41,447.81 784.45,449.29 784.5,448.57 784.54,449.4 784.59,450.09 784.63,448.37 784.67,449.56 784.72,448.61 784.76,449.75 784.8,449.35 784.85,448.49 784.89,447.89 784.94,448.78 784.98,448.18 785.02,448.01 785.07,449.07 785.11,449.74 785.15,448.8 785.2,448.74 785.24,448.56 785.28,447.95 785.33,450.59 785.37,449.65 785.41,448.28 785.46,449.66 785.5,448.39 785.54,448.25 785.59,449.64 785.63,449.74 785.67,449.14 785.72,449.41 785.76,448.92 785.8,448.16 785.85,449.23 785.89,449.34 785.93,448.78 785.97,449.94 786.02,448.99 786.06,449.39 786.1,449.12 786.15,449.05 786.19,449.69 786.23,450.05 786.27,450.48 786.32,449.86 786.36,449.19 786.4,448.57 786.44,449.06 786.49,449.89 786.53,449.61 786.57,450.15 786.61,447.71 786.66,449.66 786.7,450.2 786.74,449.81 786.78,449.4 786.82,449.09 786.87,450.23 786.91,449.78 786.95,448.41 786.99,447.65 787.03,449.78 787.08,449.58 787.12,449.57 787.16,450.2 787.2,449.21 787.24,449.06 787.29,449.25 787.33,449.45 787.37,449.55 787.41,448.81 787.45,449.77 787.49,449.93 787.54,449.17 787.58,449.4 787.62,448.86 787.66,449.31 787.7,448.92 787.74,449.48 787.78,448.89 787.83,450.09 787.87,451.07 787.91,450.1 787.95,450.47 787.99,449.09 788.03,451.27 788.07,450.65 788.11,449.14 788.16,450.32 788.2,450 788.24,450.37 788.28,449.19 788.32,450.48 788.36,449.6 788.4,450.67 788.44,449.77 788.48,449.48 788.52,450.6 788.57,450.71 788.61,449.84 788.65,450.73 788.69,449.87 788.73,449.43 788.77,447.93 788.81,449.77 788.85,449.16 788.89,448.92 788.93,450.42 788.97,449.12 789.01,450.53 789.05,449.84 789.09,450.86 789.13,450.97 789.17,450.47 789.21,449.03 789.25,450.43 789.29,450.09 789.33,447.58 789.38,450.52 789.42,449.5 789.46,449.66 789.5,450.31 789.54,450.22 789.58,449.15 789.62,450.1 789.66,449.94 789.7,450.02 789.74,449.71 789.78,450.3 789.82,449.45 789.85,450.67 789.89,449.47 789.93,450.1 789.97,448.94 790.01,450.39 790.05,449.24 790.09,451.05 790.13,450.84 790.17,450.15 790.21,449.96 790.25,449.89 790.29,448.78 790.33,451.25 790.37,450.78 790.41,451.23 790.45,450.47 790.49,449.58 790.53,450.59 790.57,450.25 790.61,450.17 790.65,450.64 790.68,449.83 790.72,450.32 790.76,450.49 790.8,449.6 790.84,450.34 790.88,451 790.92,450.44 790.96,450.71 791,450.75 791.04,449.31 791.07,450.47 791.11,449.29 791.15,450.36 791.19,450.53 791.23,450.08 791.27,450.67 791.31,450.1 791.35,450.39 791.38,450.96 791.42,450.4 791.46,448.65 791.5,449.2 791.54,450.92 791.58,450.92 791.62,449.95 791.65,450.17 791.69,450.21 791.73,449.85 791.77,450.04 791.81,449.96 791.85,450.48 791.89,449.89 791.92,450.58 791.96,451.22 792,450.53 792.04,451.09 792.08,450.33 792.11,449.7 792.15,450.17 792.19,451.14 792.23,450.11 792.27,451 792.3,450.67 792.34,450.87 792.38,450.69 792.42,450.87 792.46,451.93 792.49,450.51 792.53,450.52 792.57,451.16 792.61,449.07 792.65,451.25 792.68,451.19 792.72,449.37 792.76,450.29 792.8,451.16 792.83,451.09 792.87,450.96 792.91,448.82 792.95,450.41 792.98,451.02 793.02,450.48 793.06,450.17 793.1,451.23 793.13,451.27 793.17,450.52 793.21,452.24 793.25,451.17 793.28,451.88 793.32,450.88 793.36,451.3 793.4,450.83 793.43,450.58 793.47,450.83 793.51,450.98 793.54,450.5 793.58,450.59 793.62,450.56 793.66,450.86 793.69,450.55 793.73,451.64 793.77,450.84 793.8,450.92 793.84,450.54 793.88,450.64 793.91,450.67 793.95,451.78 793.99,451.36 794.02,451.4 794.06,450.84 794.1,451.19 794.13,451.02 794.17,451.21 794.21,451.25 794.24,451.05 794.28,451.79 794.32,450.23 794.35,450.41 794.39,450.86 794.43,451.33 794.46,451.16 794.5,450.37 794.54,451.64 794.57,450.89 794.61,451.47 794.65,451.46 794.68,450.4 794.72,450.71 794.76,452.31 794.79,450.64 794.83,450.74 794.86,449.95 794.9,450.36 794.94,450.28 794.97,452.13 795.01,450.57 795.04,449.57 795.08,451.25 795.12,451.75 795.15,451.4 795.19,451.74 795.22,451.14 795.26,450.09 795.3,451.61 795.33,450.59 795.37,451.2 795.4,450.44 795.44,450.87 795.48,450.62 795.51,452.44 795.55,450.45 795.58,451.6 795.62,450.5 795.65,450.88 795.69,451.36 795.73,450.06 795.76,451.73 795.8,450.5 795.83,452.09 795.87,451.52 795.9,450.37 795.94,450.62 795.97,451.2 796.01,451 796.05,451.18 796.08,451.37 796.12,451.4 796.15,451.4 796.19,452.13 796.22,451.62 796.26,450.18 796.29,451.77 796.33,451 796.36,451.33 796.4,450.87 796.43,451.47 796.47,451.86 796.5,451.56 796.54,452.02 796.57,451.8 796.61,451.06 796.64,450.56 796.68,451.56 796.71,451.99 796.75,450.92 796.78,450.46 796.82,451.77 796.85,450.79 796.89,452.49 796.92,451.51 796.96,452.28 796.99,451.69 797.03,450.39 797.06,450.7 797.1,451.06 797.13,450.61 797.17,451.4 797.2,451.44 797.24,452.02 797.27,451.79 797.31,451.59 797.34,450.9 797.37,451.96 797.41,450.74 797.44,451.03 797.48,449.23 797.51,452.69 797.55,450.53 797.58,452.26 797.62,450.64 797.65,450.83 797.68,450.88 797.72,452.41 797.75,451.79 797.79,451.18 797.82,451.66 797.86,452.01 797.89,450.6 797.92,451.97 797.96,450.79 797.99,452.61 798.03,450.78 798.06,451.04 798.09,451.25 798.13,452.07 798.16,450.99 798.2,452.01 798.23,451.37 798.26,452.16 798.3,451.59 798.33,451.68 798.37,451.27 798.4,451.56 798.43,450.94 798.47,451.8 798.5,451.68 798.54,451.23 798.57,451.86 798.6,452.34 798.64,451.28 798.67,451.39 798.7,451.16 798.74,451.94 798.77,451.65 798.8,451.7 798.84,450.9 798.87,451.93 798.91,451.55 798.94,451.2 798.97,451.05 799.01,451.69 799.04,451.19 799.07,452.17 799.11,452.66 799.14,452.11 799.17,451.7 799.21,452.2 799.24,452.44 799.27,452.22 799.31,451.71 799.34,450.69 799.37,452.26 799.41,452.26 799.44,451.8 799.47,452.01 799.51,451.71 799.54,451.33 799.57,451.46 799.61,451.91 799.64,451.13 799.67,450.93 799.7,451.77 799.74,451.03 799.77,452.09 799.8,451.51 799.84,452.14 799.87,451.66 799.9,451.56 799.94,452.25 799.97,451.65 800,451.36 800.03,450.89 800.07,452.17 800.1,451.6 800.13,451.06 800.16,451.57 800.2,452.85 800.23,451.02 800.26,451.26 800.3,452.12 800.33,451.87 800.36,451.99 800.39,451.47 800.43,451.63 800.46,450.64 800.49,451.57 800.52,451.43 800.56,451.7 800.59,452.61 800.62,451.37 800.65,452.1 800.69,451.29 800.72,451 800.75,452.65 800.78,451.56 800.82,452.03 800.85,451.71 800.88,451.56 800.91,453.1 800.95,452.77 800.98,452.76 801.01,452.16 801.04,451.71 801.07,450.98 801.11,452.54 801.14,451.42 801.17,452.79 801.2,452 801.23,451.51 801.27,453.06 801.3,451.94 801.33,451.4 801.36,452.65 801.4,452.86 801.43,451.59 801.46,452.49 801.49,451.31 801.52,452.66 801.55,452.39 801.59,453.07 801.62,451.92 801.65,452.37 801.68,451.19 801.71,452.56 801.75,451.85 801.78,451.75 801.81,451.32 801.84,453.17 801.87,451.18 801.9,451.83 801.94,452.9 801.97,452.84 802,450.35 802.03,453.26 802.06,452.91 802.09,451.43 802.13,453.27 802.16,452.2 802.19,451.16 802.22,452.59 802.25,452.13 802.28,451.96 802.31,451.56 802.35,451.94 802.38,452.34 802.41,452.69 802.44,452.19 802.47,453.29 802.5,452.03 802.53,453.1 802.57,452.49 802.6,451.18 802.63,452.15 802.66,452.36 802.69,451.82 802.72,451.71 802.75,452.88 802.78,452.63 802.82,452.65 802.85,452.23 802.88,452.74 802.91,452.4 802.94,451.2 802.97,452.2 803,452.35 803.03,452.14 803.06,453.12 803.1,452.78 803.13,452.46 803.16,452.96 803.19,451.59 803.22,451.92 803.25,452.54 803.28,452.2 803.31,453.32 803.34,451.86 803.37,452.8 803.4,452.94 803.44,452.59 803.47,451.4 803.5,452.25 803.53,452.61 803.56,452.5 803.59,451.21 803.62,451.82 803.65,452.77 803.68,452.52 803.71,452.22 803.74,452.12 803.77,452.38 803.8,452.96 803.83,452.44 803.86,452.66 803.89,453.74 803.93,452.19 803.96,452.88 803.99,452.76 804.02,451.54 804.05,451.68 804.08,453.9 804.11,453.07 804.14,453.36 804.17,451.65 804.2,452.46 804.23,453.11 804.26,453.38 804.29,452.29 804.32,451.25 804.35,453.19 804.38,452.17 804.41,453.66 804.44,453.15 804.47,452.1 804.5,452.35 804.53,452.42 804.56,452.68 804.59,453.74 804.62,452.87 804.65,452.9 804.68,451.84 804.71,452.31 804.74,452.98 804.77,452.49 804.8,453.24 804.83,452.84 804.86,452.96 804.89,452.16 804.92,452.81 804.95,453.09 804.98,452.98 805.01,452.87 805.04,452.44 805.07,451.32 805.1,452.19 805.13,451.88 805.16,452.23 805.19,452.96 805.22,452.61 805.25,451.7 805.28,451.67 805.31,452.97 805.34,451.58 805.37,452.69 805.4,451.95 805.43,453.06 805.46,452.61 805.49,453.07 805.52,451.71 805.55,452.67 805.58,452.96 805.61,451.52 805.64,453.8 805.67,453.47 805.7,451.6 805.72,452.29 805.75,452.6 805.78,452 805.81,452.95 805.84,452.9 805.87,452.56 805.9,453.15 805.93,452.45 805.96,452.58 805.99,453.21 806.02,452.33 806.05,453.34 806.08,452.53 806.11,452.73 806.14,453.19 806.16,453.14 806.19,451.9 806.22,452.6 806.25,453.08 806.28,453.81 806.31,453.22 806.34,452.75 806.37,452.49 806.4,452.98 806.43,452.33 806.46,452.99 806.49,453.64 806.51,453.29 806.54,452.91 806.57,454 806.6,452.61 806.63,453.55 806.66,452.44 806.69,452.71 806.72,452.79 806.75,453.41 806.78,451.32 806.8,453.14 806.83,453.35 806.86,453.05 806.89,452.35 806.92,451.9 806.95,453.46 806.98,453.4 807.01,453.71 807.03,452.78 807.06,453.66 807.09,452.89 807.12,452.45 807.15,453.85 807.18,453.18 807.21,451.83 807.24,452.49 807.26,452.78 807.29,453.32 807.32,453.78 807.35,453.57 807.38,451.82 807.41,452.46 807.44,453.65 807.46,453.52 807.49,452.03 807.52,453.79 807.55,453.11 807.58,453.37 807.61,452.85 807.64,453.13 807.66,452.25 807.69,452.87 807.72,453.18 807.75,454 807.78,453 807.81,453.95 807.83,453.34 807.86,451.94 807.89,453.11 807.92,454.82 807.95,451.99 807.98,452.31 808,453.21 808.03,453.69 808.06,453.25 808.09,453.04 808.12,454.08 808.14,452.81 808.17,453.45 808.2,453.43 808.23,453.14 808.26,453.59 808.29,454.13 808.31,453.63 808.34,454 808.37,452.31 808.4,453.63 808.43,452.88 808.45,453.33 808.48,452.49 808.51,453.03 808.54,452.39 808.57,453.43 808.59,454.11 808.62,454.28 808.65,453.12 808.68,452.79 808.71,453.09 808.73,452.02 808.76,453.44 808.79,453.98 808.82,453.54 808.84,453.13 808.87,453.7 808.9,453.78 808.93,452.13 808.96,452.9 808.98,454.05 809.01,453.41 809.04,454.17 809.07,453.2 809.09,453.18 809.12,453.31 809.15,452.71 809.18,453.28 809.2,453.42 809.23,453.43 809.26,453.87 809.29,452.85 809.31,452.48 809.34,453.73 809.37,453.97 809.4,453.66 809.42,453.17 809.45,452.91 809.48,452.53 809.51,454.06 809.53,453.19 809.56,453.15 809.59,452.42 809.62,453.35 809.64,453.26 809.67,452.99 809.7,453.89 809.73,453.56 809.75,453 809.78,454.25 809.81,453.81 809.84,453.73 809.86,453.57 809.89,453.32 809.92,454.53 809.94,453.53 809.97,452.82 810,453.08 810.03,454.09 810.05,452.66 810.08,453.59 810.11,453.62 810.13,452.85 810.16,452.86 810.19,452.89 810.22,453.67 810.24,452.95 810.27,453.68 810.3,454.12 810.32,452.78 810.35,452.12 810.38,453.76 810.41,453.27 810.43,452.91 810.46,454.29 810.49,454.04 810.51,453.95 810.54,453.86 810.57,453.36 810.59,453.41 810.62,453.83 810.65,454.19 810.67,453.23 810.7,452.71 810.73,453.32 810.75,454.54 810.78,452.7 810.81,453.42 810.84,454.64 810.86,452.48 810.89,454.12 810.92,454.74 810.94,452.14 810.97,453 811,453.23 811.02,453.45 811.05,452.45 811.08,452.5 811.1,453.9 811.13,453.18 811.16,452.87 811.18,454.88 811.21,453.88 811.24,452.72 811.26,453.25 811.29,454.44 811.31,453.62 811.34,453.83 811.37,454.8 811.39,454.65 811.42,454.55 811.45,453.44 811.47,453.75 811.5,453.6"/>
<polyline stroke="#00ff00" stroke-width="1.15" points="81,67 409.71,192.2 446.35,219.2 467.78,242.3 482.99,260.2 494.79,278.8 504.42,293.16 512.57,304.77 519.63,314 525.86,322.14 531.43,329.34 536.46,335.86 541.06,341.7 545.3,346.77 549.21,351.48 552.86,355.85 556.27,359.54 559.48,362.45 562.5,365.18 565.36,367.77 568.07,370.23 570.65,372.39 573.1,374.11 575.45,375.76 577.7,377.33 579.86,378.84 581.94,380.29 583.93,381.69 585.85,382.92 587.71,384.03 589.5,385.09 591.23,386.12 592.91,387.11 594.54,388.08 596.12,389.01 597.65,389.92 599.14,390.81 600.59,391.53 602,392.12 603.37,392.7 604.71,393.26 606.01,393.81 607.29,394.34 608.53,394.87 609.75,395.38 610.93,395.88 612.09,396.36 613.23,396.84 614.34,397.31 615.43,397.69 616.5,398.01 617.55,398.33 618.58,398.64 619.58,398.94 620.57,399.24 621.54,399.54 622.49,399.82 623.43,400.11 624.35,400.38 625.25,400.66 626.14,400.92 627.01,401.19 627.87,401.45 628.72,401.7 629.55,401.96 630.37,402.13 631.18,402.3 631.97,402.45 632.76,402.61 633.53,402.77 634.29,402.92 635.04,403.07 635.78,403.22 636.51,403.36 637.23,403.51 637.94,403.65 638.64,403.79 639.33,403.93 640.01,404.06 640.68,404.2 641.35,404.33 642,404.46 642.65,404.59 643.29,404.72 643.93,404.85 644.55,404.97 645.17,405.08 645.78,405.19 646.39,405.3 646.98,405.4 647.57,405.51 648.16,405.61 648.74,405.71 649.31,405.81 649.87,405.91 650.43,406.01 650.99,406.11 651.53,406.21 652.08,406.3 652.61,406.4 653.14,406.49 653.67,406.58 654.19,406.67 654.71,406.77 655.22,406.86 655.72,406.95 656.22,407.03 656.72,407.12 657.21,407.21 657.7,407.29 658.18,407.38 658.66,407.46 659.13,407.55 659.6,407.63 660.07,407.71 660.53,407.81 660.99,407.9 661.44,407.99 661.89,408.08 662.34,408.17 662.78,408.26 663.22,408.34 663.65,408.43 664.09,408.52 664.51,408.6 664.94,408.69 665.36,408.77 665.78,408.86 666.19,408.94 666.6,409.02 667.01,409.1 667.42,409.18 667.82,409.26 668.22,409.34 668.61,409.42 669.01,409.5 669.4,409.58 669.78,409.66 670.17,409.73 670.55,409.81 670.93,409.89 671.31,409.96 671.68,410.04 672.05,410.11 672.42,410.18 672.78,410.26 673.15,410.33 673.51,410.4 673.87,410.47 674.22,410.54 674.58,410.62 674.93,410.69 675.28,410.76 675.62,410.82 675.97,410.89 676.31,410.96 676.65,411.03 676.99,411.1 677.32,411.16 677.66,411.23 677.99,411.3 678.32,411.36 678.64,411.43 678.97,411.49 679.29,411.56 679.61,411.62 679.93,411.69 680.25,411.75 680.57,411.81 680.88,411.88 681.19,411.94 681.5,412 681.81,412.06 682.12,412.12 682.42,412.18 682.72,412.24 683.03,412.31 683.33,412.37 683.62,412.42 683.92,412.48 684.21,412.54 684.51,412.6 684.8,412.66 685.09,412.72 685.38,412.78 685.66,412.83 685.95,412.89 686.23,412.95 686.51,413 686.79,413.06 687.07,413.11 687.35,413.17 687.63,413.23 687.9,413.28 688.17,413.33 688.45,413.39 688.72,413.44 688.98,413.5 689.25,413.55 689.52,413.6 689.78,413.66 690.05,413.71 690.31,413.78 690.57,413.84 690.83,413.91 691.09,413.98 691.35,414.04 691.6,414.11 691.86,414.17 692.11,414.23 692.36,414.3 692.61,414.36 692.86,414.43 693.11,414.49 693.36,414.55 693.61,414.61 693.85,414.68 694.1,414.74 694.34,414.8 694.58,414.86 694.82,414.92 695.06,414.98 695.3,415.04 695.54,415.1 695.77,415.16 696.01,415.22 696.24,415.28 696.48,415.34 696.71,415.4 696.94,415.46 697.17,415.52 697.4,415.57 697.63,415.63 697.86,415.69 698.08,415.75 698.31,415.8 698.53,415.86 698.76,415.92 698.98,415.97 699.2,416.03 699.42,416.09 699.64,416.14 699.86,416.2 700.08,416.25 700.29,416.31 700.51,416.36 700.73,416.42 700.94,416.47 701.15,416.53 701.37,416.58 701.58,416.63 701.79,416.69 702,416.74 702.21,416.79 702.42,416.85 702.63,416.9 702.83,416.95 703.04,417 703.24,417.06 703.45,417.11 703.65,417.16 703.86,417.21 704.06,417.26 704.26,417.31 704.46,417.36 704.66,417.41 704.86,417.46 705.06,417.52 705.25,417.59 705.45,417.66 705.65,417.73 705.84,417.79 706.04,417.86 706.23,417.93 706.42,418 706.62,418.06 706.81,418.13 707,418.2 707.19,418.26 707.38,418.33 707.57,418.4 707.76,418.46 707.95,418.53 708.13,418.59 708.32,418.66 708.51,418.72 708.69,418.79 708.87,418.85 709.06,418.92 709.24,418.98 709.42,419.04 709.61,419.11 709.79,419.17 709.97,419.23 710.15,419.3 710.33,419.36 710.51,419.42 710.69,419.48 710.86,419.55 711.04,419.61 711.22,419.67 711.39,419.73 711.57,419.79 711.74,419.85 711.92,419.91 712.09,419.97 712.26,420.03 712.44,420.1 712.61,420.16 712.78,420.21 712.95,420.27 713.12,420.33 713.29,420.39 713.46,420.45 713.63,420.51 713.8,420.57 713.96,420.63 714.13,420.69 714.3,420.74 714.46,420.8 714.63,420.86 714.79,420.92 714.96,420.98 715.12,421.03 715.28,421.09 715.45,421.15 715.61,421.2 715.77,421.26 715.93,421.32 716.09,421.37 716.25,421.43 716.41,421.48 716.57,421.54 716.73,421.59 716.89,421.65 717.05,421.71 717.21,421.76 717.36,421.82 717.52,421.87 717.68,421.92 717.83,421.98 717.99,422.03 718.14,422.09 718.3,422.14 718.45,422.19 718.6,422.25 718.76,422.3 718.91,422.35 719.06,422.41 719.21,422.46 719.37,422.51 719.52,422.57 719.67,422.62 719.82,422.67 719.97,422.72 720.11,422.77 720.26,422.83 720.41,422.88 720.56,422.93 720.71,422.98 720.85,423.03 721,423.08 721.15,423.13 721.29,423.18 721.44,423.23 721.58,423.28 721.73,423.33 721.87,423.38 722.02,423.43 722.16,423.48 722.3,423.53 722.45,423.58 722.59,423.63 722.73,423.68 722.87,423.73 723.01,423.78 723.15,423.83 723.29,423.88 723.43,423.92 723.57,423.97 723.71,424.02 723.85,424.07 723.99,424.12 724.13,424.17 724.27,424.21 724.4,424.26 724.54,424.31 724.68,424.36 724.81,424.4 724.95,424.45 725.09,424.5 725.22,424.54 725.36,424.59 725.49,424.64 725.62,424.68 725.76,424.73 725.89,424.78 726.03,424.82 726.16,424.87 726.29,424.92 726.42,424.96 726.56,425.01 726.69,425.05 726.82,425.1 726.95,425.14 727.08,425.19 727.21,425.23 727.34,425.28 727.47,425.32 727.6,425.37 727.73,425.41 727.86,425.46 727.99,425.5 728.11,425.55 728.24,425.59 728.37,425.64 728.5,425.68 728.62,425.72 728.75,425.77 728.88,425.81 729,425.86 729.13,425.9 729.25,425.94 729.38,425.99 729.5,426.03 729.63,426.07 729.75,426.12 729.88,426.16 730,426.2 730.12,426.24 730.25,426.29 730.37,426.33 730.49,426.37 730.61,426.41 730.74,426.46 730.86,426.5 730.98,426.54 731.1,426.58 731.22,426.62 731.34,426.67 731.46,426.71 731.58,426.75 731.7,426.79 731.82,426.83 731.94,426.87 732.06,426.92 732.18,426.96 732.3,427 732.41,427.04 732.53,427.08 732.65,427.12 732.77,427.16 732.88,427.2 733,427.24 733.12,427.28 733.23,427.32 733.35,427.36 733.47,427.4 733.58,427.44 733.7,427.48 733.81,427.52 733.93,427.56 734.04,427.6 734.16,427.64 734.27,427.68 734.38,427.72 734.5,427.76 734.61,427.8 734.72,427.84 734.84,427.88 734.95,427.92 735.06,427.96 735.17,428 735.28,428.04 735.4,428.08 735.51,428.11 735.62,428.15 735.73,428.19 735.84,428.23 735.95,428.27 736.06,428.31 736.17,428.35 736.28,428.39 736.39,428.43 736.5,428.47 736.61,428.5 736.72,428.54 736.83,428.58 736.94,428.62 737.04,428.66 737.15,428.7 737.26,428.73 737.37,428.77 737.47,428.81 737.58,428.85 737.69,428.89 737.79,428.92 737.9,428.96 738.01,429 738.11,429.04 738.22,429.07 738.32,429.11 738.43,429.15 738.54,429.18 738.64,429.22 738.75,429.26 738.85,429.3 738.95,429.33 739.06,429.37 739.16,429.41 739.27,429.44 739.37,429.48 739.47,429.52 739.58,429.55 739.68,429.59 739.78,429.62 739.88,429.66 739.99,429.7 740.09,429.73 740.19,429.77 740.29,429.81 740.39,429.84 740.5,429.88 740.6,429.91 740.7,429.95 740.8,429.98 740.9,430.02 741,430.06 741.1,430.09 741.2,430.13 741.3,430.16 741.4,430.2 741.5,430.23 741.6,430.27 741.7,430.3 741.8,430.34 741.89,430.37 741.99,430.41 742.09,430.44 742.19,430.48 742.29,430.51 742.39,430.54 742.48,430.58 742.58,430.61 742.68,430.65 742.77,430.68 742.87,430.72 742.97,430.75 743.06,430.78 743.16,430.82 743.26,430.85 743.35,430.89 743.45,430.92 743.54,430.95 743.64,430.99 743.74,431.02 743.83,431.06 743.93,431.09 744.02,431.12 744.12,431.16 744.21,431.19 744.3,431.22 744.4,431.26 744.49,431.29 744.59,431.32 744.68,431.36 744.77,431.39 744.87,431.42 744.96,431.45 745.05,431.49 745.15,431.52 745.24,431.55 745.33,431.59 745.42,431.62 745.52,431.65 745.61,431.68 745.7,431.72 745.79,431.75 745.88,431.78 745.97,431.81 746.06,431.84 746.16,431.88 746.25,431.91 746.34,431.94 746.43,431.97 746.52,432.01 746.61,432.04 746.7,432.07 746.79,432.1 746.88,432.13 746.97,432.16 747.06,432.2 747.15,432.23 747.24,432.26 747.33,432.29 747.41,432.32 747.5,432.35 747.59,432.38 747.68,432.42 747.77,432.45 747.86,432.48 747.94,432.51 748.03,432.54 748.12,432.57 748.21,432.6 748.3,432.63 748.38,432.66 748.47,432.69 748.56,432.73 748.64,432.76 748.73,432.79 748.82,432.82 748.9,432.85 748.99,432.88 749.08,432.91 749.16,432.94 749.25,432.97 749.33,433 749.42,433.03 749.5,433.06 749.59,433.09 749.68,433.12 749.76,433.15 749.85,433.18 749.93,433.21 750.01,433.24 750.1,433.27 750.18,433.3 750.27,433.33 750.35,433.36 750.44,433.39 750.52,433.41 750.6,433.44 750.69,433.47 750.77,433.5 750.85,433.53 750.94,433.56 751.02,433.59 751.1,433.62 751.19,433.65 751.27,433.67 751.35,433.7 751.43,433.73 751.52,433.76 751.6,433.79 751.68,433.82 751.76,433.85 751.84,433.87 751.93,433.9 752.01,433.93 752.09,433.96 752.17,433.99 752.25,434.01 752.33,434.04 752.41,434.07 752.49,434.1 752.57,434.13 752.65,434.15 752.73,434.18 752.81,434.21 752.9,434.24 752.98,434.27 753.06,434.29 753.13,434.32 753.21,434.35 753.29,434.38 753.37,434.4 753.45,434.43 753.53,434.46 753.61,434.49 753.69,434.51 753.77,434.54 753.85,434.57 753.93,434.6 754,434.62 754.08,434.65 754.16,434.68 754.24,434.7 754.32,434.73 754.4,434.76 754.47,434.79 754.55,434.81 754.63,434.84 754.71,434.87 754.78,434.89 754.86,434.92 754.94,434.95 755.01,434.97 755.09,435 755.17,435.03 755.24,435.05 755.32,435.08 755.4,435.11 755.47,435.13 755.55,435.16 755.63,435.19 755.7,435.21 755.78,435.24 755.85,435.26 755.93,435.29 756.01,435.32 756.08,435.34 756.16,435.37 756.23,435.39 756.31,435.42 756.38,435.45 756.46,435.47 756.53,435.5 756.61,435.52 756.68,435.55 756.76,435.58 756.83,435.6 756.9,435.63 756.98,435.65 757.05,435.68 757.13,435.71 757.2,435.73 757.27,435.76 757.35,435.78 757.42,435.81 757.49,435.83 757.57,435.86 757.64,435.88 757.71,435.91 757.79,435.93 757.86,435.96 757.93,435.98 758.01,436.01 758.08,436.04 758.15,436.06 758.22,436.09 758.3,436.11 758.37,436.14 758.44,436.16 758.51,436.19 758.58,436.21 758.66,436.24 758.73,436.26 758.8,436.29 758.87,436.31 758.94,436.33 759.01,436.36 759.09,436.38 759.16,436.41 759.23,436.43 759.3,436.46 759.37,436.48 759.44,436.51 759.51,436.53 759.58,436.56 759.65,436.58 759.72,436.61 759.79,436.63 759.86,436.65 759.93,436.68 760,436.7 760.07,436.73 760.14,436.75 760.21,436.78 760.28,436.8 760.35,436.82 760.42,436.85 760.49,436.87 760.56,436.9 760.63,436.92 760.7,436.94 760.77,436.97 760.84,436.99 760.91,437.02 760.97,437.04 761.04,437.06 761.11,437.09 761.18,437.11 761.25,437.13 761.32,437.16 761.39,437.18 761.45,437.21 761.52,437.23 761.59,437.25 761.66,437.28 761.73,437.3 761.79,437.32 761.86,437.35 761.93,437.37 762,437.39 762.06,437.42 762.13,437.44 762.2,437.46 762.27,437.49 762.33,437.51 762.4,437.53 762.47,437.56 762.53,437.58 762.6,437.6 762.67,437.63 762.73,437.65 762.8,437.67 762.87,437.69 762.93,437.72 763,437.74 763.06,437.76 763.13,437.79 763.2,437.81 763.26,437.83 763.33,437.85 763.39,437.88 763.46,437.9 763.52,437.92 763.59,437.95 763.66,437.97 763.72,437.99 763.79,438.01 763.85,438.04 763.92,438.06 763.98,438.08 764.05,438.1 764.11,438.13 764.18,438.15 764.24,438.17 764.3,438.19 764.37,438.22 764.43,438.24 764.5,438.26 764.56,438.28 764.63,438.31 764.69,438.33 764.75,438.35 764.82,438.37 764.88,438.39 764.95,438.41 765.01,438.42 765.07,438.44 765.14,438.45 765.2,438.47 765.26,438.48 765.33,438.49 765.39,438.51 765.45,438.52 765.52,438.54 765.58,438.55 765.64,438.56 765.71,438.58 765.77,438.59 765.83,438.6 765.89,438.62 765.96,438.63 766.02,438.65 766.08,438.66 766.14,438.67 766.21,438.69 766.27,438.7 766.33,438.71 766.39,438.73 766.45,438.74 766.52,438.76 766.58,438.77 766.64,438.78 766.7,438.8 766.76,438.81 766.83,438.82 766.89,438.84 766.95,438.85 767.01,438.86 767.07,438.88 767.13,438.89 767.19,438.9 767.25,438.92 767.32,438.93 767.38,438.94 767.44,438.96 767.5,438.97 767.56,438.98 767.62,439 767.68,439.01 767.74,439.02 767.8,439.04 767.86,439.05 767.92,439.06 767.98,439.08 768.04,439.09 768.1,439.1 768.16,439.12 768.22,439.13 768.28,439.14 768.34,439.16 768.4,439.17 768.46,439.18 768.52,439.2 768.58,439.21 768.64,439.22 768.7,439.24 768.76,439.25 768.82,439.26 768.88,439.28 768.94,439.29 769,439.3 769.05,439.31 769.11,439.33 769.17,439.34 769.23,439.35 769.29,439.37 769.35,439.38 769.41,439.39 769.47,439.4 769.52,439.42 769.58,439.43 769.64,439.44 769.7,439.46 769.76,439.47 769.82,439.48 769.87,439.49 769.93,439.51 769.99,439.52 770.05,439.53 770.11,439.55 770.16,439.56 770.22,439.57 770.28,439.58 770.34,439.6 770.39,439.61 770.45,439.62 770.51,439.63 770.57,439.65 770.62,439.66 770.68,439.67 770.74,439.68 770.8,439.7 770.85,439.71 770.91,439.72 770.97,439.73 771.02,439.75 771.08,439.76 771.14,439.77 771.19,439.78 771.25,439.8 771.31,439.81 771.36,439.82 771.42,439.83 771.48,439.85 771.53,439.86 771.59,439.87 771.65,439.88 771.7,439.9 771.76,439.91 771.81,439.92 771.87,439.93 771.93,439.95 771.98,439.96 772.04,439.97 772.09,439.98 772.15,439.99 772.2,440.01 772.26,440.02 772.31,440.03 772.37,440.04 772.43,440.06 772.48,440.07 772.54,440.08 772.59,440.09 772.65,440.1 772.7,440.12 772.76,440.13 772.81,440.14 772.87,440.15 772.92,440.16 772.98,440.18 773.03,440.19 773.09,440.2 773.14,440.21 773.2,440.22 773.25,440.24 773.3,440.25 773.36,440.26 773.41,440.27 773.47,440.28 773.52,440.3 773.58,440.31 773.63,440.32 773.68,440.33 773.74,440.34 773.79,440.36 773.85,440.37 773.9,440.38 773.95,440.39 774.01,440.4 774.06,440.42 774.11,440.43 774.17,440.44 774.22,440.45 774.27,440.46 774.33,440.47 774.38,440.49 774.44,440.5 774.49,440.51 774.54,440.52 774.59,440.53 774.65,440.54 774.7,440.56 774.75,440.57 774.81,440.58 774.86,440.59 774.91,440.6 774.97,440.61 775.02,440.63 775.07,440.64 775.12,440.65 775.18,440.66 775.23,440.67 775.28,440.68 775.33,440.7 775.39,440.71 775.44,440.72 775.49,440.73 775.54,440.74 775.59,440.75 775.65,440.76 775.7,440.78 775.75,440.79 775.8,440.8 775.85,440.81 775.91,440.82 775.96,440.83 776.01,440.84 776.06,440.86 776.11,440.87 776.16,440.88 776.22,440.89 776.27,440.9 776.32,440.91 776.37,440.92 776.42,440.93 776.47,440.95 776.52,440.96 776.58,440.97 776.63,440.98 776.68,440.99 776.73,441 776.78,441.01 776.83,441.02 776.88,441.04 776.93,441.05 776.98,441.06 777.03,441.07 777.09,441.08 777.14,441.09 777.19,441.1 777.24,441.11 777.29,441.13 777.34,441.14 777.39,441.15 777.44,441.16 777.49,441.17 777.54,441.18 777.59,441.19 777.64,441.2 777.69,441.21 777.74,441.22 777.79,441.24 777.84,441.25 777.89,441.26 777.94,441.27 777.99,441.28 778.04,441.29 778.09,441.3 778.14,441.31 778.19,441.32 778.24,441.33 778.29,441.35 778.34,441.36 778.39,441.37 778.44,441.38 778.49,441.39 778.53,441.4 778.58,441.41 778.63,441.42 778.68,441.43 778.73,441.44 778.78,441.45 778.83,441.46 778.88,441.48 778.93,441.49 778.98,441.5 779.03,441.51 779.07,441.52 779.12,441.53 779.17,441.54 779.22,441.55 779.27,441.56 779.32,441.57 779.37,441.58 779.42,441.59 779.46,441.6 779.51,441.61 779.56,441.63 779.61,441.64 779.66,441.65 779.71,441.66 779.75,441.67 779.8,441.68 779.85,441.69 779.9,441.7 779.95,441.71 779.99,441.72 780.04,441.73 780.09,441.74 780.14,441.75 780.19,441.76 780.23,441.77 780.28,441.78 780.33,441.79 780.38,441.8 780.42,441.81 780.47,441.82 780.52,441.82 780.57,441.83 780.61,441.84 780.66,441.85 780.71,441.86 780.76,441.87 780.8,441.88 780.85,441.89 780.9,441.9 780.94,441.91 780.99,441.92 781.04,441.93 781.09,441.94 781.13,441.95 781.18,441.96 781.23,441.97 781.27,441.98 781.32,441.99 781.37,442 781.41,442 781.46,442.01 781.51,442.02 781.55,442.03 781.6,442.04 781.65,442.05 781.69,442.06 781.74,442.07 781.79,442.08 781.83,442.09 781.88,442.1 781.92,442.11 781.97,442.12 782.02,442.13 782.06,442.14 782.11,442.14 782.16,442.15 782.2,442.16 782.25,442.17 782.29,442.18 782.34,442.19 782.39,442.2 782.43,442.21 782.48,442.22 782.52,442.23 782.57,442.24 782.61,442.25 782.66,442.26 782.71,442.26 782.75,442.27 782.8,442.28 782.84,442.29 782.89,442.3 782.93,442.31 782.98,442.32 783.02,442.33 783.07,442.34 783.11,442.35 783.16,442.36 783.2,442.37 783.25,442.37 783.29,442.38 783.34,442.39 783.38,442.4 783.43,442.41 783.47,442.42 783.52,442.43 783.56,442.44 783.61,442.45 783.65,442.46 783.7,442.46 783.74,442.47 783.79,442.48 783.83,442.49 783.88,442.5 783.92,442.51 783.97,442.52 784.01,442.53 784.05,442.54 784.1,442.55 784.14,442.55 784.19,442.56 784.23,442.57 784.28,442.58 784.32,442.59 784.36,442.6 784.41,442.61 784.45,442.62 784.5,442.63 784.54,442.63 784.59,442.64 784.63,442.65 784.67,442.66 784.72,442.67 784.76,442.68 784.8,442.69 784.85,442.7 784.89,442.71 784.94,442.71 784.98,442.72 785.02,442.73 785.07,442.74 785.11,442.75 785.15,442.76 785.2,442.77 785.24,442.78 785.28,442.78 785.33,442.79 785.37,442.8 785.41,442.81 785.46,442.82 785.5,442.83 785.54,442.84 785.59,442.85 785.63,442.85 785.67,442.86 785.72,442.87 785.76,442.88 785.8,442.89 785.85,442.9 785.89,442.91 785.93,442.91 785.97,442.92 786.02,442.93 786.06,442.94 786.1,442.95 786.15,442.96 786.19,442.97 786.23,442.97 786.27,442.98 786.32,442.99 786.36,443 786.4,443.01 786.44,443.02 786.49,443.03 786.53,443.03 786.57,443.04 786.61,443.05 786.66,443.06 786.7,443.07 786.74,443.08 786.78,443.09 786.82,443.09 786.87,443.1 786.91,443.11 786.95,443.12 786.99,443.13 787.03,443.14 787.08,443.14 787.12,443.15 787.16,443.16 787.2,443.17 787.24,443.18 787.29,443.19 787.33,443.2 787.37,443.2 787.41,443.21 787.45,443.22 787.49,443.23 787.54,443.24 787.58,443.25 787.62,443.25 787.66,443.26 787.7,443.27 787.74,443.28 787.78,443.29 787.83,443.3 787.87,443.3 787.91,443.31 787.95,443.32 787.99,443.33 788.03,443.34 788.07,443.35 788.11,443.35 788.16,443.36 788.2,443.37 788.24,443.38 788.28,443.39 788.32,443.4 788.36,443.4 788.4,443.41 788.44,443.42 788.48,443.43 788.52,443.44 788.57,443.44 788.61,443.45 788.65,443.46 788.69,443.47 788.73,443.48 788.77,443.49 788.81,443.49 788.85,443.5 788.89,443.51 788.93,443.52 788.97,443.53 789.01,443.53 789.05,443.54 789.09,443.55 789.13,443.56 789.17,443.57 789.21,443.58 789.25,443.58 789.29,443.59 789.33,443.6 789.38,443.61 789.42,443.62 789.46,443.62 789.5,443.63 789.54,443.64 789.58,443.65 789.62,443.66 789.66,443.66 789.7,443.67 789.74,443.68 789.78,443.69 789.82,443.7 789.85,443.7 789.89,443.71 789.93,443.72 789.97,443.73 790.01,443.74 790.05,443.74 790.09,443.75 790.13,443.76 790.17,443.77 790.21,443.78 790.25,443.78 790.29,443.79 790.33,443.8 790.37,443.81 790.41,443.82 790.45,443.82 790.49,443.83 790.53,443.84 790.57,443.85 790.61,443.86 790.65,443.86 790.68,443.87 790.72,443.88 790.76,443.89 790.8,443.89 790.84,443.9 790.88,443.91 790.92,443.92 790.96,443.93 791,443.93 791.04,443.94 791.07,443.95 791.11,443.96 791.15,443.97 791.19,443.97 791.23,443.98 791.27,443.99 791.31,444 791.35,444 791.38,444.01 791.42,444.02 791.46,444.03 791.5,444.04 791.54,444.04 791.58,444.05 791.62,444.06 791.65,444.07 791.69,444.07 791.73,444.08 791.77,444.09 791.81,444.1 791.85,444.11 791.89,444.11 791.92,444.12 791.96,444.13 792,444.14 792.04,444.14 792.08,444.15 792.11,444.16 792.15,444.17 792.19,444.17 792.23,444.18 792.27,444.19 792.3,444.2 792.34,444.21 792.38,444.21 792.42,444.22 792.46,444.23 792.49,444.24 792.53,444.24 792.57,444.25 792.61,444.26 792.65,444.27 792.68,444.27 792.72,444.28 792.76,444.29 792.8,444.3 792.83,444.3 792.87,444.31 792.91,444.32 792.95,444.33 792.98,444.33 793.02,444.34 793.06,444.35 793.1,444.36 793.13,444.36 793.17,444.37 793.21,444.38 793.25,444.39 793.28,444.39 793.32,444.4 793.36,444.41 793.4,444.42 793.43,444.42 793.47,444.43 793.51,444.44 793.54,444.45 793.58,444.45 793.62,444.46 793.66,444.47 793.69,444.48 793.73,444.48 793.77,444.49 793.8,444.5 793.84,444.51 793.88,444.51 793.91,444.52 793.95,444.53 793.99,444.54 794.02,444.54 794.06,444.55 794.1,444.56 794.13,444.57 794.17,444.57 794.21,444.58 794.24,444.59 794.28,444.6 794.32,444.6 794.35,444.61 794.39,444.62 794.43,444.63 794.46,444.63 794.5,444.64 794.54,444.65 794.57,444.65 794.61,444.66 794.65,444.67 794.68,444.68 794.72,444.68 794.76,444.69 794.79,444.7 794.83,444.71 794.86,444.71 794.9,444.72 794.94,444.73 794.97,444.73 795.01,444.74 795.04,444.75 795.08,444.75 795.12,444.76 795.15,444.77 795.19,444.77 795.22,444.78 795.26,444.79 795.3,444.79 795.33,444.8 795.37,444.81 795.4,444.81 795.44,444.82 795.48,444.83 795.51,444.83 795.55,444.84 795.58,444.85 795.62,444.85 795.65,444.86 795.69,444.87 795.73,444.87 795.76,444.88 795.8,444.89 795.83,444.89 795.87,444.9 795.9,444.9 795.94,444.91 795.97,444.92 796.01,444.92 796.05,444.93 796.08,444.94 796.12,444.94 796.15,444.95 796.19,444.96 796.22,444.96 796.26,444.97 796.29,444.98 796.33,444.98 796.36,444.99 796.4,445 796.43,445 796.47,445.01 796.5,445.02 796.54,445.02 796.57,445.03 796.61,445.04 796.64,445.04 796.68,445.05 796.71,445.06 796.75,445.06 796.78,445.07 796.82,445.07 796.85,445.08 796.89,445.09 796.92,445.09 796.96,445.1 796.99,445.11 797.03,445.11 797.06,445.12 797.1,445.13 797.13,445.13 797.17,445.14 797.2,445.15 797.24,445.15 797.27,445.16 797.31,445.17 797.34,445.17 797.37,445.18 797.41,445.18 797.44,445.19 797.48,445.2 797.51,445.2 797.55,445.21 797.58,445.22 797.62,445.22 797.65,445.23 797.68,445.24 797.72,445.24 797.75,445.25 797.79,445.25 797.82,445.26 797.86,445.27 797.89,445.27 797.92,445.28 797.96,445.29 797.99,445.29 798.03,445.3 798.06,445.31 798.09,445.31 798.13,445.32 798.16,445.32 798.2,445.33 798.23,445.34 798.26,445.34 798.3,445.35 798.33,445.36 798.37,445.36 798.4,445.37 798.43,445.37 798.47,445.38 798.5,445.39 798.54,445.39 798.57,445.4 798.6,445.41 798.64,445.41 798.67,445.42 798.7,445.42 798.74,445.43 798.77,445.44 798.8,445.44 798.84,445.45 798.87,445.46 798.91,445.46 798.94,445.47 798.97,445.47 799.01,445.48 799.04,445.49 799.07,445.49 799.11,445.5 799.14,445.51 799.17,445.51 799.21,445.52 799.24,445.52 799.27,445.53 799.31,445.54 799.34,445.54 799.37,445.55 799.41,445.56 799.44,445.56 799.47,445.57 799.51,445.57 799.54,445.58 799.57,445.59 799.61,445.59 799.64,445.6 799.67,445.6 799.7,445.61 799.74,445.62 799.77,445.62 799.8,445.63 799.84,445.63 799.87,445.64 799.9,445.65 799.94,445.65 799.97,445.66 800,445.67 800.03,445.67 800.07,445.68 800.1,445.68 800.13,445.69 800.16,445.7 800.2,445.7 800.23,445.71 800.26,445.71 800.3,445.72 800.33,445.73 800.36,445.73 800.39,445.74 800.43,445.74 800.46,445.75 800.49,445.76 800.52,445.76 800.56,445.77 800.59,445.77 800.62,445.78 800.65,445.79 800.69,445.79 800.72,445.8 800.75,445.8 800.78,445.81 800.82,445.82 800.85,445.82 800.88,445.83 800.91,445.83 800.95,445.84 800.98,445.85 801.01,445.85 801.04,445.86 801.07,445.86 801.11,445.87 801.14,445.88 801.17,445.88 801.2,445.89 801.23,445.89 801.27,445.9 801.3,445.91 801.33,445.91 801.36,445.92 801.4,445.92 801.43,445.93 801.46,445.94 801.49,445.94 801.52,445.95 801.55,445.95 801.59,445.96 801.62,445.97 801.65,445.97 801.68,445.98 801.71,445.98 801.75,445.99 801.78,446 801.81,446 801.84,446.01 801.87,446.01 801.9,446.02 801.94,446.02 801.97,446.03 802,446.04 802.03,446.04 802.06,446.05 802.09,446.05 802.13,446.06 802.16,446.07 802.19,446.07 802.22,446.08 802.25,446.08 802.28,446.09 802.31,446.09 802.35,446.1 802.38,446.11 802.41,446.11 802.44,446.12 802.47,446.12 802.5,446.13 802.53,446.14 802.57,446.14 802.6,446.15 802.63,446.15 802.66,446.16 802.69,446.16 802.72,446.17 802.75,446.18 802.78,446.18 802.82,446.19 802.85,446.19 802.88,446.2 802.91,446.21 802.94,446.21 802.97,446.22 803,446.22 803.03,446.23 803.06,446.23 803.1,446.24 803.13,446.25 803.16,446.25 803.19,446.26 803.22,446.26 803.25,446.27 803.28,446.27 803.31,446.28 803.34,446.29 803.37,446.29 803.4,446.3 803.44,446.3 803.47,446.31 803.5,446.31 803.53,446.32 803.56,446.33 803.59,446.33 803.62,446.34 803.65,446.34 803.68,446.35 803.71,446.35 803.74,446.36 803.77,446.37 803.8,446.37 803.83,446.38 803.86,446.38 803.89,446.39 803.93,446.39 803.96,446.4 803.99,446.41 804.02,446.41 804.05,446.42 804.08,446.42 804.11,446.43 804.14,446.43 804.17,446.44 804.2,446.44 804.23,446.45 804.26,446.46 804.29,446.46 804.32,446.47 804.35,446.47 804.38,446.48 804.41,446.48 804.44,446.49 804.47,446.5 804.5,446.5 804.53,446.51 804.56,446.51 804.59,446.52 804.62,446.52 804.65,446.53 804.68,446.53 804.71,446.54 804.74,446.55 804.77,446.55 804.8,446.56 804.83,446.56 804.86,446.57 804.89,446.57 804.92,446.58 804.95,446.58 804.98,446.59 805.01,446.6 805.04,446.6 805.07,446.61 805.1,446.61 805.13,446.62 805.16,446.62 805.19,446.63 805.22,446.63 805.25,446.64 805.28,446.65 805.31,446.65 805.34,446.66 805.37,446.66 805.4,446.67 805.43,446.67 805.46,446.68 805.49,446.68 805.52,446.69 805.55,446.7 805.58,446.7 805.61,446.71 805.64,446.71 805.67,446.72 805.7,446.72 805.72,446.73 805.75,446.73 805.78,446.74 805.81,446.74 805.84,446.75 805.87,446.76 805.9,446.76 805.93,446.77 805.96,446.77 805.99,446.78 806.02,446.78 806.05,446.79 806.08,446.79 806.11,446.8 806.14,446.8 806.16,446.81 806.19,446.82 806.22,446.82 806.25,446.83 806.28,446.83 806.31,446.84 806.34,446.84 806.37,446.85 806.4,446.85 806.43,446.86 806.46,446.86 806.49,446.87 806.51,446.87 806.54,446.88 806.57,446.89 806.6,446.89 806.63,446.9 806.66,446.9 806.69,446.91 806.72,446.91 806.75,446.92 806.78,446.92 806.8,446.93 806.83,446.93 806.86,446.94 806.89,446.94 806.92,446.95 806.95,446.96 806.98,446.96 807.01,446.97 807.03,446.97 807.06,446.98 807.09,446.98 807.12,446.99 807.15,446.99 807.18,447 807.21,447 807.24,447.01 807.26,447.01 807.29,447.02 807.32,447.02 807.35,447.03 807.38,447.04 807.41,447.04 807.44,447.05 807.46,447.05 807.49,447.06 807.52,447.06 807.55,447.07 807.58,447.07 807.61,447.08 807.64,447.08 807.66,447.09 807.69,447.09 807.72,447.1 807.75,447.1 807.78,447.11 807.81,447.11 807.83,447.12 807.86,447.12 807.89,447.13 807.92,447.14 807.95,447.14 807.98,447.15 808,447.15 808.03,447.16 808.06,447.16 808.09,447.17 808.12,447.17 808.14,447.18 808.17,447.18 808.2,447.19 808.23,447.19 808.26,447.2 808.29,447.2 808.31,447.21 808.34,447.21 808.37,447.22 808.4,447.22 808.43,447.23 808.45,447.23 808.48,447.24 808.51,447.24 808.54,447.25 808.57,447.26 808.59,447.26 808.62,447.27 808.65,447.27 808.68,447.28 808.71,447.28 808.73,447.29 808.76,447.29 808.79,447.3 808.82,447.3 808.84,447.31 808.87,447.31 808.9,447.32 808.93,447.32 808.96,447.33 808.98,447.33 809.01,447.34 809.04,447.34 809.07,447.35 809.09,447.35 809.12,447.36 809.15,447.36 809.18,447.37 809.2,447.37 809.23,447.38 809.26,447.38 809.29,447.39 809.31,447.39 809.34,447.4 809.37,447.4 809.4,447.41 809.42,447.41 809.45,447.42 809.48,447.42 809.51,447.43 809.53,447.44 809.56,447.44 809.59,447.45 809.62,447.45 809.64,447.46 809.67,447.46 809.7,447.47 809.73,447.47 809.75,447.48 809.78,447.48 809.81,447.49 809.84,447.49 809.86,447.5 809.89,447.5 809.92,447.51 809.94,447.51 809.97,447.52 810,447.52 810.03,447.53 810.05,447.53 810.08,447.54 810.11,447.54 810.13,447.55 810.16,447.55 810.19,447.56 810.22,447.56 810.24,447.57 810.27,447.57 810.3,447.58 810.32,447.58 810.35,447.59 810.38,447.59 810.41,447.6 810.43,447.6 810.46,447.61 810.49,447.61 810.51,447.62 810.54,447.62 810.57,447.63 810.59,447.63 810.62,447.64 810.65,447.64 810.67,447.65 810.7,447.65 810.73,447.66 810.75,447.66 810.78,447.67 810.81,447.67 810.84,447.68 810.86,447.68 810.89,447.69 810.92,447.69 810.94,447.7 810.97,447.7 811,447.71 811.02,447.71 811.05,447.72 811.08,447.72 811.1,447.73 811.13,447.73 811.16,447.74 811.18,447.74 811.21,447.75 811.24,447.75 811.26,447.76 811.29,447.76 811.31,447.77 811.34,447.77 811.37,447.78 811.39,447.78 811.42,447.79 811.45,447.79 811.47,447.8 811.5,447.8"/>
</g>
<path d="M81.2 534.9v-7M81.2 22.3v7M117.84 534.9v-3.5M117.84 22.3v3.5M139.27 534.9v-3.5M139.27 22.3v3.5M154.48 534.9v-3.5M154.48 22.3v3.5M166.28 534.9v-3.5M166.28 22.3v3.5M175.91 534.9v-3.5M175.91 22.3v3.5M184.06 534.9v-3.5M184.06 22.3v3.5M191.12 534.9v-3.5M191.12 22.3v3.5M197.35 534.9v-3.5M197.35 22.3v3.5M202.92 534.9v-7M202.92 22.3v7M239.56 534.9v-3.5M239.56 22.3v3.5M260.99 534.9v-3.5M260.99 22.3v3.5M276.2 534.9v-3.5M276.2 22.3v3.5M287.99 534.9v-3.5M287.99 22.3v3.5M297.63 534.9v-3.5M297.63 22.3v3.5M305.78 534.9v-3.5M305.78 22.3v3.5M312.84 534.9v-3.5M312.84 22.3v3.5M319.06 534.9v-3.5M319.06 22.3v3.5M324.63 534.9v-7M324.63 22.3v7M361.27 534.9v-3.5M361.27 22.3v3.5M382.71 534.9v-3.5M382.71 22.3v3.5M397.91 534.9v-3.5M397.91 22.3v3.5M409.71 534.9v-3.5M409.71 22.3v3.5M419.35 534.9v-3.5M419.35 22.3v3.5M427.5 534.9v-3.5M427.5 22.3v3.5M434.55 534.9v-3.5M434.55 22.3v3.5M440.78 534.9v-3.5M440.78 22.3v3.5M446.35 534.9v-7M446.35 22.3v7M482.99 534.9v-3.5M482.99 22.3v3.5M504.42 534.9v-3.5M504.42 22.3v3.5M519.63 534.9v-3.5M519.63 22.3v3.5M531.43 534.9v-3.5M531.43 22.3v3.5M541.06 534.9v-3.5M541.06 22.3v3.5M549.21 534.9v-3.5M549.21 22.3v3.5M556.27 534.9v-3.5M556.27 22.3v3.5M562.5 534.9v-3.5M562.5 22.3v3.5M568.07 534.9v-7M568.07 22.3v7M604.71 534.9v-3.5M604.71 22.3v3.5M626.14 534.9v-3.5M626.14 22.3v3.5M641.35 534.9v-3.5M641.35 22.3v3.5M653.14 534.9v-3.5M653.14 22.3v3.5M662.78 534.9v-3.5M662.78 22.3v3.5M670.93 534.9v-3.5M670.93 22.3v3.5M677.99 534.9v-3.5M677.99 22.3v3.5M684.21 534.9v-3.5M684.21 22.3v3.5M689.78 534.9v-7M689.78 22.3v7M726.42 534.9v-3.5M726.42 22.3v3.5M747.86 534.9v-3.5M747.86 22.3v3.5M763.06 534.9v-3.5M763.06 22.3v3.5M774.86 534.9v-3.5M774.86 22.3v3.5M784.5 534.9v-3.5M784.5 22.3v3.5M792.65 534.9v-3.5M792.65 22.3v3.5M799.7 534.9v-3.5M799.7 22.3v3.5M805.93 534.9v-3.5M805.93 22.3v3.5M811.5 534.9v-7M811.5 22.3v7M81.2 22.3h7M811.5 22.3h-7M81.2 82.02h3.5M811.5 82.02h-3.5M81.2 66.97h3.5M811.5 66.97h-3.5M81.2 56.3h3.5M811.5 56.3h-3.5M81.2 48.02h3.5M811.5 48.02h-3.5M81.2 41.25h3.5M811.5 41.25h-3.5M81.2 35.53h3.5M811.5 35.53h-3.5M81.2 30.58h3.5M811.5 30.58h-3.5M81.2 26.21h3.5M811.5 26.21h-3.5M81.2 107.73h7M811.5 107.73h-7M81.2 167.45h3.5M811.5 167.45h-3.5M81.2 152.4h3.5M811.5 152.4h-3.5M81.2 141.73h3.5M811.5 141.73h-3.5M81.2 133.45h3.5M811.5 133.45h-3.5M81.2 126.69h3.5M811.5 126.69h-3.5M81.2 120.97h3.5M811.5 120.97h-3.5M81.2 116.01h3.5M811.5 116.01h-3.5M81.2 111.64h3.5M811.5 111.64h-3.5M81.2 193.17h7M811.5 193.17h-7M81.2 252.88h3.5M811.5 252.88h-3.5M81.2 237.84h3.5M811.5 237.84h-3.5M81.2 227.16h3.5M811.5 227.16h-3.5M81.2 218.88h3.5M811.5 218.88h-3.5M81.2 212.12h3.5M811.5 212.12h-3.5M81.2 206.4h3.5M811.5 206.4h-3.5M81.2 201.45h3.5M811.5 201.45h-3.5M81.2 197.08h3.5M811.5 197.08h-3.5M81.2 278.6h7M811.5 278.6h-7M81.2 338.32h3.5M811.5 338.32h-3.5M81.2 323.27h3.5M811.5 323.27h-3.5M81.2 312.6h3.5M811.5 312.6h-3.5M81.2 304.32h3.5M811.5 304.32h-3.5M81.2 297.55h3.5M811.5 297.55h-3.5M81.2 291.83h3.5M811.5 291.83h-3.5M81.2 286.88h3.5M811.5 286.88h-3.5M81.2 282.51h3.5M811.5 282.51h-3.5M81.2 364.03h7M811.5 364.03h-7M81.2 423.75h3.5M811.5 423.75h-3.5M81.2 408.7h3.5M811.5 408.7h-3.5M81.2 398.03h3.5M811.5 398.03h-3.5M81.2 389.75h3.5M811.5 389.75h-3.5M81.2 382.99h3.5M811.5 382.99h-3.5M81.2 377.27h3.5M811.5 377.27h-3.5M81.2 372.31h3.5M811.5 372.31h-3.5M81.2 367.94h3.5M811.5 367.94h-3.5M81.2 449.47h7M811.5 449.47h-7M81.2 509.18h3.5M811.5 509.18h-3.5M81.2 494.14h3.5M811.5 494.14h-3.5M81.2 483.46h3.5M811.5 483.46h-3.5M81.2 475.18h3.5M811.5 475.18h-3.5M81.2 468.42h3.5M811.5 468.42h-3.5M81.2 462.7h3.5M811.5 462.7h-3.5M81.2 457.75h3.5M811.5 457.75h-3.5M81.2 453.38h3.5M811.5 453.38h-3.5M81.2 534.9h7M811.5 534.9h-7" stroke="#000" stroke-width="1.1" fill="none"/>
<rect x="81.2" y="22.3" width="730.3" height="512.6" fill="none" stroke="#000" stroke-width="1.7"/>
<text x="34.3" y="31.2" font-size="21.47" text-anchor="start">10<tspan font-size="17.18" dx="-1.29" dy="-10.73">1</tspan></text>
<text x="34.3" y="116.63" font-size="21.47" text-anchor="start">10<tspan font-size="17.18" dx="0" dy="-10.73">0</tspan></text>
<text x="28.8" y="202.07" font-size="21.47" text-anchor="start">10<tspan font-size="17.18" dx="0" dy="-10.73">-1</tspan></text>
<text x="28.8" y="287.5" font-size="21.47" text-anchor="start">10<tspan font-size="17.18" dx="0" dy="-10.73">-2</tspan></text>
<text x="28.8" y="372.93" font-size="21.47" text-anchor="start">10<tspan font-size="17.18" dx="0" dy="-10.73">-3</tspan></text>
<text x="28.8" y="458.37" font-size="21.47" text-anchor="start">10<tspan font-size="17.18" dx="0" dy="-10.73">-4</tspan></text>
<text x="28.8" y="543.8" font-size="21.47" text-anchor="start">10<tspan font-size="17.18" dx="0" dy="-10.73">-5</tspan></text>
<text x="65" y="566.1" font-size="21.47" text-anchor="start">10<tspan font-size="17.18" dx="0" dy="-10.73">0</tspan></text>
<text x="186.72" y="566.1" font-size="21.47" text-anchor="start">10<tspan font-size="17.18" dx="-1.29" dy="-10.73">1</tspan></text>
<text x="308.43" y="566.1" font-size="21.47" text-anchor="start">10<tspan font-size="17.18" dx="0" dy="-10.73">2</tspan></text>
<text x="430.15" y="566.1" font-size="21.47" text-anchor="start">10<tspan font-size="17.18" dx="0" dy="-10.73">3</tspan></text>
<text x="551.87" y="566.1" font-size="21.47" text-anchor="start">10<tspan font-size="17.18" dx="0" dy="-10.73">4</tspan></text>
<text x="673.58" y="566.1" font-size="21.47" text-anchor="start">10<tspan font-size="17.18" dx="0" dy="-10.73">5</tspan></text>
<text x="795.3" y="566.1" font-size="21.47" text-anchor="start">10<tspan font-size="17.18" dx="0" dy="-10.73">6</tspan></text>
<text x="446.2" y="595.6" font-size="21.47" text-anchor="middle">SGD steps</text>
<text transform="translate(16.4 278.3) rotate(-90)" font-size="21.47" text-anchor="middle">Loss</text>
<text x="440.3" y="414.2" font-size="21.47" text-anchor="end">N=32 d<tspan font-size="17.18" dy="6.44">t</tspan><tspan dy="-6.44">=2 d</tspan><tspan font-size="17.18" dy="6.44">s</tspan><tspan dy="-6.44">=32 m=1 λ=0.1</tspan></text>
<path d="M456 408.8H515" stroke="#ff0000" stroke-width="1.1"/>
<text x="440.3" y="435.72" font-size="21.47" text-anchor="end">N=32 d<tspan font-size="17.18" dy="6.44">t</tspan><tspan dy="-6.44">=2 d</tspan><tspan font-size="17.18" dy="6.44">s</tspan><tspan dy="-6.44">=32 m=4 λ=0.1</tspan></text>
<path d="M456 430.38H515" stroke="#ff7f50" stroke-width="1.1"/>
<text x="440.3" y="457.24" font-size="21.47" text-anchor="end">N=32 d<tspan font-size="17.18" dy="6.44">t</tspan><tspan dy="-6.44">=2 d</tspan><tspan font-size="17.18" dy="6.44">s</tspan><tspan dy="-6.44">=32 m=8 λ=0.1</tspan></text>
<path d="M456 451.96H515" stroke="#ff00ff" stroke-width="1.1"/>
<text x="440.3" y="478.76" font-size="21.47" text-anchor="end">N=32 d<tspan font-size="17.18" dy="6.44">t</tspan><tspan dy="-6.44">=2 d</tspan><tspan font-size="17.18" dy="6.44">s</tspan><tspan dy="-6.44">=32 m=32 λ=0.1</tspan></text>
<path d="M456 473.54H515" stroke="#000000" stroke-width="1.1"/>
<text x="440.3" y="500.28" font-size="21.47" text-anchor="end">N=32 d<tspan font-size="17.18" dy="6.44">t</tspan><tspan dy="-6.44">=2 d</tspan><tspan font-size="17.18" dy="6.44">s</tspan><tspan dy="-6.44">=32 m=64 λ=0.1</tspan></text>
<path d="M456 495.12H515" stroke="#0000ff" stroke-width="1.1"/>
<text x="440.3" y="521.8" font-size="21.47" text-anchor="end">N=32 d<tspan font-size="17.18" dy="6.44">t</tspan><tspan dy="-6.44">=2 d</tspan><tspan font-size="17.18" dy="6.44">s</tspan><tspan dy="-6.44">=32 m=1024 λ=0.1</tspan></text>
<path d="M456 516.7H515" stroke="#00ff00" stroke-width="1.1"/>
</g>
<g id="right" font-family='"Liberation Sans", "DejaVu Sans", sans-serif' fill="#000">
<path d="M1125.27 469.3L1369.27 329.6M1265.93 496.3L1509.93 356.6M1467.6 488.38L1045.6 407.38M1528.6 453.45L1106.6 372.45M1589.6 418.52L1167.6 337.53" stroke="#555" stroke-width="0.9" stroke-dasharray="1.6 3.2" fill="none"/>
<path d="M984.6 442.3L1406.6 523.3L1650.6 383.6L1228.6 302.6Z" stroke="#000" stroke-width="1.25" fill="none" stroke-linejoin="round"/>
<path d="M984.6 442.3l6.51 -3.73M1228.6 302.6l-6.51 3.73M1026.94 450.43l3.12 -1.79M1270.94 310.73l-3.12 1.79M1051.72 455.18l3.12 -1.79M1295.72 315.48l-3.12 1.79M1069.29 458.56l3.12 -1.79M1313.29 318.86l-3.12 1.79M1082.92 461.17l3.12 -1.79M1326.92 321.47l-3.12 1.79M1094.06 463.31l3.12 -1.79M1338.06 323.61l-3.12 1.79M1103.48 465.12l3.12 -1.79M1347.48 325.42l-3.12 1.79M1111.63 466.68l3.12 -1.79M1355.63 326.98l-3.12 1.79M1118.83 468.06l3.12 -1.79M1362.83 328.36l-3.12 1.79M1125.27 469.3l6.51 -3.73M1369.27 329.6l-6.51 3.73M1167.61 477.43l3.12 -1.79M1411.61 337.73l-3.12 1.79M1192.38 482.18l3.12 -1.79M1436.38 342.48l-3.12 1.79M1209.96 485.56l3.12 -1.79M1453.96 345.86l-3.12 1.79M1223.59 488.17l3.12 -1.79M1467.59 348.47l-3.12 1.79M1234.73 490.31l3.12 -1.79M1478.73 350.61l-3.12 1.79M1244.14 492.12l3.12 -1.79M1488.14 352.42l-3.12 1.79M1252.3 493.68l3.12 -1.79M1496.3 353.98l-3.12 1.79M1259.5 495.06l3.12 -1.79M1503.5 355.36l-3.12 1.79M1265.93 496.3l6.51 -3.73M1509.93 356.6l-6.51 3.73M1308.28 504.43l3.12 -1.79M1552.28 364.73l-3.12 1.79M1333.05 509.18l3.12 -1.79M1577.05 369.48l-3.12 1.79M1350.62 512.56l3.12 -1.79M1594.62 372.86l-3.12 1.79M1364.26 515.17l3.12 -1.79M1608.26 375.47l-3.12 1.79M1375.39 517.31l3.12 -1.79M1619.39 377.61l-3.12 1.79M1384.81 519.12l3.12 -1.79M1628.81 379.42l-3.12 1.79M1392.97 520.68l3.12 -1.79M1636.97 380.98l-3.12 1.79M1400.16 522.06l3.12 -1.79M1644.16 382.36l-3.12 1.79M1406.6 523.3l6.51 -3.73M1650.6 383.6l-6.51 3.73M1406.6 523.3l-7.37 -1.41M984.6 442.3l7.37 1.41M1424.96 512.79l-3.54 -0.68M1002.96 431.79l3.54 0.68M1435.7 506.64l-3.54 -0.68M1013.7 425.64l3.54 0.68M1443.33 502.27l-3.54 -0.68M1021.33 421.27l3.54 0.68M1449.24 498.89l-3.54 -0.68M1027.24 417.89l3.54 0.68M1454.07 496.12l-3.54 -0.68M1032.07 415.12l3.54 0.68M1458.15 493.78l-3.54 -0.68M1036.15 412.78l3.54 0.68M1461.69 491.76l-3.54 -0.68M1039.69 410.76l3.54 0.68M1464.81 489.97l-3.54 -0.68M1042.81 408.97l3.54 0.68M1467.6 488.38l-7.37 -1.41M1045.6 407.38l7.37 1.41M1485.96 477.86l-3.54 -0.68M1063.96 396.86l3.54 0.68M1496.7 471.71l-3.54 -0.68M1074.7 390.71l3.54 0.68M1504.33 467.35l-3.54 -0.68M1082.33 386.35l3.54 0.68M1510.24 463.96l-3.54 -0.68M1088.24 382.96l3.54 0.68M1515.07 461.2l-3.54 -0.68M1093.07 380.2l3.54 0.68M1519.15 458.86l-3.54 -0.68M1097.15 377.86l3.54 0.68M1522.69 456.83l-3.54 -0.68M1100.69 375.83l3.54 0.68M1525.81 455.05l-3.54 -0.68M1103.81 374.05l3.54 0.68M1528.6 453.45l-7.37 -1.41M1106.6 372.45l7.37 1.41M1546.96 442.94l-3.54 -0.68M1124.96 361.94l3.54 0.68M1557.7 436.79l-3.54 -0.68M1135.7 355.79l3.54 0.68M1565.33 432.42l-3.54 -0.68M1143.33 351.42l3.54 0.68M1571.24 429.04l-3.54 -0.68M1149.24 348.04l3.54 0.68M1576.07 426.27l-3.54 -0.68M1154.07 345.27l3.54 0.68M1580.15 423.93l-3.54 -0.68M1158.15 342.93l3.54 0.68M1583.69 421.91l-3.54 -0.68M1161.69 340.91l3.54 0.68M1586.81 420.12l-3.54 -0.68M1164.81 339.12l3.54 0.68M1589.6 418.52l-7.37 -1.41M1167.6 337.53l7.37 1.41M1607.96 408.01l-3.54 -0.68M1185.96 327.01l3.54 0.68M1618.7 401.86l-3.54 -0.68M1196.7 320.86l3.54 0.68M1626.33 397.5l-3.54 -0.68M1204.33 316.5l3.54 0.68M1632.24 394.11l-3.54 -0.68M1210.24 313.11l3.54 0.68M1637.07 391.35l-3.54 -0.68M1215.07 310.35l3.54 0.68M1641.15 389.01l-3.54 -0.68M1219.15 308.01l3.54 0.68M1644.69 386.98l-3.54 -0.68M1222.69 305.98l3.54 0.68M1647.81 385.2l-3.54 -0.68M1225.81 304.2l3.54 0.68M1650.6 383.6l-7.37 -1.41M1228.6 302.6l7.37 1.41" stroke="#000" stroke-width="1.0" fill="none"/>
<g stroke-width="1.45" stroke-linejoin="round" stroke-linecap="round" fill="#fff">
<polygon points="1210.24,74.5 1252.44,83.9 1270.8,72.3 1228.6,63.3" stroke="#9400d3"/>
<polygon points="1252.44,83.9 1294.64,92.2 1313,83.3 1270.8,72.3" stroke="#9400d3"/>
<polygon points="1294.64,92.2 1336.84,108.2 1355.2,90.7 1313,83.3" stroke="#9400d3"/>
<polygon points="1336.84,108.2 1379.04,166.8 1397.4,122.6 1355.2,90.7" stroke="#9400d3"/>
<polygon points="1379.04,166.8 1421.24,178.8 1439.6,165.2 1397.4,122.6" stroke="#9400d3"/>
<polygon points="1421.24,178.8 1463.44,189.9 1481.8,177.1 1439.6,165.2" stroke="#9400d3"/>
<polygon points="1463.44,189.9 1505.64,251.4 1524,227.1 1481.8,177.1" stroke="#9400d3"/>
<polygon points="1505.64,251.4 1547.84,263.2 1566.2,254.9 1524,227.1" stroke="#9400d3"/>
<polygon points="1547.84,263.2 1590.04,300.8 1608.4,264.9 1566.2,254.9" stroke="#9400d3"/>
<polygon points="1590.04,300.8 1632.24,311.5 1650.6,274.9 1608.4,264.9" stroke="#9400d3"/>
<polygon points="1167.6,100.6 1209.8,110.5 1252.44,83.9 1210.24,74.5" stroke="#9400d3"/>
<polygon points="1209.8,110.5 1252,138.2 1294.64,92.2 1252.44,83.9" stroke="#9400d3"/>
<polygon points="1252,138.2 1294.2,192.5 1336.84,108.2 1294.64,92.2" stroke="#9400d3"/>
<polygon points="1294.2,192.5 1336.4,252.5 1379.04,166.8 1336.84,108.2" stroke="#9400d3"/>
<polygon points="1336.4,252.5 1378.6,260.9 1421.24,178.8 1379.04,166.8" stroke="#9400d3"/>
<polygon points="1378.6,260.9 1420.8,304.1 1463.44,189.9 1421.24,178.8" stroke="#9400d3"/>
<polygon points="1420.8,304.1 1463,351.8 1505.64,251.4 1463.44,189.9" stroke="#9400d3"/>
<polygon points="1463,351.8 1505.2,352.4 1547.84,263.2 1505.64,251.4" stroke="#9400d3"/>
<polygon points="1505.2,352.4 1547.4,383 1590.04,300.8 1547.84,263.2" stroke="#9400d3"/>
<polygon points="1547.4,383 1589.6,386.2 1632.24,311.5 1590.04,300.8" stroke="#9400d3"/>
<polygon points="1149.24,110.9 1191.44,124.9 1209.8,110.5 1167.6,100.6" stroke="#9400d3"/>
<polygon points="1191.44,124.9 1233.64,184.9 1252,138.2 1209.8,110.5" stroke="#9400d3"/>
<polygon points="1233.64,184.9 1275.84,210.2 1294.2,192.5 1252,138.2" stroke="#9400d3"/>
<polygon points="1275.84,210.2 1318.04,259.9 1336.4,252.5 1294.2,192.5" stroke="#9400d3"/>
<polygon points="1318.04,259.9 1360.24,313.8 1378.6,260.9 1336.4,252.5" stroke="#9400d3"/>
<polygon points="1360.24,313.8 1402.44,355.8 1420.8,304.1 1378.6,260.9" stroke="#9400d3"/>
<polygon points="1402.44,355.8 1444.64,365.6 1463,351.8 1420.8,304.1" stroke="#9400d3"/>
<polygon points="1444.64,365.6 1486.84,383.8 1505.2,352.4 1463,351.8" stroke="#9400d3"/>
<polygon points="1486.84,383.8 1529.04,400.4 1547.4,383 1505.2,352.4" stroke="#9400d3"/>
<polygon points="1529.04,400.4 1571.24,407.5 1589.6,386.2 1547.4,383" stroke="#9400d3"/>
<polygon points="1106.6,148.8 1148.8,219.2 1191.44,124.9 1149.24,110.9" stroke="#9400d3"/>
<polygon points="1148.8,219.2 1191,270.8 1233.64,184.9 1191.44,124.9" stroke="#9400d3"/>
<polygon points="1191,270.8 1233.2,312.4 1275.84,210.2 1233.64,184.9" stroke="#9400d3"/>
<polygon points="1233.2,312.4 1275.4,354.3 1318.04,259.9 1275.84,210.2" stroke="#9400d3"/>
<polygon points="1275.4,354.3 1317.6,387.9 1360.24,313.8 1318.04,259.9" stroke="#9400d3"/>
<polygon points="1317.6,387.9 1359.8,402.5 1402.44,355.8 1360.24,313.8" stroke="#9400d3"/>
<polygon points="1359.8,402.5 1402,417.8 1444.64,365.6 1402.44,355.8" stroke="#9400d3"/>
<polygon points="1402,417.8 1444.2,427.4 1486.84,383.8 1444.64,365.6" stroke="#9400d3"/>
<polygon points="1444.2,427.4 1486.4,433.9 1529.04,400.4 1486.84,383.8" stroke="#9400d3"/>
<polygon points="1486.4,433.9 1528.6,440.9 1571.24,407.5 1529.04,400.4" stroke="#9400d3"/>
<polygon points="1088.24,188.1 1130.44,239.7 1148.8,219.2 1106.6,148.8" stroke="#9400d3"/>
<polygon points="1130.44,239.7 1172.64,332.1 1191,270.8 1148.8,219.2" stroke="#9400d3"/>
<polygon points="1172.64,332.1 1214.84,349 1233.2,312.4 1191,270.8" stroke="#9400d3"/>
<polygon points="1214.84,349 1257.04,387.9 1275.4,354.3 1233.2,312.4" stroke="#9400d3"/>
<polygon points="1257.04,387.9 1299.24,405.2 1317.6,387.9 1275.4,354.3" stroke="#9400d3"/>
<polygon points="1299.24,405.2 1341.44,416.9 1359.8,402.5 1317.6,387.9" stroke="#9400d3"/>
<polygon points="1341.44,416.9 1383.64,425 1402,417.8 1359.8,402.5" stroke="#9400d3"/>
<polygon points="1383.64,425 1425.84,432.2 1444.2,427.4 1402,417.8" stroke="#9400d3"/>
<polygon points="1425.84,432.2 1468.04,442.3 1486.4,433.9 1444.2,427.4" stroke="#9400d3"/>
<polygon points="1468.04,442.3 1510.24,449.8 1528.6,440.9 1486.4,433.9" stroke="#9400d3"/>
<polygon points="1045.6,326.5 1087.8,371.5 1130.44,239.7 1088.24,188.1" stroke="#9400d3"/>
<polygon points="1087.8,371.5 1130,394.6 1172.64,332.1 1130.44,239.7" stroke="#9400d3"/>
<polygon points="1130,394.6 1172.2,407.6 1214.84,349 1172.64,332.1" stroke="#9400d3"/>
<polygon points="1172.2,407.6 1214.4,418.4 1257.04,387.9 1214.84,349" stroke="#9400d3"/>
<polygon points="1214.4,418.4 1256.6,425 1299.24,405.2 1257.04,387.9" stroke="#9400d3"/>
<polygon points="1256.6,425 1298.8,435.1 1341.44,416.9 1299.24,405.2" stroke="#9400d3"/>
<polygon points="1298.8,435.1 1341,442.6 1383.64,425 1341.44,416.9" stroke="#9400d3"/>
<polygon points="1341,442.6 1383.2,453.7 1425.84,432.2 1383.64,425" stroke="#9400d3"/>
<polygon points="1383.2,453.7 1425.4,460.6 1468.04,442.3 1425.84,432.2" stroke="#9400d3"/>
<polygon points="1425.4,460.6 1467.6,467.6 1510.24,449.8 1468.04,442.3" stroke="#9400d3"/>
<polygon points="1026.9,359.6 1068.3,389.5 1087.8,371.5 1045.6,326.5" stroke="#9400d3"/>
<polygon points="1068.3,389.5 1107.3,400.2 1130,394.6 1087.8,371.5" stroke="none"/>
<polyline points="1107.3,400.2 1130,394.6 1087.8,371.5 1068.3,389.5" stroke="#9400d3" fill="none"/>
<polygon points="1107.3,400.2 1150,409.9 1172.2,407.6 1130,394.6" stroke="none"/>
<polyline points="1150,409.9 1172.2,407.6 1130,394.6 1107.3,400.2" stroke="#9400d3" fill="none"/>
<polygon points="1150,409.9 1192.5,417.7 1214.4,418.4 1172.2,407.6" stroke="none"/>
<polyline points="1192.5,417.7 1214.4,418.4 1172.2,407.6 1150,409.9" stroke="#9400d3" fill="none"/>
<polygon points="1192.5,417.7 1235.1,427 1256.6,425 1214.4,418.4" stroke="none"/>
<polyline points="1235.1,427 1256.6,425 1214.4,418.4 1192.5,417.7" stroke="#9400d3" fill="none"/>
<polygon points="1235.1,427 1277.4,437.2 1298.8,435.1 1256.6,425" stroke="none"/>
<polyline points="1277.4,437.2 1298.8,435.1 1256.6,425 1235.1,427" stroke="#9400d3" fill="none"/>
<polygon points="1277.4,437.2 1320.1,446.1 1341,442.6 1298.8,435.1" stroke="none"/>
<polyline points="1320.1,446.1 1341,442.6 1298.8,435.1 1277.4,437.2" stroke="#9400d3" fill="none"/>
<polygon points="1320.1,446.1 1362.8,454.1 1383.2,453.7 1341,442.6" stroke="none"/>
<polyline points="1362.8,454.1 1383.2,453.7 1341,442.6 1320.1,446.1" stroke="#9400d3" fill="none"/>
<polygon points="1362.8,454.1 1405.9,459.6 1425.4,460.6 1383.2,453.7" stroke="none"/>
<polyline points="1405.9,459.6 1425.4,460.6 1383.2,453.7 1362.8,454.1" stroke="#9400d3" fill="none"/>
<polygon points="1405.9,459.6 1449,468 1467.6,467.6 1425.4,460.6" stroke="none"/>
<polyline points="1449,468 1467.6,467.6 1425.4,460.6 1405.9,459.6" stroke="#9400d3" fill="none"/>
<polygon points="984.6,360.4 1026.8,369.6 1068.3,389.5 1026.9,359.6" stroke="#9400d3"/>
<polygon points="1026.8,369.6 1069,380 1107.3,400.2 1068.3,389.5" stroke="#009e73"/>
<polygon points="1069,380 1111.2,388.2 1150,409.9 1107.3,400.2" stroke="#009e73"/>
<polygon points="1111.2,388.2 1153.4,396.6 1192.5,417.7 1150,409.9" stroke="#009e73"/>
<polygon points="1153.4,396.6 1195.6,404.3 1235.1,427 1192.5,417.7" stroke="#009e73"/>
<polygon points="1195.6,404.3 1237.8,412.9 1277.4,437.2 1235.1,427" stroke="#009e73"/>
<polygon points="1237.8,412.9 1280,420.7 1320.1,446.1 1277.4,437.2" stroke="#009e73"/>
<polygon points="1280,420.7 1322.2,428.2 1362.8,454.1 1320.1,446.1" stroke="#009e73"/>
<polygon points="1322.2,428.2 1364.4,437.2 1405.9,459.6 1362.8,454.1" stroke="#009e73"/>
<polygon points="1364.4,437.2 1406.6,441.7 1449,468 1405.9,459.6" stroke="#009e73"/>
<path d="M1073.8 380.95L1105.8 399.6M1116 389.15L1148.5 409.3M1158.2 397.55L1191 417.1M1200.4 405.25L1233.6 426.4M1242.6 413.85L1275.9 436.6M1284.8 421.65L1318.6 445.5M1327 429.15L1361.3 453.5M1369.2 438.15L1404.4 459" stroke="#009e73" fill="none"/>
</g>
<path d="M1406.6 523.3V441.7M1650.6 383.6V274.9" stroke="#000" stroke-width="1.0" fill="none"/>
<path d="M984.2 442.3V163.2" stroke="#707070" stroke-width="1.9" fill="none"/>
<path d="M984.2 163.7h8M984.2 194.22h4M984.2 186.53h4M984.2 181.08h4M984.2 176.85h4M984.2 173.39h4M984.2 170.46h4M984.2 167.93h4M984.2 165.7h4M984.2 207.37h8M984.2 237.89h4M984.2 230.2h4M984.2 224.75h4M984.2 220.52h4M984.2 217.06h4M984.2 214.13h4M984.2 211.6h4M984.2 209.37h4M984.2 251.04h8M984.2 281.56h4M984.2 273.87h4M984.2 268.42h4M984.2 264.19h4M984.2 260.73h4M984.2 257.8h4M984.2 255.27h4M984.2 253.04h4M984.2 294.71h8M984.2 325.23h4M984.2 317.54h4M984.2 312.09h4M984.2 307.86h4M984.2 304.4h4M984.2 301.47h4M984.2 298.94h4M984.2 296.71h4M984.2 338.38h8M984.2 368.9h4M984.2 361.21h4M984.2 355.76h4M984.2 351.53h4M984.2 348.07h4M984.2 345.14h4M984.2 342.61h4M984.2 340.38h4M984.2 382.05h8M984.2 412.57h4M984.2 404.88h4M984.2 399.43h4M984.2 395.2h4M984.2 391.74h4M984.2 388.81h4M984.2 386.28h4M984.2 384.05h4M984.2 425.72h8M984.2 438.87h4M984.2 435.41h4M984.2 432.48h4M984.2 429.95h4M984.2 427.72h4" stroke="#555" stroke-width="1.1" fill="none"/>
<text x="939.2" y="171.7" font-size="19" text-anchor="start">10<tspan font-size="15.2" dx="0" dy="-9.5">2</tspan></text>
<text x="939.2" y="215.37" font-size="19" text-anchor="start">10<tspan font-size="15.2" dx="-1.14" dy="-9.5">1</tspan></text>
<text x="939.2" y="259.04" font-size="19" text-anchor="start">10<tspan font-size="15.2" dx="0" dy="-9.5">0</tspan></text>
<text x="933.7" y="302.71" font-size="19" text-anchor="start">10<tspan font-size="15.2" dx="0" dy="-9.5">-1</tspan></text>
<text x="933.7" y="346.38" font-size="19" text-anchor="start">10<tspan font-size="15.2" dx="0" dy="-9.5">-2</tspan></text>
<text x="933.7" y="390.05" font-size="19" text-anchor="start">10<tspan font-size="15.2" dx="0" dy="-9.5">-3</tspan></text>
<text x="933.7" y="433.72" font-size="19" text-anchor="start">10<tspan font-size="15.2" dx="0" dy="-9.5">-4</tspan></text>
<text x="962.8" y="457.5" font-size="19" text-anchor="start">10<tspan font-size="15.2" dx="0" dy="-9.5">0</tspan></text>
<text x="1103.47" y="484.5" font-size="19" text-anchor="start">10<tspan font-size="15.2" dx="-1.14" dy="-9.5">1</tspan></text>
<text x="1244.13" y="511.5" font-size="19" text-anchor="start">10<tspan font-size="15.2" dx="0" dy="-9.5">2</tspan></text>
<text x="1384.8" y="538.5" font-size="19" text-anchor="start">10<tspan font-size="15.2" dx="0" dy="-9.5">3</tspan></text>
<text x="1419.6" y="535.9" font-size="19" text-anchor="start">10<tspan font-size="15.2" dx="0" dy="-9.5">-3</tspan></text>
<text x="1480.6" y="499.98" font-size="19" text-anchor="start">10<tspan font-size="15.2" dx="0" dy="-9.5">-2</tspan></text>
<text x="1541.6" y="465.25" font-size="19" text-anchor="start">10<tspan font-size="15.2" dx="0" dy="-9.5">-1</tspan></text>
<text x="1602.6" y="430.52" font-size="19" text-anchor="start">10<tspan font-size="15.2" dx="0" dy="-9.5">0</tspan></text>
<text x="1663.6" y="395.8" font-size="19" text-anchor="start">10<tspan font-size="15.2" dx="-1.14" dy="-9.5">1</tspan></text>
<text x="1146.2" y="517.7" font-size="19" text-anchor="middle">m</text>
<text x="1614.3" y="476.3" font-size="19" text-anchor="middle">λ</text>
<text transform="translate(910.6 303.1) rotate(-90)" font-size="19" text-anchor="middle">Loss</text>
<text x="1659.4" y="13.4" font-size="19" text-anchor="end">N=64 d<tspan font-size="15.2" dy="5.7">t</tspan><tspan dy="-5.7">=2 d</tspan><tspan font-size="15.2" dy="5.7">s</tspan><tspan dy="-5.7">=64</tspan></text>
<path d="M1671.1 8.9H1725" stroke="#9400d3" stroke-width="1.45"/>
</g>
</svg>
</body></html>
